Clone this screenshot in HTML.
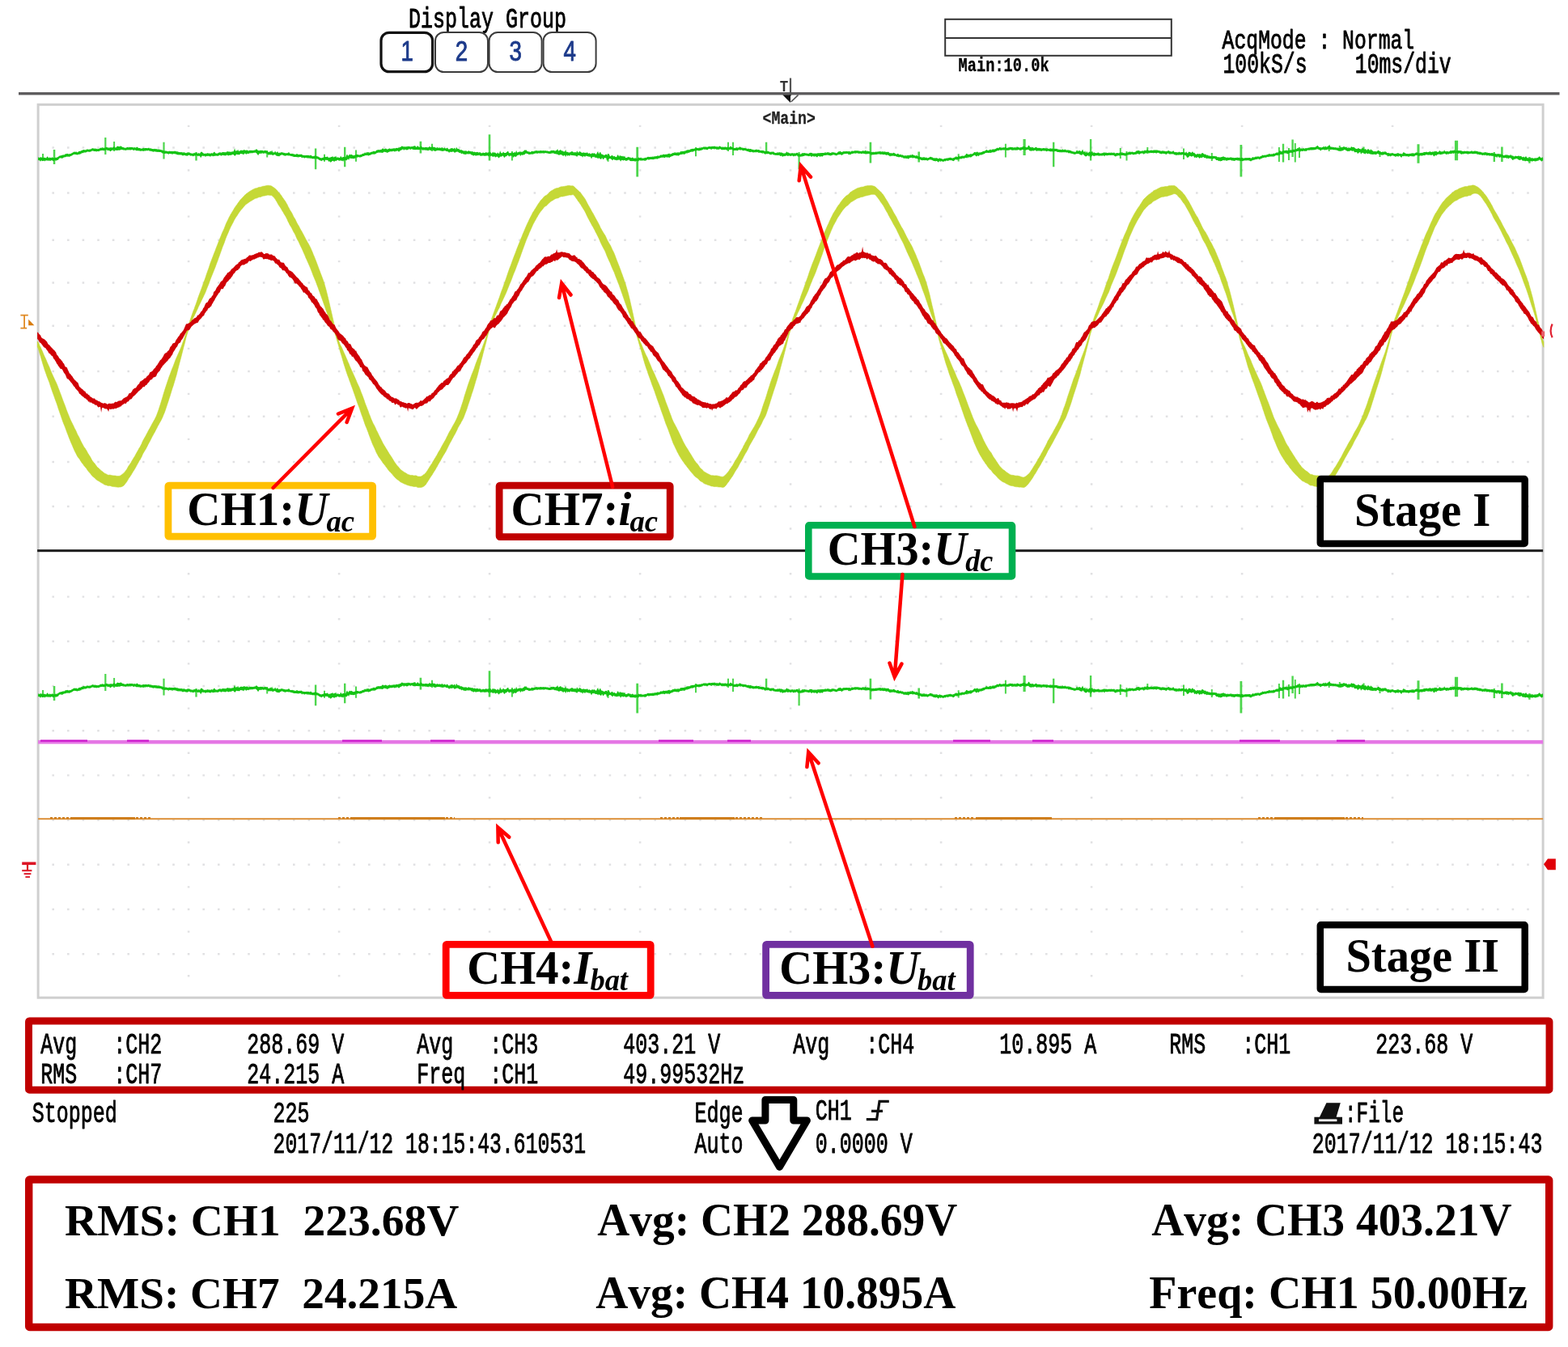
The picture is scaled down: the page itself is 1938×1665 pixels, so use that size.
<!DOCTYPE html>
<html lang="en"><head><meta charset="utf-8"><title>Oscilloscope capture</title>
<style>html,body{margin:0;padding:0;background:#fff;overflow:hidden}svg{display:block}text{white-space:pre;font-kerning:none}</style>
</head><body>
<svg width="1938" height="1665" viewBox="0 0 1938 1665">
<rect width="1938" height="1665" fill="#fff"/>
<defs><clipPath id="plotclip"><rect x="45.6" y="129.3" width="1863" height="1103.9"/></clipPath></defs>
<g style="filter:blur(0.55px)">
<text x="505" y="34.2" font-family="'Liberation Mono','DejaVu Sans Mono',monospace" font-size="35.5" font-weight="normal" fill="#000" textLength="195" lengthAdjust="spacingAndGlyphs" stroke="#000" stroke-width="0.9" stroke-linejoin="round">Display Group</text>
<rect x="471" y="40.3" width="63.6" height="48.4" rx="10" ry="10" fill="#fff" stroke="#111" stroke-width="3.2"/>
<text x="495.4" y="75.4" font-family="'Liberation Sans','DejaVu Sans',sans-serif" font-size="34.6" font-weight="normal" fill="#1c3a8a" textLength="15.4" lengthAdjust="spacingAndGlyphs" stroke="#1c3a8a" stroke-width="0.9" stroke-linejoin="round">1</text>
<rect x="538" y="39.9" width="65" height="49.2" rx="10.5" ry="10.5" fill="#fff" stroke="#3c3c3c" stroke-width="2"/>
<text x="562.8" y="75.4" font-family="'Liberation Sans','DejaVu Sans',sans-serif" font-size="34.6" font-weight="normal" fill="#1c3a8a" textLength="15.4" lengthAdjust="spacingAndGlyphs" stroke="#1c3a8a" stroke-width="0.9" stroke-linejoin="round">2</text>
<rect x="604.6" y="39.9" width="65" height="49.2" rx="10.5" ry="10.5" fill="#fff" stroke="#3c3c3c" stroke-width="2"/>
<text x="629.4" y="75.4" font-family="'Liberation Sans','DejaVu Sans',sans-serif" font-size="34.6" font-weight="normal" fill="#1c3a8a" textLength="15.4" lengthAdjust="spacingAndGlyphs" stroke="#1c3a8a" stroke-width="0.9" stroke-linejoin="round">3</text>
<rect x="671.6" y="39.9" width="65" height="49.2" rx="10.5" ry="10.5" fill="#fff" stroke="#3c3c3c" stroke-width="2"/>
<text x="696.4" y="75.4" font-family="'Liberation Sans','DejaVu Sans',sans-serif" font-size="34.6" font-weight="normal" fill="#1c3a8a" textLength="15.4" lengthAdjust="spacingAndGlyphs" stroke="#1c3a8a" stroke-width="0.9" stroke-linejoin="round">4</text>
<rect x="1168.2" y="23.8" width="279.6" height="45" fill="#fff" stroke="#333" stroke-width="2"/>
<line x1="1168" y1="47" x2="1448" y2="47" stroke="#333" stroke-width="2"/>
<text x="1184.6" y="88.4" font-family="'Liberation Mono','DejaVu Sans Mono',monospace" font-size="23.6" font-weight="bold" fill="#000" textLength="112" lengthAdjust="spacingAndGlyphs" stroke="#000" stroke-width="0.3" stroke-linejoin="round">Main:10.0k</text>
<text x="1510.6" y="60.3" font-family="'Liberation Mono','DejaVu Sans Mono',monospace" font-size="34" font-weight="normal" fill="#000" textLength="237.6" lengthAdjust="spacingAndGlyphs" stroke="#000" stroke-width="0.9" stroke-linejoin="round">AcqMode : Normal</text>
<text x="1511.5" y="89.8" font-family="'Liberation Mono','DejaVu Sans Mono',monospace" font-size="34.6" font-weight="normal" fill="#000" textLength="104" lengthAdjust="spacingAndGlyphs" stroke="#000" stroke-width="0.9" stroke-linejoin="round">100kS/s</text>
<text x="1674.8" y="89.8" font-family="'Liberation Mono','DejaVu Sans Mono',monospace" font-size="34.6" font-weight="normal" fill="#000" textLength="118.8" lengthAdjust="spacingAndGlyphs" stroke="#000" stroke-width="0.9" stroke-linejoin="round">10ms/div</text>
<rect x="23" y="114" width="1904.5" height="3.4" fill="#5e5c5e"/>
<text x="963.8" y="112.8" font-family="'Liberation Mono','DejaVu Sans Mono',monospace" font-size="21" font-weight="bold" fill="#333" textLength="10.5" lengthAdjust="spacingAndGlyphs">T</text>
<rect x="975.9" y="96.5" width="2.2" height="22" fill="#555"/>
<path d="M967.3 117.2 L977 117.2 L977 127 Z" fill="#111"/>
<path d="M977.6 126 L986.6 117.4" stroke="#555" stroke-width="1.6" fill="none"/>
<text x="942.5" y="153" font-family="'Liberation Mono','DejaVu Sans Mono',monospace" font-size="22.5" font-weight="bold" fill="#222" textLength="65.4" lengthAdjust="spacingAndGlyphs" stroke="#222" stroke-width="0.3" stroke-linejoin="round">&lt;Main&gt;</text>
</g>
<g style="filter:blur(0.6px)">
<line x1="64.4" y1="182.5" x2="1905.1" y2="182.5" stroke="#e1e1e3" stroke-width="2.4" stroke-dasharray="2.6 16"/>
<line x1="64.4" y1="238.5" x2="1905.1" y2="238.5" stroke="#e1e1e3" stroke-width="2.4" stroke-dasharray="2.6 16"/>
<line x1="64.4" y1="296.8" x2="1905.1" y2="296.8" stroke="#e1e1e3" stroke-width="2.4" stroke-dasharray="2.6 16"/>
<line x1="64.4" y1="349.5" x2="1905.1" y2="349.5" stroke="#e1e1e3" stroke-width="2.4" stroke-dasharray="2.6 16"/>
<line x1="64.4" y1="402.8" x2="1905.1" y2="402.8" stroke="#e1e1e3" stroke-width="2.4" stroke-dasharray="2.6 16"/>
<line x1="64.4" y1="459" x2="1905.1" y2="459" stroke="#e1e1e3" stroke-width="2.4" stroke-dasharray="2.6 16"/>
<line x1="64.4" y1="514.8" x2="1905.1" y2="514.8" stroke="#e1e1e3" stroke-width="2.4" stroke-dasharray="2.6 16"/>
<line x1="64.4" y1="571" x2="1905.1" y2="571" stroke="#e1e1e3" stroke-width="2.4" stroke-dasharray="2.6 16"/>
<line x1="64.4" y1="626" x2="1905.1" y2="626" stroke="#e1e1e3" stroke-width="2.4" stroke-dasharray="2.6 16"/>
<line x1="64.4" y1="737.6" x2="1905.1" y2="737.6" stroke="#e1e1e3" stroke-width="2.4" stroke-dasharray="2.6 16"/>
<line x1="64.4" y1="792.8" x2="1905.1" y2="792.8" stroke="#e1e1e3" stroke-width="2.4" stroke-dasharray="2.6 16"/>
<line x1="64.4" y1="848" x2="1905.1" y2="848" stroke="#e1e1e3" stroke-width="2.4" stroke-dasharray="2.6 16"/>
<line x1="64.4" y1="903.2" x2="1905.1" y2="903.2" stroke="#e1e1e3" stroke-width="2.4" stroke-dasharray="2.6 16"/>
<line x1="64.4" y1="958.4" x2="1905.1" y2="958.4" stroke="#e1e1e3" stroke-width="2.4" stroke-dasharray="2.6 16"/>
<line x1="64.4" y1="1013.6" x2="1905.1" y2="1013.6" stroke="#e1e1e3" stroke-width="2.4" stroke-dasharray="2.6 16"/>
<line x1="64.4" y1="1068.8" x2="1905.1" y2="1068.8" stroke="#e1e1e3" stroke-width="2.4" stroke-dasharray="2.6 16"/>
<line x1="64.4" y1="1124" x2="1905.1" y2="1124" stroke="#e1e1e3" stroke-width="2.4" stroke-dasharray="2.6 16"/>
<line x1="64.4" y1="1179.2" x2="1905.1" y2="1179.2" stroke="#e1e1e3" stroke-width="2.4" stroke-dasharray="2.6 16"/>
<path d="M233.1 154.7v2.4M233.1 209.3v2.4M233.1 266.4v2.4M233.1 321.9v2.4M233.1 374.9v2.4M233.1 429.7v2.4M233.1 485.7v2.4M233.1 541.7v2.4M233.1 597.3v2.4M233.1 652.3v2.4M233.1 708.1v2.4M233.1 764v2.4M233.1 819.2v2.4M233.1 874.4v2.4M233.1 929.6v2.4M233.1 984.8v2.4M233.1 1040v2.4M233.1 1095.2v2.4M233.1 1150.4v2.4M233.1 1205v2.4" stroke="#e1e1e3" stroke-width="2.6" fill="none"/>
<path d="M419.1 154.7v2.4M419.1 209.3v2.4M419.1 266.4v2.4M419.1 321.9v2.4M419.1 374.9v2.4M419.1 429.7v2.4M419.1 485.7v2.4M419.1 541.7v2.4M419.1 597.3v2.4M419.1 652.3v2.4M419.1 708.1v2.4M419.1 764v2.4M419.1 819.2v2.4M419.1 874.4v2.4M419.1 929.6v2.4M419.1 984.8v2.4M419.1 1040v2.4M419.1 1095.2v2.4M419.1 1150.4v2.4M419.1 1205v2.4" stroke="#e1e1e3" stroke-width="2.6" fill="none"/>
<path d="M605.1 154.7v2.4M605.1 209.3v2.4M605.1 266.4v2.4M605.1 321.9v2.4M605.1 374.9v2.4M605.1 429.7v2.4M605.1 485.7v2.4M605.1 541.7v2.4M605.1 597.3v2.4M605.1 652.3v2.4M605.1 708.1v2.4M605.1 764v2.4M605.1 819.2v2.4M605.1 874.4v2.4M605.1 929.6v2.4M605.1 984.8v2.4M605.1 1040v2.4M605.1 1095.2v2.4M605.1 1150.4v2.4M605.1 1205v2.4" stroke="#e1e1e3" stroke-width="2.6" fill="none"/>
<path d="M791.1 154.7v2.4M791.1 209.3v2.4M791.1 266.4v2.4M791.1 321.9v2.4M791.1 374.9v2.4M791.1 429.7v2.4M791.1 485.7v2.4M791.1 541.7v2.4M791.1 597.3v2.4M791.1 652.3v2.4M791.1 708.1v2.4M791.1 764v2.4M791.1 819.2v2.4M791.1 874.4v2.4M791.1 929.6v2.4M791.1 984.8v2.4M791.1 1040v2.4M791.1 1095.2v2.4M791.1 1150.4v2.4M791.1 1205v2.4" stroke="#e1e1e3" stroke-width="2.6" fill="none"/>
<path d="M977.1 154.7v2.4M977.1 209.3v2.4M977.1 266.4v2.4M977.1 321.9v2.4M977.1 374.9v2.4M977.1 429.7v2.4M977.1 485.7v2.4M977.1 541.7v2.4M977.1 597.3v2.4M977.1 652.3v2.4M977.1 708.1v2.4M977.1 764v2.4M977.1 819.2v2.4M977.1 874.4v2.4M977.1 929.6v2.4M977.1 984.8v2.4M977.1 1040v2.4M977.1 1095.2v2.4M977.1 1150.4v2.4M977.1 1205v2.4" stroke="#e1e1e3" stroke-width="2.6" fill="none"/>
<path d="M1163.1 154.7v2.4M1163.1 209.3v2.4M1163.1 266.4v2.4M1163.1 321.9v2.4M1163.1 374.9v2.4M1163.1 429.7v2.4M1163.1 485.7v2.4M1163.1 541.7v2.4M1163.1 597.3v2.4M1163.1 652.3v2.4M1163.1 708.1v2.4M1163.1 764v2.4M1163.1 819.2v2.4M1163.1 874.4v2.4M1163.1 929.6v2.4M1163.1 984.8v2.4M1163.1 1040v2.4M1163.1 1095.2v2.4M1163.1 1150.4v2.4M1163.1 1205v2.4" stroke="#e1e1e3" stroke-width="2.6" fill="none"/>
<path d="M1349.1 154.7v2.4M1349.1 209.3v2.4M1349.1 266.4v2.4M1349.1 321.9v2.4M1349.1 374.9v2.4M1349.1 429.7v2.4M1349.1 485.7v2.4M1349.1 541.7v2.4M1349.1 597.3v2.4M1349.1 652.3v2.4M1349.1 708.1v2.4M1349.1 764v2.4M1349.1 819.2v2.4M1349.1 874.4v2.4M1349.1 929.6v2.4M1349.1 984.8v2.4M1349.1 1040v2.4M1349.1 1095.2v2.4M1349.1 1150.4v2.4M1349.1 1205v2.4" stroke="#e1e1e3" stroke-width="2.6" fill="none"/>
<path d="M1535.1 154.7v2.4M1535.1 209.3v2.4M1535.1 266.4v2.4M1535.1 321.9v2.4M1535.1 374.9v2.4M1535.1 429.7v2.4M1535.1 485.7v2.4M1535.1 541.7v2.4M1535.1 597.3v2.4M1535.1 652.3v2.4M1535.1 708.1v2.4M1535.1 764v2.4M1535.1 819.2v2.4M1535.1 874.4v2.4M1535.1 929.6v2.4M1535.1 984.8v2.4M1535.1 1040v2.4M1535.1 1095.2v2.4M1535.1 1150.4v2.4M1535.1 1205v2.4" stroke="#e1e1e3" stroke-width="2.6" fill="none"/>
<path d="M1721.1 154.7v2.4M1721.1 209.3v2.4M1721.1 266.4v2.4M1721.1 321.9v2.4M1721.1 374.9v2.4M1721.1 429.7v2.4M1721.1 485.7v2.4M1721.1 541.7v2.4M1721.1 597.3v2.4M1721.1 652.3v2.4M1721.1 708.1v2.4M1721.1 764v2.4M1721.1 819.2v2.4M1721.1 874.4v2.4M1721.1 929.6v2.4M1721.1 984.8v2.4M1721.1 1040v2.4M1721.1 1095.2v2.4M1721.1 1150.4v2.4M1721.1 1205v2.4" stroke="#e1e1e3" stroke-width="2.6" fill="none"/>
<rect x="47.1" y="129.3" width="1860" height="1103.9" fill="none" stroke="#cfcfcf" stroke-width="3"/>
<g id="traces">
<path d="M52 190h2v9h-2zM65.8 185h2.5v18h-2.5zM129.2 170h2.2v21h-2.2zM140.1 175h2v12h-2zM201.4 175.7h2.2v20.7h-2.2zM241.3 188h2.4v10.4h-2.4zM329.2 186h2v8.6h-2zM388.9 183.5h2.4v25.8h-2.4zM400 190.7h2v9h-2zM425 181.7h2.4v24.5h-2.4zM439 185.5h2v14.2h-2zM518.6 174.7h2.6v14.7h-2.6zM533 177.8h2v9.2h-2zM603.7 166.2h2.6v32.2h-2.6zM631.9 187h2v11.4h-2zM750.6 190h2v9.7h-2zM786.3 181.7h2.8v36.9h-2.8zM859 182h2v11.3h-2zM899 175.7h2v11.3h-2zM905 175.7h2v16.3h-2zM945.9 175.7h2.4v14.3h-2.4zM986.5 188h2.2v21.3h-2.2zM1074.6 175.7h2.6v25.8h-2.6zM1134.4 187.6h2.6v12.9h-2.6zM1183.7 190.2h2v9.3h-2zM1241.9 177.8h2v16.8h-2zM1264.5 172.1h3.2v19.9h-3.2zM1301 175.7h2.4v30.5h-2.4zM1346.9 172.1h2.4v26.3h-2.4zM1383.8 183h2v12.9h-2zM1391.5 187h2v11.4h-2zM1417.3 182h2v8h-2zM1462 183.5h2v13.6h-2zM1496.8 189h2v10h-2zM1532.5 179.1h2.8v39.5h-2.8zM1579.9 182h2v18h-2zM1584.8 177.8h2.4v22.7h-2.4zM1592 183h2v15h-2zM1596.4 172.6h2.4v21.4h-2.4zM1599.8 177h2v23.5h-2zM1605 182h2v13h-2zM1641.7 179.9h2v7.1h-2zM1654.8 179.9h2v7.1h-2zM1684.4 181.6h2.2v7.9h-2.2zM1704.5 187h2v6.9h-2zM1751.5 178.2h3v23.5h-3zM1797.9 173.8h4.2v24.4h-4.2zM1845.6 188h2.4v12h-2.4zM1855.1 181.6h2.6v18.4h-2.6zM1889.2 194h2.4v7.7h-2.4z" fill="#3ed33e" opacity="0.92"/>
<path d="M47.1 194.6 48.1 194.6 49.1 195.2 50.1 193.7 51.1 194.8 52.1 194.4 53.1 194.7 54.1 194.7 55.1 194.8 56.1 195 57.1 195.4 58.1 193.4 59.1 193.8 60.1 195.4 61.1 194.6 62.1 194.8 63.1 195.3 64.1 194.5 65.1 194.4 66.1 195.3 67.1 195.3 68.1 194.7 69.1 194.8 70.1 194.8 71.1 194.2 72.1 193.8 73.1 192.7 74.1 192.6 75.1 192.3 76.1 192 77.1 191.8 78.1 191.2 79.1 191.7 80.1 190.7 81.1 190.3 82.1 190.2 83.1 189.7 84.1 190.2 85.1 190.5 86.1 190.1 87.1 190.2 88.1 189.4 89.1 189.1 90.1 188.5 91.1 187.7 92.1 187.4 93.1 188 94.1 187.3 95.1 188.2 96.1 188.2 97.1 187.2 98.1 186.8 99.1 186.9 100.1 186.3 101.1 186 102.1 185.4 103.1 185 104.1 185.3 105.1 185.3 106.1 185.5 107.1 184.5 108.1 184.4 109.1 184.7 110.1 184.7 111.1 184.4 112.1 184.4 113.1 183.7 114.1 183.2 115.1 183.2 116.1 183.7 117.1 183.5 118.1 183.7 119.1 183.8 120.1 184.2 121.1 183.9 122.1 183.9 123.1 183.4 124.1 182.6 125.1 182.9 126.1 182.3 127.1 182.4 128.1 182.7 129.1 182.8 130.1 182.6 131.1 182.1 132.1 181.8 133.1 182.4 134.1 182.5 135.1 182.6 136.1 182.5 137.1 181.9 138.1 182.5 139.1 182.4 140.1 181.8 141.1 181.1 142.1 182.3 143.1 182.6 144.1 181.6 145.1 180.4 146.1 180.9 147.1 180.9 148.1 181.2 149.1 180.2 150.1 181.1 151.1 181.8 152.1 182.1 153.1 182.3 154.1 182.7 155.1 182.8 156.1 182.5 157.1 182 158.1 182 159.1 182.5 160.1 181.8 161.1 181.9 162.1 182 163.1 181.7 164.1 182.2 165.1 182.6 166.1 182.1 167.1 182.5 168.1 182.4 169.1 181.5 170.1 182.1 171.1 182.9 172.1 183.1 173.1 183.1 174.1 183.7 175.1 183.4 176.1 183.5 177.1 182.8 178.1 183.3 179.1 183.1 180.1 183.1 181.1 183 182.1 183.2 183.1 183 184.1 182.4 185.1 183.7 186.1 183.1 187.1 183.8 188.1 183.9 189.1 184.1 190.1 184.3 191.1 183.7 192.1 184.2 193.1 184.1 194.1 184.6 195.1 184.5 196.1 184.6 197.1 184.7 198.1 184.7 199.1 185.5 200.1 185 201.1 186.2 202.1 186.1 203.1 186.6 204.1 186.5 205.1 186.6 206.1 186.8 207.1 186.9 208.1 187.2 209.1 186.6 210.1 187 211.1 186.8 212.1 186.9 213.1 187 214.1 187 215.1 187 216.1 186.4 217.1 186.9 218.1 187.2 219.1 187.3 220.1 187.6 221.1 188 222.1 188.1 223.1 188.3 224.1 187.7 225.1 188.5 226.1 188.3 227.1 188.4 228.1 188.3 229.1 188.9 230.1 189.2 231.1 188.6 232.1 188.5 233.1 188.2 234.1 188.6 235.1 189.1 236.1 189.5 237.1 189.5 238.1 189.8 239.1 189.4 240.1 188.8 241.1 189.4 242.1 188.8 243.1 189.2 244.1 189.9 245.1 188.9 246.1 189.4 247.1 189.7 248.1 188 249.1 187.4 250.1 188.2 251.1 189.2 252.1 189.7 253.1 190 254.1 189.6 255.1 190 256.1 188.9 257.1 189.4 258.1 189.4 259.1 189.6 260.1 190 261.1 189 262.1 189.4 263.1 189.4 264.1 188.2 265.1 187.4 266.1 189.3 267.1 189.4 268.1 189.7 269.1 189.4 270.1 188.8 271.1 188.4 272.1 188.2 273.1 188.7 274.1 188.6 275.1 188 276.1 188.1 277.1 188.3 278.1 188.1 279.1 188.6 280.1 187.4 281.1 187.3 282.1 187.3 283.1 187.8 284.1 187.3 285.1 187.9 286.1 187.4 287.1 187.2 288.1 187.6 289.1 186.2 290.1 183.2 291.1 187.1 292.1 185.8 293.1 186.8 294.1 184.7 295.1 186.9 296.1 186.4 297.1 186.1 298.1 185.5 299.1 186.1 300.1 185.8 301.1 185.5 302.1 185 303.1 186 304.1 185.4 305.1 185.8 306.1 185.5 307.1 186.7 308.1 185.8 309.1 185.7 310.1 186.1 311.1 185.8 312.1 186 313.1 185.9 314.1 185.4 315.1 185.7 316.1 184.7 317.1 184.3 318.1 185.2 319.1 186 320.1 186.2 321.1 185.9 322.1 185.8 323.1 185.9 324.1 185.8 325.1 186.3 326.1 186.5 327.1 185.7 328.1 186 329.1 186.3 330.1 186.7 331.1 187.6 332.1 187.9 333.1 187.7 334.1 186.4 335.1 187.7 336.1 185.4 337.1 188.2 338.1 188.2 339.1 188.4 340.1 186.6 341.1 188.5 342.1 188.3 343.1 187.1 344.1 189.2 345.1 188.6 346.1 188.9 347.1 188.3 348.1 188.3 349.1 188.3 350.1 188.8 351.1 188.8 352.1 189.2 353.1 189.2 354.1 189.3 355.1 189.2 356.1 188.8 357.1 188.1 358.1 189.4 359.1 189.9 360.1 189.9 361.1 189.8 362.1 190.3 363.1 190.2 364.1 190.7 365.1 190.9 366.1 190.6 367.1 190 368.1 190.8 369.1 190.9 370.1 190.7 371.1 191 372.1 190.5 373.1 191.1 374.1 191.8 375.1 191.7 376.1 192.1 377.1 192 378.1 192 379.1 191.7 380.1 192 381.1 191.7 382.1 192.3 383.1 192.2 384.1 191.6 385.1 192.6 386.1 193.1 387.1 193.2 388.1 192.4 389.1 193.1 390.1 192.1 391.1 193 392.1 193.3 393.1 193.6 394.1 194 395.1 194.7 396.1 194.9 397.1 195.5 398.1 195 399.1 194.8 400.1 194.5 401.1 193.7 402.1 193.9 403.1 194 404.1 193.8 405.1 193.4 406.1 195.2 407.1 194.5 408.1 194.8 409.1 193.9 410.1 193.9 411.1 193 412.1 194.8 413.1 193.4 414.1 194.2 415.1 192.6 416.1 194.9 417.1 194.3 418.1 194.5 419.1 195 420.1 195.1 421.1 192.4 422.1 194.5 423.1 194.5 424.1 194.1 425.1 194 426.1 193.9 427.1 194.4 428.1 192.2 429.1 190.6 430.1 192.7 431.1 191.9 432.1 190.4 433.1 191.6 434.1 190.8 435.1 191.3 436.1 192.1 437.1 192.3 438.1 191.8 439.1 191.6 440.1 191 441.1 191 442.1 190.9 443.1 191.2 444.1 191.7 445.1 190.9 446.1 191.2 447.1 190.5 448.1 190 449.1 189.7 450.1 189.4 451.1 188.2 452.1 189.6 453.1 187.9 454.1 188.6 455.1 188 456.1 188.5 457.1 188.7 458.1 188.1 459.1 187.8 460.1 187.4 461.1 187.3 462.1 186.6 463.1 187.2 464.1 187.1 465.1 185.8 466.1 185.6 467.1 185.2 468.1 185 469.1 185.5 470.1 184.8 471.1 185.2 472.1 183.9 473.1 183.2 474.1 184.3 475.1 184.2 476.1 183.8 477.1 183.5 478.1 184.5 479.1 184.5 480.1 184.1 481.1 183.4 482.1 183.5 483.1 184.2 484.1 183.5 485.1 183.7 486.1 183.6 487.1 183 488.1 183.7 489.1 182.9 490.1 182.7 491.1 183.2 492.1 182.6 493.1 182.7 494.1 182 495.1 182.1 496.1 180.7 497.1 180.5 498.1 181.2 499.1 181.3 500.1 181.3 501.1 181.4 502.1 181.1 503.1 181.6 504.1 180.6 505.1 181.3 506.1 180.8 507.1 181.6 508.1 181.2 509.1 181.1 510.1 181.3 511.1 180.5 512.1 180.6 513.1 179.9 514.1 181.8 515.1 181.5 516.1 179.9 517.1 181.3 518.1 181.7 519.1 182 520.1 180.2 521.1 181 522.1 182.2 523.1 182.1 524.1 182.3 525.1 182.2 526.1 181.7 527.1 182 528.1 182.2 529.1 182.3 530.1 182 531.1 180.7 532.1 182.1 533.1 181.9 534.1 180.8 535.1 182.1 536.1 181.6 537.1 181.9 538.1 182.3 539.1 182.9 540.1 181.9 541.1 182.6 542.1 182.7 543.1 182.5 544.1 182.6 545.1 183.2 546.1 181.8 547.1 182.8 548.1 183.4 549.1 182.4 550.1 183 551.1 183.7 552.1 183.1 553.1 182.4 554.1 184.4 555.1 184.3 556.1 184.6 557.1 182.9 558.1 183.5 559.1 182.8 560.1 184 561.1 183.5 562.1 182.6 563.1 184.9 564.1 181.7 565.1 183.6 566.1 184.2 567.1 183.8 568.1 185.1 569.1 185.4 570.1 185.1 571.1 185.7 572.1 186.1 573.1 186.8 574.1 186.3 575.1 186.8 576.1 185.9 577.1 187.2 578.1 186.9 579.1 186.1 580.1 186.9 581.1 186.6 582.1 187.6 583.1 187.1 584.1 187.2 585.1 188 586.1 187.4 587.1 187.9 588.1 188.2 589.1 188 590.1 187.7 591.1 188.6 592.1 188.4 593.1 188.1 594.1 188.8 595.1 189.4 596.1 189 597.1 188.4 598.1 189 599.1 189 600.1 188.6 601.1 188 602.1 189.3 603.1 188 604.1 189.1 605.1 187.8 606.1 187.7 607.1 189.5 608.1 189.4 609.1 187.6 610.1 189 611.1 188.2 612.1 188.8 613.1 189.6 614.1 189.9 615.1 188.2 616.1 189.7 617.1 189.8 618.1 186.2 619.1 188.8 620.1 189.4 621.1 188.9 622.1 187.5 623.1 189 624.1 189 625.1 189 626.1 188.3 627.1 187.2 628.1 186.7 629.1 189.2 630.1 189 631.1 189.3 632.1 188.7 633.1 188.2 634.1 188.9 635.1 188.7 636.1 187.8 637.1 189.1 638.1 185.7 639.1 188.4 640.1 188.3 641.1 187.7 642.1 187.5 643.1 187.5 644.1 187.5 645.1 188.1 646.1 187.2 647.1 187.1 648.1 185.3 649.1 186 650.1 185 651.1 186.4 652.1 187.1 653.1 187.6 654.1 187.3 655.1 187.9 656.1 187.7 657.1 186.7 658.1 187.1 659.1 187.3 660.1 186.8 661.1 186.6 662.1 186.2 663.1 186 664.1 186.4 665.1 186.2 666.1 186.6 667.1 186.3 668.1 186.1 669.1 186.2 670.1 186.3 671.1 186.3 672.1 186 673.1 186.4 674.1 186.1 675.1 186.4 676.1 186.5 677.1 186.4 678.1 186.9 679.1 186.9 680.1 186.7 681.1 185.8 682.1 186.3 683.1 185.8 684.1 185.9 685.1 186 686.1 186.8 687.1 186.1 688.1 185.8 689.1 184.1 690.1 186.8 691.1 186 692.1 185.5 693.1 185.1 694.1 186.8 695.1 185.9 696.1 187.4 697.1 187.1 698.1 187.8 699.1 184.8 700.1 188.1 701.1 187.6 702.1 188.2 703.1 188.5 704.1 188.6 705.1 188.1 706.1 187.2 707.1 187.3 708.1 187.5 709.1 188.6 710.1 188.2 711.1 187.8 712.1 188.9 713.1 186.2 714.1 188.1 715.1 188.8 716.1 187 717.1 187.5 718.1 188 719.1 189.1 720.1 188.8 721.1 188.2 722.1 188.9 723.1 188.5 724.1 189.2 725.1 188.6 726.1 188.5 727.1 190 728.1 189.3 729.1 189.5 730.1 190.5 731.1 189.8 732.1 189 733.1 190 734.1 189.1 735.1 189.7 736.1 190.6 737.1 190.7 738.1 188.6 739.1 187.1 740.1 190.5 741.1 188.6 742.1 187.7 743.1 190.4 744.1 190.5 745.1 191.3 746.1 191.5 747.1 192.1 748.1 191 749.1 190.7 750.1 191.2 751.1 192.2 752.1 189.9 753.1 191.3 754.1 193.2 755.1 193 756.1 191.8 757.1 192.2 758.1 193.5 759.1 192.7 760.1 193.5 761.1 194 762.1 194.3 763.1 191.4 764.1 191.6 765.1 193.8 766.1 191.8 767.1 193 768.1 192.5 769.1 193.6 770.1 192.6 771.1 194.1 772.1 192.5 773.1 194.9 774.1 195 775.1 195 776.1 193.7 777.1 194.3 778.1 194.5 779.1 194.6 780.1 195.4 781.1 194.7 782.1 194.6 783.1 195.7 784.1 195.4 785.1 195.6 786.1 195.6 787.1 195.8 788.1 195.9 789.1 194.5 790.1 195.1 791.1 195.2 792.1 194.6 793.1 195.4 794.1 195.5 795.1 195.5 796.1 195.4 797.1 194.7 798.1 195 799.1 194.8 800.1 194.1 801.1 193.8 802.1 194 803.1 193.9 804.1 193.8 805.1 194.1 806.1 193.6 807.1 193.8 808.1 193.5 809.1 193.2 810.1 193.3 811.1 193.1 812.1 193 813.1 192.1 814.1 193 815.1 192.4 816.1 191.6 817.1 191.6 818.1 191.6 819.1 191.2 820.1 190.6 821.1 191.1 822.1 190.9 823.1 190.6 824.1 191 825.1 190.2 826.1 190.3 827.1 189.6 828.1 190.5 829.1 190.2 830.1 190.1 831.1 188.9 832.1 189.2 833.1 188.6 834.1 188.5 835.1 188.4 836.1 188.8 837.1 188.6 838.1 188.3 839.1 188.5 840.1 188.5 841.1 186.9 842.1 187.3 843.1 187.1 844.1 187 845.1 186.9 846.1 186.5 847.1 186.4 848.1 185.9 849.1 185.3 850.1 185.5 851.1 185.1 852.1 185.4 853.1 184.4 854.1 184.2 855.1 184.1 856.1 183.7 857.1 184.1 858.1 183.5 859.1 183.6 860.1 183.3 861.1 182.7 862.1 183.1 863.1 183.2 864.1 182.4 865.1 182.9 866.1 182.6 867.1 182.3 868.1 182.3 869.1 181.8 870.1 181.3 871.1 181.7 872.1 181.2 873.1 181.7 874.1 181.8 875.1 181.5 876.1 181.1 877.1 181.1 878.1 181.3 879.1 181 880.1 180.9 881.1 180.7 882.1 180.9 883.1 180.6 884.1 181 885.1 181.4 886.1 181.1 887.1 181.5 888.1 181.5 889.1 180.6 890.1 180.7 891.1 181.5 892.1 181.7 893.1 181.6 894.1 181.7 895.1 181.8 896.1 181.5 897.1 181.6 898.1 182.3 899.1 181.3 900.1 181.9 901.1 182.2 902.1 181.5 903.1 180.4 904.1 181.4 905.1 182 906.1 182.6 907.1 183 908.1 182.8 909.1 183.1 910.1 182.1 911.1 182.6 912.1 182.6 913.1 182.4 914.1 181.3 915.1 181.7 916.1 182.3 917.1 182.7 918.1 182.4 919.1 183 920.1 183.1 921.1 183 922.1 183.3 923.1 183.8 924.1 184 925.1 183.6 926.1 184.2 927.1 184 928.1 184.1 929.1 184.7 930.1 184.8 931.1 185.1 932.1 185.5 933.1 185 934.1 184.9 935.1 184.4 936.1 185.2 937.1 185 938.1 185.1 939.1 185.7 940.1 185.9 941.1 185.9 942.1 185.7 943.1 186.2 944.1 185.9 945.1 187.1 946.1 186.7 947.1 186.7 948.1 187 949.1 186.6 950.1 187.3 951.1 187.4 952.1 187.9 953.1 187.6 954.1 187.8 955.1 187.4 956.1 187.5 957.1 188.5 958.1 188.9 959.1 189.1 960.1 188.7 961.1 188.2 962.1 188.7 963.1 188 964.1 188.4 965.1 188.6 966.1 188.6 967.1 188.9 968.1 189.5 969.1 189.4 970.1 189.5 971.1 189.2 972.1 187.2 973.1 188.4 974.1 188.3 975.1 189 976.1 189.5 977.1 189.6 978.1 189.5 979.1 189.1 980.1 189.6 981.1 189.6 982.1 189.2 983.1 189.7 984.1 189 985.1 188.8 986.1 189.2 987.1 190 988.1 190.3 989.1 190.4 990.1 190.6 991.1 189.3 992.1 189.3 993.1 189.2 994.1 189.1 995.1 189.3 996.1 189.4 997.1 189.4 998.1 189.8 999.1 189.9 1000.1 189.5 1001.1 188.8 1002.1 188.9 1003.1 188.8 1004.1 189.4 1005.1 189.8 1006.1 189.6 1007.1 189.7 1008.1 189.4 1009.1 189.7 1010.1 189.5 1011.1 189 1012.1 189.6 1013.1 189 1014.1 189.2 1015.1 189 1016.1 188.9 1017.1 189.1 1018.1 189 1019.1 188.7 1020.1 188.2 1021.1 188.7 1022.1 188.6 1023.1 187.9 1024.1 188.5 1025.1 188.5 1026.1 189.1 1027.1 189.1 1028.1 188.1 1029.1 188.4 1030.1 188 1031.1 188.7 1032.1 188.6 1033.1 189.2 1034.1 189.2 1035.1 188.5 1036.1 187.3 1037.1 187.5 1038.1 186.8 1039.1 187.3 1040.1 187.9 1041.1 187.7 1042.1 187.2 1043.1 187 1044.1 187.2 1045.1 187.1 1046.1 187 1047.1 186.9 1048.1 187.3 1049.1 187 1050.1 187.1 1051.1 187.7 1052.1 186.9 1053.1 186.2 1054.1 187.1 1055.1 186.4 1056.1 186.4 1057.1 186 1058.1 186.5 1059.1 185.9 1060.1 186.5 1061.1 186.3 1062.1 186.8 1063.1 186.7 1064.1 186.9 1065.1 186.9 1066.1 186.3 1067.1 186.4 1068.1 186.6 1069.1 186.5 1070.1 185.6 1071.1 187.3 1072.1 186.3 1073.1 186.9 1074.1 187.1 1075.1 187.3 1076.1 187.9 1077.1 187.7 1078.1 188.3 1079.1 187.6 1080.1 188.2 1081.1 187.7 1082.1 187.7 1083.1 187.5 1084.1 187.8 1085.1 187.3 1086.1 187.4 1087.1 187 1088.1 187.2 1089.1 187.2 1090.1 187.7 1091.1 186.7 1092.1 188.1 1093.1 187.1 1094.1 187.8 1095.1 187.8 1096.1 187.9 1097.1 187.8 1098.1 187.7 1099.1 188.7 1100.1 189.6 1101.1 189.1 1102.1 189.5 1103.1 189.4 1104.1 188.8 1105.1 189 1106.1 189.4 1107.1 190.3 1108.1 190.8 1109.1 189.9 1110.1 189.7 1111.1 190.9 1112.1 191.2 1113.1 190.4 1114.1 191.7 1115.1 191.3 1116.1 191.8 1117.1 192.4 1118.1 192.3 1119.1 192.2 1120.1 192.2 1121.1 192.6 1122.1 191.4 1123.1 192.3 1124.1 192.1 1125.1 190.9 1126.1 192.3 1127.1 190.8 1128.1 191.3 1129.1 191.7 1130.1 191.7 1131.1 192.7 1132.1 192.3 1133.1 192 1134.1 192.9 1135.1 193.3 1136.1 193.6 1137.1 193.8 1138.1 194.2 1139.1 194.4 1140.1 194.6 1141.1 194.6 1142.1 194.1 1143.1 194.7 1144.1 194.8 1145.1 194.4 1146.1 195.4 1147.1 195.1 1148.1 194.9 1149.1 193.9 1150.1 193.8 1151.1 194.3 1152.1 194.3 1153.1 194.9 1154.1 195.4 1155.1 195.3 1156.1 195.6 1157.1 195.2 1158.1 195.3 1159.1 196.1 1160.1 196.2 1161.1 195.3 1162.1 195.8 1163.1 196.1 1164.1 196.2 1165.1 196.7 1166.1 196.7 1167.1 195.9 1168.1 195.9 1169.1 195.7 1170.1 195.5 1171.1 195.6 1172.1 195.2 1173.1 194.9 1174.1 194.8 1175.1 194.8 1176.1 195.2 1177.1 195.6 1178.1 195.2 1179.1 194.7 1180.1 194.6 1181.1 193.5 1182.1 193.6 1183.1 193.9 1184.1 193.9 1185.1 192.6 1186.1 193.4 1187.1 193.2 1188.1 193.1 1189.1 192.6 1190.1 192.7 1191.1 192.8 1192.1 192.6 1193.1 191.8 1194.1 190.3 1195.1 189.7 1196.1 191.1 1197.1 190.7 1198.1 191.1 1199.1 190.3 1200.1 190.2 1201.1 190.4 1202.1 190 1203.1 189.2 1204.1 188.1 1205.1 187.9 1206.1 188.6 1207.1 187.8 1208.1 187.5 1209.1 188.8 1210.1 188.3 1211.1 188.5 1212.1 188.3 1213.1 188 1214.1 187.6 1215.1 186.9 1216.1 186.7 1217.1 186.8 1218.1 185.9 1219.1 185.1 1220.1 185.4 1221.1 185.9 1222.1 185.8 1223.1 185.3 1224.1 184.6 1225.1 185.8 1226.1 184.6 1227.1 184.8 1228.1 184.3 1229.1 184.7 1230.1 184 1231.1 183.7 1232.1 182.7 1233.1 182.8 1234.1 183.2 1235.1 182.1 1236.1 182 1237.1 182.7 1238.1 182.5 1239.1 182.8 1240.1 182.1 1241.1 182.5 1242.1 182.1 1243.1 181.7 1244.1 182.9 1245.1 182.7 1246.1 182.3 1247.1 182.5 1248.1 181.6 1249.1 181.9 1250.1 182.1 1251.1 181.8 1252.1 182.4 1253.1 182.3 1254.1 182.2 1255.1 182.2 1256.1 182.4 1257.1 181.3 1258.1 181.9 1259.1 181.9 1260.1 182.7 1261.1 182.1 1262.1 182.2 1263.1 181.7 1264.1 181.4 1265.1 180.7 1266.1 180.8 1267.1 181.7 1268.1 182 1269.1 182.2 1270.1 181.7 1271.1 179.7 1272.1 180.1 1273.1 182 1274.1 182 1275.1 182.5 1276.1 181.7 1277.1 182.6 1278.1 183 1279.1 182.6 1280.1 181.7 1281.1 181.9 1282.1 182.9 1283.1 182.8 1284.1 182.9 1285.1 182.8 1286.1 183.2 1287.1 183.3 1288.1 183.5 1289.1 183.1 1290.1 183 1291.1 183.2 1292.1 183.3 1293.1 183.2 1294.1 183.3 1295.1 183.5 1296.1 183.9 1297.1 183.7 1298.1 183.3 1299.1 183.8 1300.1 183.4 1301.1 183.7 1302.1 184.1 1303.1 184 1304.1 183.8 1305.1 183.9 1306.1 183.8 1307.1 184.6 1308.1 184.6 1309.1 185 1310.1 184.7 1311.1 184.9 1312.1 185.3 1313.1 184.2 1314.1 185 1315.1 185.3 1316.1 184.6 1317.1 185 1318.1 185.7 1319.1 185.2 1320.1 185.8 1321.1 185.3 1322.1 186 1323.1 186 1324.1 186.5 1325.1 187 1326.1 187.2 1327.1 187.5 1328.1 187.4 1329.1 188 1330.1 187 1331.1 185.3 1332.1 186.9 1333.1 186.3 1334.1 186.3 1335.1 186.2 1336.1 187.6 1337.1 186.6 1338.1 184.6 1339.1 187.3 1340.1 188 1341.1 186.2 1342.1 189.3 1343.1 186.8 1344.1 188.7 1345.1 188.7 1346.1 188.1 1347.1 187.2 1348.1 188.6 1349.1 187.5 1350.1 187 1351.1 189.2 1352.1 188 1353.1 188.9 1354.1 189 1355.1 189.2 1356.1 189 1357.1 188.4 1358.1 188.7 1359.1 189.5 1360.1 189.5 1361.1 189.4 1362.1 189.2 1363.1 189 1364.1 188.6 1365.1 188.6 1366.1 188.7 1367.1 188.6 1368.1 189 1369.1 189 1370.1 188.7 1371.1 188.8 1372.1 188.7 1373.1 188.8 1374.1 188.4 1375.1 189 1376.1 188.7 1377.1 188.4 1378.1 189.6 1379.1 189.5 1380.1 189 1381.1 189 1382.1 189.2 1383.1 189.2 1384.1 188.6 1385.1 188.4 1386.1 188.5 1387.1 188.2 1388.1 189 1389.1 189.1 1390.1 189.2 1391.1 189.4 1392.1 188.6 1393.1 188.7 1394.1 188.4 1395.1 187.6 1396.1 187.8 1397.1 187.6 1398.1 188 1399.1 187.5 1400.1 187.8 1401.1 188.3 1402.1 188 1403.1 187.7 1404.1 187 1405.1 186 1406.1 186.4 1407.1 185.8 1408.1 186.3 1409.1 186.9 1410.1 186.4 1411.1 186.9 1412.1 185.9 1413.1 186.7 1414.1 186.2 1415.1 185.2 1416.1 186.5 1417.1 185.3 1418.1 185.3 1419.1 185.8 1420.1 186.2 1421.1 185.9 1422.1 185.8 1423.1 185.5 1424.1 185.9 1425.1 185.8 1426.1 185.6 1427.1 185.6 1428.1 185.5 1429.1 185.4 1430.1 185.5 1431.1 185.7 1432.1 186.1 1433.1 186.2 1434.1 186.2 1435.1 187 1436.1 186.2 1437.1 186.4 1438.1 186.4 1439.1 186.5 1440.1 187.2 1441.1 186.7 1442.1 187.2 1443.1 186.5 1444.1 186 1445.1 186.6 1446.1 186.9 1447.1 187.2 1448.1 187.4 1449.1 187.3 1450.1 185.9 1451.1 187.4 1452.1 188.2 1453.1 187.8 1454.1 188.3 1455.1 188.2 1456.1 188.4 1457.1 187.5 1458.1 188.1 1459.1 188.4 1460.1 188.1 1461.1 188 1462.1 187.9 1463.1 188.2 1464.1 188.2 1465.1 189 1466.1 187.3 1467.1 189.1 1468.1 189.5 1469.1 187.5 1470.1 188.1 1471.1 187.7 1472.1 189.2 1473.1 187.9 1474.1 187.3 1475.1 189.2 1476.1 188.4 1477.1 189.9 1478.1 190.7 1479.1 190.8 1480.1 189.8 1481.1 190.4 1482.1 190.2 1483.1 189.9 1484.1 190.9 1485.1 189.4 1486.1 189 1487.1 189.4 1488.1 190.5 1489.1 190.8 1490.1 190.6 1491.1 191.9 1492.1 191.2 1493.1 192.3 1494.1 192.6 1495.1 192.4 1496.1 192.9 1497.1 192.9 1498.1 193.1 1499.1 192.9 1500.1 192.7 1501.1 193 1502.1 193.2 1503.1 193.1 1504.1 193.7 1505.1 194.5 1506.1 194.1 1507.1 194.5 1508.1 194.5 1509.1 194.3 1510.1 193.9 1511.1 193.8 1512.1 193.2 1513.1 194 1514.1 194.2 1515.1 194.5 1516.1 194.9 1517.1 194.4 1518.1 194.8 1519.1 194.9 1520.1 194.4 1521.1 194.6 1522.1 194.6 1523.1 195.1 1524.1 194.7 1525.1 195.3 1526.1 195 1527.1 195 1528.1 195.1 1529.1 194.4 1530.1 195.1 1531.1 194.8 1532.1 195.1 1533.1 195.4 1534.1 195 1535.1 194.8 1536.1 195.6 1537.1 195.6 1538.1 195.6 1539.1 195 1540.1 195.3 1541.1 195 1542.1 195.3 1543.1 195 1544.1 195.1 1545.1 195 1546.1 195.7 1547.1 195.2 1548.1 194 1549.1 194.4 1550.1 194.5 1551.1 193.9 1552.1 193.6 1553.1 193.7 1554.1 193.5 1555.1 193.3 1556.1 193.7 1557.1 193.7 1558.1 192.7 1559.1 193 1560.1 191.6 1561.1 191.9 1562.1 192.1 1563.1 191.4 1564.1 191.8 1565.1 191.4 1566.1 191 1567.1 191 1568.1 190.2 1569.1 189.9 1570.1 190.7 1571.1 190.2 1572.1 190.4 1573.1 190.2 1574.1 189.4 1575.1 190 1576.1 189.6 1577.1 188.7 1578.1 188.6 1579.1 188.5 1580.1 188.4 1581.1 187 1582.1 186.1 1583.1 187.1 1584.1 187.4 1585.1 186.4 1586.1 186.1 1587.1 186.4 1588.1 185.7 1589.1 186.3 1590.1 185.2 1591.1 186.4 1592.1 185.2 1593.1 186 1594.1 185.8 1595.1 185.1 1596.1 185.7 1597.1 185.2 1598.1 184.5 1599.1 184.9 1600.1 184.7 1601.1 184.2 1602.1 184.3 1603.1 183.8 1604.1 182.6 1605.1 183.6 1606.1 183.4 1607.1 183.5 1608.1 183.6 1609.1 183.4 1610.1 183.5 1611.1 183.1 1612.1 183.8 1613.1 183.4 1614.1 182.8 1615.1 183.6 1616.1 182.7 1617.1 182.7 1618.1 182.5 1619.1 182.2 1620.1 182.1 1621.1 182 1622.1 181.9 1623.1 182.1 1624.1 182 1625.1 181.9 1626.1 181.4 1627.1 181 1628.1 179.8 1629.1 180.5 1630.1 181.8 1631.1 182.1 1632.1 182.1 1633.1 182.5 1634.1 182 1635.1 181.7 1636.1 180.8 1637.1 182.1 1638.1 180.6 1639.1 181.6 1640.1 181.8 1641.1 180.6 1642.1 180.9 1643.1 178.6 1644.1 180.9 1645.1 181.8 1646.1 181.4 1647.1 182.3 1648.1 181.8 1649.1 182.2 1650.1 182.3 1651.1 182 1652.1 182.7 1653.1 182.6 1654.1 182.4 1655.1 183.2 1656.1 182.5 1657.1 181.7 1658.1 182.2 1659.1 182 1660.1 181.6 1661.1 181 1662.1 181.7 1663.1 181.7 1664.1 181.8 1665.1 182.8 1666.1 183.2 1667.1 182.1 1668.1 182.9 1669.1 182.8 1670.1 181 1671.1 182.1 1672.1 181.8 1673.1 182 1674.1 182.3 1675.1 183.4 1676.1 183.7 1677.1 184.2 1678.1 183.5 1679.1 182.9 1680.1 184 1681.1 184.1 1682.1 184.7 1683.1 183.4 1684.1 183.1 1685.1 183.5 1686.1 184.5 1687.1 184.6 1688.1 183.9 1689.1 186 1690.1 184.6 1691.1 184.3 1692.1 184.8 1693.1 186.2 1694.1 184.3 1695.1 185.4 1696.1 185.8 1697.1 187.1 1698.1 187.2 1699.1 187 1700.1 186.9 1701.1 187.5 1702.1 186.7 1703.1 185.9 1704.1 185.8 1705.1 187.1 1706.1 187.6 1707.1 187.9 1708.1 187.9 1709.1 187.3 1710.1 188.1 1711.1 187.3 1712.1 187.6 1713.1 187.6 1714.1 188.7 1715.1 189.2 1716.1 188.7 1717.1 189.5 1718.1 189.6 1719.1 189.6 1720.1 189.2 1721.1 188.9 1722.1 189.6 1723.1 189.9 1724.1 190.1 1725.1 189.9 1726.1 189.8 1727.1 189.2 1728.1 189.2 1729.1 189.5 1730.1 190.2 1731.1 189.8 1732.1 190.2 1733.1 190.5 1734.1 188.6 1735.1 188.3 1736.1 189.1 1737.1 189.5 1738.1 189.9 1739.1 189.9 1740.1 189.9 1741.1 190.2 1742.1 189.8 1743.1 190.1 1744.1 189.5 1745.1 189.5 1746.1 189.3 1747.1 189.5 1748.1 189.8 1749.1 189.2 1750.1 188.5 1751.1 188.5 1752.1 188.6 1753.1 189.2 1754.1 189.3 1755.1 189.2 1756.1 188.8 1757.1 188.9 1758.1 188.7 1759.1 188.5 1760.1 188.1 1761.1 187.9 1762.1 187.9 1763.1 187.6 1764.1 188.2 1765.1 188.1 1766.1 187.8 1767.1 187.3 1768.1 187.6 1769.1 187.9 1770.1 187.7 1771.1 187.2 1772.1 188.1 1773.1 186.6 1774.1 187.6 1775.1 186.4 1776.1 187.8 1777.1 187.8 1778.1 187.7 1779.1 186 1780.1 186.7 1781.1 187.5 1782.1 187.3 1783.1 187.3 1784.1 187.3 1785.1 185.3 1786.1 187.2 1787.1 187 1788.1 187.2 1789.1 186.7 1790.1 187.4 1791.1 187.2 1792.1 186.6 1793.1 185.8 1794.1 186.6 1795.1 185.8 1796.1 186.3 1797.1 185.6 1798.1 185.8 1799.1 186.4 1800.1 186.2 1801.1 186.3 1802.1 186 1803.1 186.3 1804.1 185.9 1805.1 186.2 1806.1 186.3 1807.1 186.7 1808.1 187.1 1809.1 187 1810.1 186.5 1811.1 186.9 1812.1 186.8 1813.1 186.7 1814.1 186.8 1815.1 187.1 1816.1 187.2 1817.1 186.9 1818.1 186.9 1819.1 186 1820.1 187.3 1821.1 187.1 1822.1 186.5 1823.1 186.7 1824.1 186.4 1825.1 187 1826.1 187.1 1827.1 187.4 1828.1 187.7 1829.1 187.6 1830.1 187.9 1831.1 188.3 1832.1 188.7 1833.1 188.5 1834.1 188.7 1835.1 188.1 1836.1 188.2 1837.1 188.5 1838.1 188.5 1839.1 189 1840.1 189 1841.1 189 1842.1 189.5 1843.1 188.9 1844.1 189.2 1845.1 189 1846.1 189.8 1847.1 190 1848.1 190 1849.1 190.3 1850.1 190.6 1851.1 190.1 1852.1 190.2 1853.1 190.2 1854.1 190.4 1855.1 190.5 1856.1 191.1 1857.1 191.2 1858.1 191.9 1859.1 192.2 1860.1 191.2 1861.1 191.7 1862.1 191.3 1863.1 191.4 1864.1 192.1 1865.1 191.8 1866.1 192.5 1867.1 190.8 1868.1 192.3 1869.1 192.4 1870.1 192.6 1871.1 193.5 1872.1 193.3 1873.1 192.4 1874.1 192.9 1875.1 193 1876.1 193 1877.1 192.3 1878.1 193.3 1879.1 193.1 1880.1 192.8 1881.1 194.3 1882.1 194.2 1883.1 193.5 1884.1 194.7 1885.1 194 1886.1 193.1 1887.1 194.8 1888.1 195.4 1889.1 195 1890.1 195.7 1891.1 195.3 1892.1 195.2 1893.1 195.6 1894.1 195 1895.1 195.9 1896.1 195.6 1897.1 195.6 1898.1 195.2 1899.1 195.4 1900.1 194.9 1901.1 194.7 1902.1 193.4 1903.1 193.6 1904.1 194.7 1905.1 195.4 1906.1 194 1907.1 195.2 1907.1 198.7 1906.1 198.7 1905.1 199.8 1904.1 198.3 1903.1 197.8 1902.1 197.5 1901.1 199 1900.1 198.6 1899.1 199.2 1898.1 199.2 1897.1 199.5 1896.1 199.1 1895.1 199.1 1894.1 199.6 1893.1 199.5 1892.1 199 1891.1 199.5 1890.1 198.7 1889.1 200 1888.1 199.1 1887.1 199.1 1886.1 198.8 1885.1 199.6 1884.1 198.8 1883.1 198.6 1882.1 199 1881.1 197.7 1880.1 197 1879.1 198 1878.1 197.8 1877.1 197.8 1876.1 196.7 1875.1 196.2 1874.1 196 1873.1 196.2 1872.1 196.9 1871.1 196.4 1870.1 198.3 1869.1 197.5 1868.1 196.3 1867.1 195.3 1866.1 195.2 1865.1 195.4 1864.1 196.4 1863.1 195.1 1862.1 196 1861.1 195.1 1860.1 195 1859.1 195.5 1858.1 195.1 1857.1 195 1856.1 194.3 1855.1 194.7 1854.1 194 1853.1 195.3 1852.1 193.8 1851.1 193.3 1850.1 195.2 1849.1 193.5 1848.1 193.9 1847.1 193.6 1846.1 193.2 1845.1 192.4 1844.1 192.9 1843.1 192.6 1842.1 192.5 1841.1 192.6 1840.1 192.4 1839.1 191.8 1838.1 192.6 1837.1 192.2 1836.1 191.3 1835.1 192.2 1834.1 191.6 1833.1 191.7 1832.1 192 1831.1 191.6 1830.1 190.9 1829.1 191.4 1828.1 190.9 1827.1 190.8 1826.1 190.8 1825.1 190.5 1824.1 189.7 1823.1 190.3 1822.1 190 1821.1 190.2 1820.1 190.2 1819.1 190.1 1818.1 189.8 1817.1 190.1 1816.1 190.2 1815.1 190.3 1814.1 190.7 1813.1 189.9 1812.1 190 1811.1 189.8 1810.1 190.1 1809.1 190.2 1808.1 190.4 1807.1 190.2 1806.1 190.9 1805.1 190 1804.1 189.5 1803.1 189.5 1802.1 189.9 1801.1 189.4 1800.1 189.1 1799.1 189.4 1798.1 189.2 1797.1 189.5 1796.1 190.1 1795.1 189.2 1794.1 189.9 1793.1 190.3 1792.1 189.8 1791.1 190.3 1790.1 190.7 1789.1 190.3 1788.1 190.9 1787.1 190.8 1786.1 190.1 1785.1 189.8 1784.1 190.2 1783.1 190.7 1782.1 190.6 1781.1 191.2 1780.1 191.1 1779.1 190.7 1778.1 190.6 1777.1 191.1 1776.1 191.2 1775.1 192.8 1774.1 191.4 1773.1 192.7 1772.1 193.6 1771.1 191.4 1770.1 191.2 1769.1 192 1768.1 191.7 1767.1 191.3 1766.1 191.8 1765.1 191.5 1764.1 191.4 1763.1 191.3 1762.1 191.3 1761.1 192.3 1760.1 192 1759.1 192.1 1758.1 192.4 1757.1 192.5 1756.1 192.4 1755.1 192.2 1754.1 193.1 1753.1 192.7 1752.1 191.9 1751.1 191.8 1750.1 192.1 1749.1 192.3 1748.1 193.3 1747.1 193.4 1746.1 192.9 1745.1 193.5 1744.1 192.7 1743.1 192.9 1742.1 193.3 1741.1 193.7 1740.1 193.6 1739.1 193.1 1738.1 193.2 1737.1 193.2 1736.1 192.4 1735.1 193.4 1734.1 192.8 1733.1 193.3 1732.1 195 1731.1 193.8 1730.1 193.1 1729.1 192.5 1728.1 194 1727.1 193.1 1726.1 192.9 1725.1 193.9 1724.1 193.3 1723.1 193.1 1722.1 192.6 1721.1 192.3 1720.1 192.4 1719.1 192.9 1718.1 193.5 1717.1 192.5 1716.1 193.1 1715.1 193.4 1714.1 191.6 1713.1 191.7 1712.1 191.1 1711.1 190.7 1710.1 191.5 1709.1 191.6 1708.1 191.8 1707.1 191.6 1706.1 190.9 1705.1 191.1 1704.1 190.7 1703.1 190.1 1702.1 190.1 1701.1 191.1 1700.1 191.2 1699.1 190.6 1698.1 191.1 1697.1 190.8 1696.1 191 1695.1 190.8 1694.1 190.6 1693.1 190.6 1692.1 189.8 1691.1 189.7 1690.1 190.5 1689.1 189.2 1688.1 189.5 1687.1 190.7 1686.1 189.5 1685.1 188.9 1684.1 188.5 1683.1 189.3 1682.1 190.8 1681.1 187.7 1680.1 188.4 1679.1 188.9 1678.1 190.3 1677.1 188.2 1676.1 188.1 1675.1 188.2 1674.1 188.3 1673.1 186.5 1672.1 186.4 1671.1 187.1 1670.1 186.1 1669.1 186.2 1668.1 186.5 1667.1 187.3 1666.1 186.5 1665.1 187.2 1664.1 185.9 1663.1 185.8 1662.1 184.9 1661.1 185.2 1660.1 185.9 1659.1 186.4 1658.1 186.3 1657.1 187.2 1656.1 185.5 1655.1 186.6 1654.1 186.4 1653.1 186 1652.1 185.6 1651.1 185.5 1650.1 185.2 1649.1 185.3 1648.1 185.3 1647.1 185.1 1646.1 184.8 1645.1 184.9 1644.1 184.9 1643.1 184.6 1642.1 184.7 1641.1 184.4 1640.1 185 1639.1 185.6 1638.1 185.1 1637.1 185.7 1636.1 184.8 1635.1 185 1634.1 185 1633.1 185.6 1632.1 186.4 1631.1 185.3 1630.1 184.9 1629.1 184.5 1628.1 184.3 1627.1 184.4 1626.1 184.9 1625.1 185.1 1624.1 185.4 1623.1 185.2 1622.1 185.4 1621.1 185.5 1620.1 185.6 1619.1 185.5 1618.1 185.7 1617.1 185.8 1616.1 185.6 1615.1 186.6 1614.1 187.1 1613.1 186.5 1612.1 186.9 1611.1 186.2 1610.1 186.9 1609.1 187.1 1608.1 186.4 1607.1 187.7 1606.1 186.4 1605.1 186.5 1604.1 187.1 1603.1 186.9 1602.1 187.4 1601.1 187.5 1600.1 188.1 1599.1 188 1598.1 188.2 1597.1 189.3 1596.1 188.7 1595.1 188.7 1594.1 189.1 1593.1 189.4 1592.1 189.9 1591.1 190.6 1590.1 189.4 1589.1 189.6 1588.1 189.5 1587.1 189.2 1586.1 190.6 1585.1 190.8 1584.1 191.1 1583.1 190.8 1582.1 191 1581.1 192.6 1580.1 191.3 1579.1 192.5 1578.1 191.8 1577.1 192.1 1576.1 192.6 1575.1 193.3 1574.1 193.4 1573.1 193.4 1572.1 193.5 1571.1 193.4 1570.1 193.6 1569.1 193.7 1568.1 193.7 1567.1 194.2 1566.1 193.8 1565.1 194.8 1564.1 194.8 1563.1 194.4 1562.1 195 1561.1 195 1560.1 195.5 1559.1 196.1 1558.1 196 1557.1 197.4 1556.1 196.6 1555.1 196.6 1554.1 196.6 1553.1 197.1 1552.1 197.1 1551.1 197.2 1550.1 197.7 1549.1 197.7 1548.1 198.2 1547.1 198.4 1546.1 199.4 1545.1 198.9 1544.1 198.5 1543.1 198.2 1542.1 198.2 1541.1 198.3 1540.1 198.4 1539.1 198.3 1538.1 198.5 1537.1 198.5 1536.1 199.2 1535.1 199.1 1534.1 198.7 1533.1 199.2 1532.1 198.6 1531.1 198.5 1530.1 198.5 1529.1 198.2 1528.1 198 1527.1 198.3 1526.1 198.7 1525.1 199 1524.1 198.4 1523.1 198.5 1522.1 198.4 1521.1 197.8 1520.1 197.8 1519.1 198 1518.1 198 1517.1 198.4 1516.1 198.6 1515.1 198.8 1514.1 197.5 1513.1 198.7 1512.1 197.7 1511.1 198.3 1510.1 199 1509.1 198.9 1508.1 199.4 1507.1 198.5 1506.1 199.3 1505.1 197.9 1504.1 197.9 1503.1 198 1502.1 196.4 1501.1 196.1 1500.1 196 1499.1 196.4 1498.1 196.7 1497.1 195.8 1496.1 196.5 1495.1 196 1494.1 195.9 1493.1 195.7 1492.1 195.7 1491.1 196.3 1490.1 194.8 1489.1 195.4 1488.1 194.8 1487.1 194.1 1486.1 194.5 1485.1 195.4 1484.1 194.4 1483.1 195.6 1482.1 195.7 1481.1 194.2 1480.1 194.1 1479.1 195.6 1478.1 194.5 1477.1 194.5 1476.1 195 1475.1 192.5 1474.1 193.1 1473.1 193.6 1472.1 193.5 1471.1 192.8 1470.1 192.8 1469.1 194.6 1468.1 194.5 1467.1 194.9 1466.1 192.6 1465.1 192.3 1464.1 191.8 1463.1 191.6 1462.1 191.2 1461.1 190.9 1460.1 191.7 1459.1 191.6 1458.1 191.3 1457.1 191.8 1456.1 191.6 1455.1 191.5 1454.1 192 1453.1 191.4 1452.1 191.4 1451.1 190.9 1450.1 190.2 1449.1 190.4 1448.1 190.2 1447.1 190.6 1446.1 190.5 1445.1 190.5 1444.1 189.8 1443.1 189.4 1442.1 190.4 1441.1 191.1 1440.1 190.3 1439.1 189.9 1438.1 190 1437.1 189.8 1436.1 190 1435.1 190.5 1434.1 189.7 1433.1 189.7 1432.1 189.1 1431.1 188.7 1430.1 188.9 1429.1 189.7 1428.1 188.9 1427.1 188.9 1426.1 189.3 1425.1 189.2 1424.1 188.9 1423.1 189 1422.1 189.2 1421.1 188.8 1420.1 189.7 1419.1 188.8 1418.1 188.8 1417.1 189.3 1416.1 189.6 1415.1 189.6 1414.1 190.6 1413.1 190.6 1412.1 189.3 1411.1 189.8 1410.1 189.6 1409.1 190.3 1408.1 191.1 1407.1 190.3 1406.1 190 1405.1 190.3 1404.1 191.1 1403.1 190.7 1402.1 191 1401.1 191.2 1400.1 191.2 1399.1 190.4 1398.1 190.8 1397.1 191.4 1396.1 190.9 1395.1 191.4 1394.1 191.4 1393.1 191.8 1392.1 192.2 1391.1 192.8 1390.1 192.6 1389.1 192.2 1388.1 192.1 1387.1 192.1 1386.1 192 1385.1 191.6 1384.1 192.2 1383.1 192.5 1382.1 192 1381.1 192.7 1380.1 192.6 1379.1 193.4 1378.1 193.2 1377.1 192.4 1376.1 191.8 1375.1 192 1374.1 191.8 1373.1 192.1 1372.1 191.9 1371.1 191.7 1370.1 192.1 1369.1 192 1368.1 192.6 1367.1 191.9 1366.1 192.1 1365.1 193.4 1364.1 192.1 1363.1 192.4 1362.1 192.5 1361.1 192.4 1360.1 192.5 1359.1 192.5 1358.1 192.8 1357.1 192.3 1356.1 192.3 1355.1 192.2 1354.1 192.6 1353.1 192.6 1352.1 193.3 1351.1 192.5 1350.1 192.1 1349.1 193.2 1348.1 195.1 1347.1 191.8 1346.1 193.7 1345.1 192.4 1344.1 192.1 1343.1 193.2 1342.1 193.2 1341.1 193.2 1340.1 191.9 1339.1 191.3 1338.1 190.3 1337.1 192.2 1336.1 191.2 1335.1 191.5 1334.1 190.5 1333.1 190 1332.1 190.2 1331.1 190.1 1330.1 190.3 1329.1 190.7 1328.1 190.7 1327.1 190.7 1326.1 190 1325.1 189.9 1324.1 189.8 1323.1 189.5 1322.1 189.2 1321.1 189.3 1320.1 189.2 1319.1 188.1 1318.1 188.8 1317.1 188.3 1316.1 188 1315.1 188.4 1314.1 188.1 1313.1 188.2 1312.1 188.5 1311.1 187.9 1310.1 188.4 1309.1 188.1 1308.1 187.9 1307.1 187.9 1306.1 187.4 1305.1 187.1 1304.1 186.9 1303.1 187.3 1302.1 187.2 1301.1 187.8 1300.1 187 1299.1 187.5 1298.1 187.3 1297.1 187 1296.1 186.7 1295.1 186.5 1294.1 186.9 1293.1 187.3 1292.1 186.3 1291.1 186.4 1290.1 186.4 1289.1 186.2 1288.1 186.6 1287.1 186.9 1286.1 186.7 1285.1 186.3 1284.1 186.8 1283.1 186.2 1282.1 186.4 1281.1 186.9 1280.1 185.7 1279.1 185.8 1278.1 186 1277.1 186.8 1276.1 185.9 1275.1 186.7 1274.1 186.5 1273.1 186.4 1272.1 186 1271.1 184.8 1270.1 185.1 1269.1 185 1268.1 185.7 1267.1 185.5 1266.1 185.5 1265.1 184.9 1264.1 184.9 1263.1 185 1262.1 185.9 1261.1 185.8 1260.1 185.7 1259.1 185.1 1258.1 185.3 1257.1 185.7 1256.1 185.5 1255.1 185.7 1254.1 185.5 1253.1 185.4 1252.1 185.8 1251.1 185.7 1250.1 185.6 1249.1 184.9 1248.1 185.1 1247.1 185.9 1246.1 185.5 1245.1 185.9 1244.1 185.7 1243.1 185.2 1242.1 185.5 1241.1 185.5 1240.1 185.5 1239.1 185.6 1238.1 185.4 1237.1 186 1236.1 185.5 1235.1 185.6 1234.1 186.5 1233.1 185.9 1232.1 186.5 1231.1 187.3 1230.1 187.5 1229.1 188.3 1228.1 188.3 1227.1 188.2 1226.1 188.2 1225.1 188.8 1224.1 188.9 1223.1 188.7 1222.1 189.1 1221.1 188.9 1220.1 188.7 1219.1 189 1218.1 189.1 1217.1 189.8 1216.1 190.4 1215.1 190.4 1214.1 191.3 1213.1 191.3 1212.1 191.8 1211.1 191.3 1210.1 192.5 1209.1 193.3 1208.1 192 1207.1 193.4 1206.1 193 1205.1 191.8 1204.1 191.8 1203.1 192.5 1202.1 192.9 1201.1 193.7 1200.1 194.6 1199.1 194.4 1198.1 193.9 1197.1 195 1196.1 194.2 1195.1 195.7 1194.1 194.7 1193.1 195.3 1192.1 195.6 1191.1 196 1190.1 195.6 1189.1 196 1188.1 196.4 1187.1 196.3 1186.1 196.6 1185.1 196.7 1184.1 197.3 1183.1 197.6 1182.1 197.5 1181.1 197.1 1180.1 197.8 1179.1 198.7 1178.1 199.2 1177.1 198.6 1176.1 198.2 1175.1 198 1174.1 198.3 1173.1 198 1172.1 198.7 1171.1 198.9 1170.1 198.2 1169.1 198.9 1168.1 199.5 1167.1 199.1 1166.1 199.9 1165.1 199.8 1164.1 199.2 1163.1 199.3 1162.1 200 1161.1 198.7 1160.1 200.4 1159.1 200.2 1158.1 199.1 1157.1 199 1156.1 199.4 1155.1 199 1154.1 199 1153.1 198.4 1152.1 198.1 1151.1 197.4 1150.1 197.6 1149.1 197.2 1148.1 197.8 1147.1 198.2 1146.1 198.7 1145.1 197.9 1144.1 197.9 1143.1 198.2 1142.1 198.1 1141.1 198 1140.1 198.3 1139.1 198 1138.1 197.8 1137.1 196.9 1136.1 196.8 1135.1 197.3 1134.1 196.2 1133.1 195.7 1132.1 196.1 1131.1 195.5 1130.1 195.2 1129.1 195.1 1128.1 195.7 1127.1 194.8 1126.1 195.1 1125.1 195.1 1124.1 195.3 1123.1 196.5 1122.1 196.2 1121.1 195.7 1120.1 196.1 1119.1 195.8 1118.1 195.5 1117.1 196.1 1116.1 195 1115.1 194.6 1114.1 194.7 1113.1 194.1 1112.1 194.1 1111.1 194.5 1110.1 193.9 1109.1 193.8 1108.1 193.8 1107.1 193.1 1106.1 192.7 1105.1 192.9 1104.1 192.5 1103.1 192.5 1102.1 192.9 1101.1 192.4 1100.1 193.5 1099.1 192.6 1098.1 192.1 1097.1 191.4 1096.1 191.5 1095.1 192 1094.1 191.1 1093.1 190.9 1092.1 191.2 1091.1 190.9 1090.1 190.7 1089.1 190.8 1088.1 190.9 1087.1 190.6 1086.1 190.5 1085.1 190.6 1084.1 190.7 1083.1 191 1082.1 191 1081.1 191 1080.1 191.2 1079.1 191.3 1078.1 191.2 1077.1 191.7 1076.1 191 1075.1 190.3 1074.1 190.2 1073.1 190.1 1072.1 190.2 1071.1 190.5 1070.1 190.2 1069.1 190.4 1068.1 189.8 1067.1 190 1066.1 189.5 1065.1 190.3 1064.1 190 1063.1 189.6 1062.1 189.9 1061.1 189.7 1060.1 189.5 1059.1 189.3 1058.1 189.4 1057.1 189.8 1056.1 189.6 1055.1 189.6 1054.1 190.1 1053.1 190.1 1052.1 190.3 1051.1 191.4 1050.1 190.4 1049.1 191.4 1048.1 190.2 1047.1 189.8 1046.1 190.2 1045.1 190.1 1044.1 190.3 1043.1 190.3 1042.1 190.7 1041.1 191.4 1040.1 191.9 1039.1 191 1038.1 191.1 1037.1 191.1 1036.1 191.2 1035.1 191.6 1034.1 192.3 1033.1 192.3 1032.1 191.8 1031.1 191.6 1030.1 191.3 1029.1 191.5 1028.1 191.9 1027.1 192.3 1026.1 192.4 1025.1 192 1024.1 192.1 1023.1 191.6 1022.1 191.7 1021.1 191.7 1020.1 192 1019.1 191.9 1018.1 192 1017.1 193.1 1016.1 193.8 1015.1 193 1014.1 193.5 1013.1 193.7 1012.1 192.8 1011.1 192.9 1010.1 194.6 1009.1 193.9 1008.1 193 1007.1 193.4 1006.1 193.6 1005.1 193.2 1004.1 192.8 1003.1 194.2 1002.1 193.1 1001.1 192.5 1000.1 193.2 999.1 193.1 998.1 192.7 997.1 192.4 996.1 192.6 995.1 192.3 994.1 192.8 993.1 193.1 992.1 193.3 991.1 193.5 990.1 193.6 989.1 193.8 988.1 193.5 987.1 193.4 986.1 193.5 985.1 192.3 984.1 192.2 983.1 193.3 982.1 192.6 981.1 193.6 980.1 193.1 979.1 192.3 978.1 192.7 977.1 193.1 976.1 192.8 975.1 192.2 974.1 192.9 973.1 192.7 972.1 191.9 971.1 193.1 970.1 192.7 969.1 193.3 968.1 192.9 967.1 193.9 966.1 192.4 965.1 192.8 964.1 192.9 963.1 191.6 962.1 191.9 961.1 192.1 960.1 191.8 959.1 191.9 958.1 191.8 957.1 191.4 956.1 191.5 955.1 190.8 954.1 190.6 953.1 191.4 952.1 190.9 951.1 190.7 950.1 190.3 949.1 189.9 948.1 190.5 947.1 190 946.1 190.7 945.1 190.5 944.1 189.5 943.1 189.3 942.1 189.7 941.1 189 940.1 188.9 939.1 188.6 938.1 188.9 937.1 188.4 936.1 188 935.1 188.2 934.1 188.2 933.1 188.3 932.1 188.2 931.1 188.5 930.1 188.3 929.1 187.8 928.1 187.7 927.1 188.3 926.1 187.7 925.1 187.6 924.1 187.1 923.1 186.9 922.1 186.2 921.1 186.3 920.1 185.8 919.1 186.2 918.1 186.2 917.1 185.6 916.1 185.3 915.1 185.7 914.1 185.2 913.1 185.3 912.1 185.7 911.1 186.4 910.1 185.8 909.1 186.1 908.1 186 907.1 185.9 906.1 185.9 905.1 185 904.1 184.8 903.1 184.9 902.1 184.9 901.1 185.3 900.1 185 899.1 185.7 898.1 185.4 897.1 185.2 896.1 184.7 895.1 185.5 894.1 184.9 893.1 185.3 892.1 185.3 891.1 184.7 890.1 184.1 889.1 184.5 888.1 184.9 887.1 184.6 886.1 184.9 885.1 184.5 884.1 184 883.1 184.5 882.1 184.2 881.1 184.1 880.1 184.2 879.1 184.9 878.1 184.3 877.1 184.1 876.1 184.1 875.1 184.5 874.1 185.4 873.1 185 872.1 184.5 871.1 185 870.1 184.5 869.1 184.6 868.1 185.5 867.1 185.6 866.1 186.1 865.1 186 864.1 186.5 863.1 186.3 862.1 186 861.1 186 860.1 186.6 859.1 186.8 858.1 186.6 857.1 187.2 856.1 187.7 855.1 187.4 854.1 187.7 853.1 188 852.1 188.6 851.1 189 850.1 188.8 849.1 189.9 848.1 189 847.1 190.3 846.1 190.7 845.1 190.8 844.1 190.6 843.1 190.7 842.1 191 841.1 191.1 840.1 191.4 839.1 192.3 838.1 192.7 837.1 192.1 836.1 192.6 835.1 192.1 834.1 192 833.1 192.1 832.1 192.6 831.1 192.9 830.1 193.2 829.1 193.7 828.1 194.2 827.1 195.3 826.1 194.3 825.1 194.4 824.1 194.7 823.1 194.1 822.1 194.7 821.1 195.2 820.1 194.5 819.1 194.8 818.1 194.8 817.1 194.8 816.1 195.3 815.1 195.5 814.1 195.8 813.1 196 812.1 197 811.1 196.1 810.1 196.8 809.1 196.4 808.1 197 807.1 197.2 806.1 197 805.1 196.9 804.1 197 803.1 197 802.1 197.8 801.1 197.3 800.1 197.1 799.1 197.9 798.1 198.4 797.1 198.7 796.1 198.5 795.1 198.3 794.1 198.6 793.1 198.6 792.1 198.4 791.1 198.4 790.1 198 789.1 199.5 788.1 198.9 787.1 198.9 786.1 199 785.1 199.8 784.1 199.2 783.1 199.1 782.1 199.2 781.1 199.1 780.1 199.2 779.1 198.9 778.1 198.4 777.1 197.3 776.1 198 775.1 198.5 774.1 198.8 773.1 198.7 772.1 197.7 771.1 198.2 770.1 198.4 769.1 197.8 768.1 198 767.1 199.8 766.1 197.8 765.1 197.4 764.1 197.8 763.1 197.8 762.1 198.5 761.1 197.6 760.1 197.9 759.1 197.2 758.1 196.7 757.1 198.6 756.1 197.3 755.1 196.5 754.1 196.1 753.1 196.1 752.1 197.1 751.1 197.3 750.1 199.1 749.1 195 748.1 195.5 747.1 195.1 746.1 196.8 745.1 197 744.1 194.8 743.1 197.1 742.1 196.5 741.1 196 740.1 195 739.1 196.4 738.1 195 737.1 195 736.1 194.7 735.1 194.7 734.1 193.4 733.1 194.6 732.1 193.8 731.1 196.4 730.1 194.6 729.1 193.3 728.1 193.9 727.1 193.2 726.1 193.3 725.1 192.9 724.1 192.6 723.1 194.1 722.1 193.2 721.1 192.8 720.1 194.8 719.1 192.8 718.1 193.3 717.1 192.5 716.1 192.2 715.1 192 714.1 192.3 713.1 194 712.1 192.8 711.1 192.4 710.1 192.3 709.1 192.3 708.1 191.9 707.1 192 706.1 191.9 705.1 191.2 704.1 192.8 703.1 192.3 702.1 192 701.1 192.9 700.1 191.2 699.1 194.2 698.1 192.1 697.1 191.7 696.1 193.3 695.1 191.8 694.1 191.5 693.1 191.1 692.1 191.3 691.1 191.8 690.1 191.6 689.1 190.8 688.1 190.6 687.1 190.5 686.1 190.1 685.1 190.2 684.1 189.3 683.1 189.5 682.1 189.5 681.1 189.8 680.1 189.9 679.1 189.9 678.1 189.9 677.1 189.6 676.1 189.4 675.1 189.3 674.1 189.1 673.1 189.5 672.1 189.5 671.1 189.4 670.1 189.2 669.1 189.5 668.1 189.6 667.1 189.5 666.1 189.5 665.1 189.3 664.1 189.9 663.1 189.6 662.1 189.6 661.1 189.8 660.1 190.1 659.1 190.6 658.1 190.7 657.1 190.5 656.1 190.8 655.1 190.8 654.1 190.9 653.1 190.7 652.1 190 651.1 189.9 650.1 189.6 649.1 190.2 648.1 191.5 647.1 190.9 646.1 191.9 645.1 191.4 644.1 191.6 643.1 193.2 642.1 190.8 641.1 191.7 640.1 191.7 639.1 192.3 638.1 193.4 637.1 193.9 636.1 193.2 635.1 193.8 634.1 195 633.1 192.2 632.1 192.5 631.1 192.8 630.1 192.4 629.1 193.8 628.1 192 627.1 191.8 626.1 193.4 625.1 193 624.1 194.2 623.1 195.1 622.1 192.9 621.1 192.4 620.1 193.4 619.1 193.7 618.1 193.5 617.1 195 616.1 195.4 615.1 193.4 614.1 193.8 613.1 193.7 612.1 194.7 611.1 192.9 610.1 193.8 609.1 193.8 608.1 193.2 607.1 192.6 606.1 193.6 605.1 192 604.1 193.7 603.1 192.6 602.1 192.2 601.1 192.7 600.1 192.5 599.1 192.9 598.1 192.6 597.1 192.4 596.1 192.5 595.1 192.7 594.1 192.8 593.1 192.6 592.1 191.5 591.1 192.2 590.1 192.2 589.1 192.1 588.1 192.9 587.1 191.8 586.1 191.9 585.1 192.7 584.1 191.7 583.1 191.4 582.1 191.3 581.1 190.1 580.1 190.4 579.1 190.4 578.1 190.2 577.1 190.6 576.1 190.6 575.1 191.2 574.1 190.6 573.1 190.7 572.1 190.1 571.1 189.6 570.1 190.4 569.1 188.5 568.1 189.3 567.1 188.5 566.1 187.8 565.1 187.6 564.1 187.8 563.1 188 562.1 189.1 561.1 188.1 560.1 187.3 559.1 187.7 558.1 187.7 557.1 187.9 556.1 187.4 555.1 189 554.1 187.6 553.1 187.3 552.1 187 551.1 186.9 550.1 186.1 549.1 186.6 548.1 186.8 547.1 186.8 546.1 186.9 545.1 186.2 544.1 186.5 543.1 186 542.1 186 541.1 185.9 540.1 186.1 539.1 186.5 538.1 187.1 537.1 186.5 536.1 186.6 535.1 185.4 534.1 185.3 533.1 185.7 532.1 185.9 531.1 185.5 530.1 185.5 529.1 186.4 528.1 185.8 527.1 185.8 526.1 185.8 525.1 185.4 524.1 185.5 523.1 185.5 522.1 185.7 521.1 184.8 520.1 184.7 519.1 185.2 518.1 185 517.1 185.2 516.1 184.9 515.1 185.1 514.1 184.9 513.1 185.2 512.1 184.9 511.1 185 510.1 184.7 509.1 184.2 508.1 184.3 507.1 185.3 506.1 184 505.1 184.4 504.1 185 503.1 185.4 502.1 185.2 501.1 184.8 500.1 184.7 499.1 186 498.1 184.3 497.1 185 496.1 185.4 495.1 185.9 494.1 186.4 493.1 187.7 492.1 187 491.1 186.1 490.1 187.3 489.1 186.5 488.1 187.7 487.1 186.9 486.1 186.7 485.1 186.9 484.1 187.6 483.1 187.1 482.1 187.5 481.1 187.4 480.1 188.2 479.1 188.4 478.1 189 477.1 187.7 476.1 188.2 475.1 187.5 474.1 188 473.1 189 472.1 188.7 471.1 188.8 470.1 188.5 469.1 188.8 468.1 188.4 467.1 188.7 466.1 189.1 465.1 189.5 464.1 190.3 463.1 190.8 462.1 190.6 461.1 190.8 460.1 190.6 459.1 191.1 458.1 191.4 457.1 191.9 456.1 192 455.1 192.8 454.1 191.7 453.1 192.1 452.1 192.3 451.1 192 450.1 192.9 449.1 193 448.1 193.3 447.1 194.1 446.1 194.2 445.1 194.6 444.1 194.5 443.1 194.1 442.1 194.4 441.1 194.8 440.1 194.3 439.1 195.4 438.1 195.9 437.1 196.1 436.1 196.3 435.1 195.8 434.1 195.9 433.1 195.7 432.1 195.4 431.1 198 430.1 196.3 429.1 197.5 428.1 198.4 427.1 197.7 426.1 198.5 425.1 197.8 424.1 199.7 423.1 198.4 422.1 198.8 421.1 198.5 420.1 198.2 419.1 198.9 418.1 197.9 417.1 197.8 416.1 198.4 415.1 199.2 414.1 198.4 413.1 200.3 412.1 198.9 411.1 198.8 410.1 199.6 409.1 200.6 408.1 200.4 407.1 199.1 406.1 200 405.1 197.7 404.1 197.9 403.1 197.7 402.1 197.7 401.1 197.9 400.1 198.2 399.1 197.9 398.1 198.4 397.1 199.3 396.1 198.2 395.1 198.3 394.1 197.6 393.1 196.7 392.1 196.3 391.1 196.4 390.1 196.1 389.1 196.6 388.1 196.3 387.1 196.2 386.1 196.2 385.1 196 384.1 195.5 383.1 196.1 382.1 195.3 381.1 195.7 380.1 195.2 379.1 195.4 378.1 194.8 377.1 195.2 376.1 195.5 375.1 195.1 374.1 194.6 373.1 195.5 372.1 193.9 371.1 194 370.1 194 369.1 194.4 368.1 194.3 367.1 194.3 366.1 193.9 365.1 193.9 364.1 194 363.1 194 362.1 193.5 361.1 193.3 360.1 192.9 359.1 192.8 358.1 192.4 357.1 192.2 356.1 192.4 355.1 192 354.1 192.3 353.1 192.5 352.1 192.7 351.1 192.3 350.1 192.1 349.1 191.5 348.1 191.2 347.1 192.1 346.1 192.3 345.1 193.4 344.1 192.7 343.1 193.3 342.1 192.6 341.1 192.6 340.1 191.1 339.1 191.3 338.1 191.6 337.1 192.2 336.1 191.2 335.1 191.3 334.1 191.6 333.1 191 332.1 191.7 331.1 191 330.1 190.1 329.1 189.8 328.1 189.5 327.1 189.5 326.1 189.5 325.1 189.9 324.1 189.1 323.1 190 322.1 189.7 321.1 189.8 320.1 190.2 319.1 192.3 318.1 190.7 317.1 189.4 316.1 188.8 315.1 188.6 314.1 189 313.1 188.8 312.1 189.6 311.1 189.1 310.1 189.5 309.1 189.2 308.1 189.4 307.1 190.3 306.1 189.7 305.1 189.9 304.1 191.1 303.1 189.5 302.1 189.8 301.1 191.5 300.1 190.2 299.1 190.5 298.1 190.1 297.1 190.1 296.1 191.3 295.1 191.2 294.1 191.1 293.1 191.2 292.1 190.4 291.1 192.3 290.1 192.7 289.1 191.8 288.1 190.8 287.1 191.2 286.1 191.5 285.1 192 284.1 191.7 283.1 192.1 282.1 192.4 281.1 191.8 280.1 191.5 279.1 192.5 278.1 192.3 277.1 192.3 276.1 192.1 275.1 191.8 274.1 192.2 273.1 192.8 272.1 191.8 271.1 191.8 270.1 192.5 269.1 193 268.1 192.6 267.1 192.7 266.1 192.6 265.1 192.9 264.1 192.7 263.1 193.4 262.1 192.6 261.1 192.8 260.1 193.7 259.1 192.9 258.1 193.3 257.1 192.5 256.1 193.3 255.1 192.8 254.1 193.7 253.1 193.2 252.1 192.6 251.1 193.2 250.1 192.2 249.1 193.4 248.1 195.2 247.1 192.9 246.1 192.7 245.1 192.8 244.1 193.1 243.1 192.1 242.1 192.4 241.1 192.5 240.1 192.5 239.1 193 238.1 193.3 237.1 192.3 236.1 192.7 235.1 192.4 234.1 191.8 233.1 191.8 232.1 192.3 231.1 193 230.1 192.3 229.1 192.4 228.1 191.7 227.1 192.1 226.1 192.4 225.1 191.9 224.1 191.4 223.1 191.2 222.1 191.8 221.1 191 220.1 191.7 219.1 190.9 218.1 191.1 217.1 190.2 216.1 190.6 215.1 190.1 214.1 190.3 213.1 190.8 212.1 190.2 211.1 190.2 210.1 190 209.1 189.9 208.1 191.1 207.1 189.8 206.1 190 205.1 189.6 204.1 189.9 203.1 189.9 202.1 189.3 201.1 189.8 200.1 188.9 199.1 188.2 198.1 188 197.1 187.9 196.1 187.9 195.1 187.7 194.1 188.1 193.1 187.6 192.1 187.7 191.1 187.1 190.1 187.7 189.1 187.5 188.1 187.2 187.1 186.9 186.1 186.4 185.1 187 184.1 186.1 183.1 186 182.1 186.6 181.1 186 180.1 186.6 179.1 186.6 178.1 186.6 177.1 187 176.1 186.5 175.1 186.5 174.1 186.8 173.1 186.7 172.1 186.2 171.1 186.5 170.1 185.9 169.1 186.6 168.1 186 167.1 185.5 166.1 185.6 165.1 186 164.1 185.6 163.1 184.8 162.1 185.5 161.1 185.4 160.1 185.2 159.1 185.4 158.1 185.2 157.1 185.6 156.1 185.4 155.1 186 154.1 185.6 153.1 185.6 152.1 185.5 151.1 185 150.1 185 149.1 185 148.1 186.1 147.1 185.6 146.1 185.8 145.1 186.1 144.1 185.8 143.1 186 142.1 185.5 141.1 185.5 140.1 185.7 139.1 185.6 138.1 185.9 137.1 186.7 136.1 187.3 135.1 186 134.1 185.7 133.1 186.4 132.1 185.1 131.1 185.5 130.1 185.9 129.1 185.8 128.1 186.5 127.1 185.8 126.1 186 125.1 186 124.1 186.3 123.1 186.6 122.1 187.2 121.1 186.9 120.1 187.1 119.1 187.5 118.1 187 117.1 187 116.1 187.1 115.1 186.5 114.1 186.5 113.1 186.7 112.1 187.7 111.1 187.6 110.1 187.9 109.1 187.6 108.1 187.6 107.1 188 106.1 188.4 105.1 188.5 104.1 188.4 103.1 188.7 102.1 189.4 101.1 189 100.1 190.5 99.1 190.3 98.1 190.9 97.1 190.8 96.1 191.2 95.1 191.5 94.1 191.1 93.1 191 92.1 190.8 91.1 190.9 90.1 191.4 89.1 192.3 88.1 192.8 87.1 193 86.1 193.8 85.1 193.7 84.1 193.6 83.1 193.7 82.1 193.6 81.1 194.2 80.1 194.2 79.1 194.5 78.1 195 77.1 195.8 76.1 195.8 75.1 195.3 74.1 195.4 73.1 195.7 72.1 197.5 71.1 197.9 70.1 197.9 69.1 199 68.1 198 67.1 198.4 66.1 199.4 65.1 198.4 64.1 198.2 63.1 198.2 62.1 198.9 61.1 198.5 60.1 198.4 59.1 198.8 58.1 198.3 57.1 198.6 56.1 198.6 55.1 199.5 54.1 198.2 53.1 198.8 52.1 199.2 51.1 197.9 50.1 199.7 49.1 198.4 48.1 198.1 47.1 198.2Z" fill="#14c314"/>
<path d="M46.1 422 47.1 423.3 48.1 425.1 49.1 427.3 50.1 429.1 51.1 431.5 52.1 433.6 53.1 436.1 54.1 438.4 55.1 440.8 56.1 442.8 57.1 445 58.1 447.5 59.1 449.7 60.1 451.9 61.1 454.1 62.1 456.8 63.1 459.2 64.1 461.5 65.1 463.7 66.1 466 67.1 468.1 68.1 470.2 69.1 472.2 70.1 474.5 71.1 476.9 72.1 479.7 73.1 482.2 74.1 484.9 75.1 487.4 76.1 490.2 77.1 493 78.1 495.7 79.1 498.3 80.1 500.8 81.1 503.6 82.1 506.4 83.1 509.1 84.1 511.5 85.1 514.2 86.1 516.5 87.1 518.9 88.1 521 89.1 522.9 90.1 525 91.1 527.1 92.1 529.3 93.1 531.1 94.1 533.1 95.1 535.4 96.1 537.7 97.1 539.3 98.1 541.2 99.1 543.4 100.1 545.6 101.1 547.6 102.1 549.3 103.1 551.2 104.1 552.9 105.1 554.1 106.1 555.8 107.1 557.3 108.1 559.3 109.1 561 110.1 562.6 111.1 564.1 112.1 565.8 113.1 567.8 114.1 569.5 115.1 570.7 116.1 572 117.1 573.1 118.1 574.6 119.1 575.8 120.1 577.4 121.1 578 122.1 579 123.1 579.8 124.1 581 125.1 581.7 126.1 582.6 127.1 583.2 128.1 584.3 129.1 584.9 130.1 585.6 131.1 585.8 132.1 586.5 133.1 587 134.1 587.3 135.1 587.1 136.1 587.2 137.1 587.3 138.1 587.8 139.1 587.8 140.1 588 141.1 587.9 142.1 588.1 143.1 588.1 144.1 588.5 145.1 588.5 146.1 588.6 147.1 588.4 148.1 588.3 149.1 587.7 150.1 587.1 151.1 586.3 152.1 585.4 153.1 584.7 154.1 583.4 155.1 582.3 156.1 580.9 157.1 579.4 158.1 577.6 159.1 575.8 160.1 574.4 161.1 572.9 162.1 571.4 163.1 569.6 164.1 567.9 165.1 566.2 166.1 564.7 167.1 563 168.1 561.1 169.1 559.3 170.1 557.5 171.1 555.8 172.1 553.8 173.1 552.4 174.1 550.4 175.1 548.5 176.1 546 177.1 543.9 178.1 542.2 179.1 540.4 180.1 538.8 181.1 536.8 182.1 534.9 183.1 532.9 184.1 531.1 185.1 529.4 186.1 527.5 187.1 525.8 188.1 523.8 189.1 522.1 190.1 520.2 191.1 518.6 192.1 516.5 193.1 514.4 194.1 512 195.1 509.2 196.1 506.4 197.1 503.2 198.1 500.3 199.1 497.1 200.1 493.8 201.1 490.4 202.1 486.9 203.1 483.8 204.1 480.6 205.1 477.5 206.1 474.5 207.1 471.4 208.1 468.6 209.1 465.6 210.1 463.1 211.1 460.2 212.1 457.6 213.1 454.9 214.1 452.7 215.1 450 216.1 447.3 217.1 444.6 218.1 442.3 219.1 440.1 220.1 437.8 221.1 435.5 222.1 433.2 223.1 430.9 224.1 428.4 225.1 425.8 226.1 423 227.1 420.3 228.1 417.6 229.1 414.5 230.1 411.2 231.1 407.8 232.1 404.6 233.1 401.7 234.1 398.4 235.1 395.3 236.1 392.6 237.1 389.5 238.1 386.8 239.1 384 240.1 381.7 241.1 378.8 242.1 376.2 243.1 373.2 244.1 370.3 245.1 367.2 246.1 364.6 247.1 361.9 248.1 359.2 249.1 356.5 250.1 353.7 251.1 350.9 252.1 348.1 253.1 345.6 254.1 342.7 255.1 339.5 256.1 336.7 257.1 333.9 258.1 331.2 259.1 328.1 260.1 325 261.1 322.4 262.1 319.8 263.1 317.2 264.1 314.6 265.1 312.1 266.1 309.6 267.1 306.7 268.1 304.2 269.1 301.7 270.1 299.1 271.1 296.7 272.1 294.1 273.1 291.7 274.1 289.1 275.1 286.8 276.1 284.7 277.1 282.5 278.1 279.9 279.1 277.3 280.1 275 281.1 273.1 282.1 271 283.1 268.8 284.1 267 285.1 265 286.1 263.5 287.1 261.7 288.1 260.2 289.1 258.4 290.1 256.7 291.1 255.3 292.1 253.9 293.1 252.6 294.1 251.1 295.1 249.7 296.1 248.3 297.1 247.1 298.1 246 299.1 245 300.1 243.8 301.1 242.9 302.1 241.6 303.1 240.8 304.1 239.8 305.1 239.1 306.1 238.5 307.1 237.7 308.1 236.9 309.1 236.2 310.1 235.7 311.1 235.1 312.1 234.5 313.1 234.1 314.1 233.4 315.1 233.1 316.1 232.7 317.1 232.7 318.1 232.3 319.1 231.8 320.1 231.5 321.1 231.3 322.1 231.3 323.1 230.9 324.1 230.4 325.1 230.3 326.1 230.1 327.1 230.1 328.1 229.7 329.1 229.6 330.1 229.3 331.1 229.2 332.1 229.3 333.1 229.4 334.1 229.6 335.1 229.8 336.1 230.3 337.1 231.1 338.1 231.6 339.1 232.4 340.1 233 341.1 234.1 342.1 234.9 343.1 236.2 344.1 237.5 345.1 238.6 346.1 239.6 347.1 240.9 348.1 242.3 349.1 244 350.1 245.2 351.1 246.8 352.1 248.1 353.1 249.6 354.1 251.4 355.1 253.1 356.1 255.4 357.1 257.1 358.1 259.2 359.1 260.7 360.1 262.3 361.1 264.1 362.1 266.2 363.1 268.3 364.1 269.7 365.1 271.5 366.1 273.7 367.1 275.8 368.1 277.6 369.1 279 370.1 281 371.1 282.9 372.1 284.7 373.1 286.3 374.1 288.3 375.1 290.1 376.1 292.1 377.1 293.9 378.1 296 379.1 297.6 380.1 299.5 381.1 301.1 382.1 303 383.1 304.9 384.1 306.9 385.1 309.3 386.1 311.6 387.1 314.2 388.1 316.5 389.1 318.9 390.1 321.4 391.1 324.1 392.1 326.8 393.1 329.4 394.1 332.2 395.1 334.7 396.1 337.5 397.1 340 398.1 342.7 399.1 345.3 400.1 348.3 401.1 351.4 402.1 354.9 403.1 358.5 404.1 362.4 405.1 366.5 406.1 370.7 407.1 375 408.1 379.4 409.1 383.7 410.1 388.1 411.1 392.4 412.1 396.9 413.1 401.6 414.1 405.7 415.1 409.8 416.1 413.4 417.1 416.8 418.1 419.7 419.1 422.5 420.1 425.2 421.1 427.2 422.1 429 423.1 431.2 424.1 433.6 425.1 435.9 426.1 438.1 427.1 440.3 428.1 442.8 429.1 444.9 430.1 447.4 431.1 449.6 432.1 452.2 433.1 454.4 434.1 456.8 435.1 458.9 436.1 461 437.1 463.2 438.1 465.5 439.1 467.7 440.1 470 441.1 472.4 442.1 474.7 443.1 476.8 444.1 478.9 445.1 481.5 446.1 484.3 447.1 486.8 448.1 489.3 449.1 492.1 450.1 494.8 451.1 497.9 452.1 500.6 453.1 503.1 454.1 505.7 455.1 508.2 456.1 511.2 457.1 513.8 458.1 516.3 459.1 518.8 460.1 521.1 461.1 523.3 462.1 525 463.1 526.9 464.1 529 465.1 531.4 466.1 533.3 467.1 535.3 468.1 537.5 469.1 539.5 470.1 541.4 471.1 543.4 472.1 545.4 473.1 547.6 474.1 549.2 475.1 551 476.1 552.5 477.1 554.3 478.1 555.8 479.1 557.6 480.1 559.1 481.1 560.9 482.1 562.2 483.1 563.8 484.1 565.2 485.1 566.9 486.1 568.6 487.1 570.3 488.1 571.7 489.1 573.2 490.1 574.6 491.1 575.7 492.1 576.8 493.1 578 494.1 579.3 495.1 580.4 496.1 581.2 497.1 581.9 498.1 582.6 499.1 583.4 500.1 584 501.1 584.5 502.1 585.1 503.1 585.8 504.1 586.4 505.1 586.8 506.1 587 507.1 587.5 508.1 587.4 509.1 587.6 510.1 587.6 511.1 587.9 512.1 588 513.1 587.8 514.1 588 515.1 588.1 516.1 588.9 517.1 589 518.1 589.1 519.1 589.1 520.1 589.1 521.1 588.5 522.1 588.1 523.1 587.1 524.1 586.5 525.1 585.5 526.1 584.7 527.1 583.3 528.1 581.9 529.1 580.2 530.1 578.7 531.1 576.9 532.1 575.4 533.1 573.9 534.1 572.5 535.1 570.6 536.1 569.1 537.1 567.3 538.1 565.8 539.1 564 540.1 562.4 541.1 560.4 542.1 558.6 543.1 557 544.1 555.4 545.1 553.4 546.1 551.5 547.1 549.8 548.1 547.9 549.1 546.3 550.1 544.5 551.1 542.8 552.1 540.6 553.1 538.7 554.1 536.5 555.1 534.6 556.1 532.8 557.1 531.2 558.1 529.4 559.1 527.5 560.1 525.7 561.1 524 562.1 522.3 563.1 520.3 564.1 518.3 565.1 516.1 566.1 513.4 567.1 511.1 568.1 508.3 569.1 505.7 570.1 502.5 571.1 499.6 572.1 496.5 573.1 493.2 574.1 489.6 575.1 486.4 576.1 483.3 577.1 480.3 578.1 477.1 579.1 474.1 580.1 471.2 581.1 468.4 582.1 465.7 583.1 462.9 584.1 460.6 585.1 458.1 586.1 455.4 587.1 452.4 588.1 449.6 589.1 447 590.1 444.3 591.1 441.9 592.1 439.4 593.1 436.8 594.1 434.7 595.1 432.1 596.1 429.8 597.1 426.8 598.1 424.3 599.1 421.2 600.1 418.5 601.1 415.4 602.1 412.2 603.1 408.1 604.1 404.7 605.1 401.8 606.1 398.8 607.1 395.7 608.1 392.7 609.1 390 610.1 387.1 611.1 384.4 612.1 381.5 613.1 379 614.1 376.1 615.1 373.4 616.1 370.6 617.1 368.1 618.1 365.1 619.1 362.1 620.1 359.3 621.1 356.8 622.1 353.9 623.1 351 624.1 348.2 625.1 345.4 626.1 342.6 627.1 339.5 628.1 336.6 629.1 333.7 630.1 331 631.1 328.5 632.1 325.8 633.1 323 634.1 320.2 635.1 317.5 636.1 315.1 637.1 312.4 638.1 309.7 639.1 307 640.1 304.5 641.1 302.1 642.1 299.5 643.1 297.2 644.1 294.6 645.1 292.2 646.1 289.6 647.1 287.3 648.1 284.9 649.1 282.5 650.1 280.2 651.1 277.9 652.1 275.8 653.1 273.8 654.1 271.5 655.1 269.6 656.1 267.5 657.1 265.7 658.1 263.6 659.1 261.8 660.1 260.4 661.1 258.6 662.1 257.3 663.1 255.4 664.1 254 665.1 252.3 666.1 250.9 667.1 249.4 668.1 248.1 669.1 247 670.1 245.9 671.1 244.8 672.1 243.5 673.1 242.5 674.1 241.9 675.1 241.6 676.1 240.8 677.1 239.7 678.1 238.7 679.1 237.7 680.1 236.8 681.1 236 682.1 235.6 683.1 235 684.1 234.3 685.1 233.7 686.1 233.2 687.1 232.9 688.1 232.6 689.1 232.6 690.1 232.3 691.1 231.8 692.1 231.3 693.1 230.9 694.1 230.7 695.1 230.8 696.1 230.6 697.1 230.5 698.1 230.2 699.1 230 700.1 230 701.1 229.6 702.1 229.6 703.1 229.3 704.1 229.5 705.1 229.7 706.1 229.8 707.1 229.8 708.1 229.8 709.1 230.3 710.1 231.3 711.1 232.2 712.1 233.3 713.1 234.1 714.1 235.1 715.1 235.9 716.1 236.8 717.1 237.9 718.1 239 719.1 240.5 720.1 241.7 721.1 243.2 722.1 244.4 723.1 246 724.1 247.8 725.1 249.8 726.1 251.7 727.1 253.6 728.1 255.2 729.1 257.1 730.1 258.8 731.1 260.7 732.1 262.4 733.1 264 734.1 265.9 735.1 267.8 736.1 269.8 737.1 271.4 738.1 273.3 739.1 275.1 740.1 277.1 741.1 279 742.1 281.4 743.1 283.1 744.1 285 745.1 286.6 746.1 288.2 747.1 289.7 748.1 291.3 749.1 293.5 750.1 295.7 751.1 297.7 752.1 299.4 753.1 301.2 754.1 302.8 755.1 304.8 756.1 307 757.1 309.2 758.1 311.1 759.1 313.2 760.1 315.8 761.1 318.5 762.1 321.2 763.1 323.7 764.1 326.3 765.1 328.8 766.1 331.5 767.1 334.1 768.1 337 769.1 339.6 770.1 342.5 771.1 345.2 772.1 348.2 773.1 351.1 774.1 354.4 775.1 358 776.1 361.3 777.1 365.2 778.1 369.3 779.1 373.8 780.1 378.2 781.1 382.5 782.1 387 783.1 391.7 784.1 396.2 785.1 400.7 786.1 405 787.1 409.2 788.1 413 789.1 416.2 790.1 419.5 791.1 422.2 792.1 424.3 793.1 426.5 794.1 428.9 795.1 431.4 796.1 433.7 797.1 436 798.1 438.2 799.1 440.2 800.1 442.1 801.1 444.6 802.1 446.9 803.1 449.3 804.1 451.7 805.1 454.2 806.1 456.7 807.1 458.6 808.1 460.7 809.1 462.7 810.1 465.2 811.1 467.4 812.1 469.8 813.1 471.9 814.1 474.1 815.1 476.5 816.1 478.9 817.1 481.5 818.1 484 819.1 486.5 820.1 488.9 821.1 491.7 822.1 494.7 823.1 497.6 824.1 500.1 825.1 502.7 826.1 505.3 827.1 508.2 828.1 510.8 829.1 513.5 830.1 516.3 831.1 518.8 832.1 521.1 833.1 523.1 834.1 524.8 835.1 526.7 836.1 528.4 837.1 530.7 838.1 532.4 839.1 534.6 840.1 536.7 841.1 538.8 842.1 541.1 843.1 543.1 844.1 545.3 845.1 547.2 846.1 549.1 847.1 550.9 848.1 552.4 849.1 554.1 850.1 555.6 851.1 557.3 852.1 558.9 853.1 560.5 854.1 562.1 855.1 563.7 856.1 565.4 857.1 566.9 858.1 568.7 859.1 570.1 860.1 571.5 861.1 572.6 862.1 573.6 863.1 575 864.1 576.4 865.1 578.1 866.1 579 867.1 579.9 868.1 580.6 869.1 581.9 870.1 582.9 871.1 583.6 872.1 584.1 873.1 584.7 874.1 585.2 875.1 585.8 876.1 586.2 877.1 586.8 878.1 587.2 879.1 587.7 880.1 587.8 881.1 587.7 882.1 587.9 883.1 588 884.1 587.9 885.1 587.9 886.1 587.9 887.1 588.2 888.1 588.4 889.1 588.7 890.1 588.9 891.1 589.2 892.1 589.3 893.1 589.4 894.1 589.1 895.1 588.4 896.1 587.6 897.1 586.5 898.1 585.4 899.1 584.3 900.1 583.2 901.1 581.8 902.1 580.1 903.1 578.8 904.1 577.2 905.1 575.9 906.1 574.3 907.1 572.5 908.1 570.6 909.1 568.8 910.1 567.4 911.1 565.8 912.1 564.2 913.1 562.2 914.1 560.4 915.1 558.6 916.1 557.1 917.1 555.1 918.1 553.4 919.1 551.1 920.1 549.4 921.1 547.3 922.1 545.7 923.1 543.9 924.1 542.1 925.1 539.9 926.1 537.6 927.1 535.9 928.1 534.3 929.1 532.6 930.1 530.9 931.1 529.2 932.1 527.7 933.1 525.8 934.1 523.9 935.1 521.9 936.1 519.8 937.1 517.8 938.1 515.5 939.1 513.4 940.1 510.8 941.1 507.9 942.1 504.6 943.1 501.5 944.1 498.5 945.1 495.8 946.1 492.9 947.1 489.7 948.1 486.4 949.1 483.1 950.1 479.9 951.1 476.9 952.1 473.6 953.1 470.7 954.1 467.8 955.1 465.3 956.1 462.6 957.1 460 958.1 457.5 959.1 455.1 960.1 452.3 961.1 449.4 962.1 446.6 963.1 443.9 964.1 441.5 965.1 439.1 966.1 436.7 967.1 434.2 968.1 431.7 969.1 428.8 970.1 425.8 971.1 422.7 972.1 419.7 973.1 416.3 974.1 412.8 975.1 408.7 976.1 405.2 977.1 402.1 978.1 398.8 979.1 396.1 980.1 393 981.1 390.6 982.1 387.6 983.1 385.2 984.1 382.4 985.1 379.6 986.1 376.7 987.1 374.1 988.1 371.2 989.1 368.5 990.1 365.3 991.1 362.7 992.1 360 993.1 357.3 994.1 354.5 995.1 351.5 996.1 348.7 997.1 345.9 998.1 343.2 999.1 340.2 1000.1 337.1 1001.1 334.2 1002.1 331.4 1003.1 328.8 1004.1 325.9 1005.1 323.5 1006.1 321.2 1007.1 318.6 1008.1 316.1 1009.1 313.2 1010.1 310.5 1011.1 307.7 1012.1 305.3 1013.1 302.7 1014.1 300 1015.1 297.5 1016.1 295.2 1017.1 292.4 1018.1 289.7 1019.1 287.1 1020.1 285 1021.1 282.7 1022.1 280.4 1023.1 278.2 1024.1 276.2 1025.1 273.8 1026.1 271.7 1027.1 269.4 1028.1 267.5 1029.1 265.4 1030.1 263.4 1031.1 262 1032.1 260.3 1033.1 258.9 1034.1 257 1035.1 255.4 1036.1 254 1037.1 252.8 1038.1 251.4 1039.1 249.8 1040.1 248.4 1041.1 247.2 1042.1 246 1043.1 244.8 1044.1 243.9 1045.1 242.7 1046.1 242.1 1047.1 241.3 1048.1 240.9 1049.1 239.8 1050.1 238.7 1051.1 237.8 1052.1 236.9 1053.1 236.5 1054.1 235.6 1055.1 235.3 1056.1 234.6 1057.1 234.1 1058.1 233.5 1059.1 232.9 1060.1 232.5 1061.1 232.2 1062.1 232 1063.1 231.7 1064.1 231.3 1065.1 231.2 1066.1 231.1 1067.1 231 1068.1 230.5 1069.1 230.1 1070.1 230 1071.1 229.8 1072.1 229.6 1073.1 229.6 1074.1 229.5 1075.1 229.6 1076.1 229.3 1077.1 229.4 1078.1 229.6 1079.1 229.9 1080.1 230.1 1081.1 230.5 1082.1 231.2 1083.1 232.1 1084.1 233.2 1085.1 234 1086.1 234.8 1087.1 235.8 1088.1 236.8 1089.1 238.1 1090.1 238.9 1091.1 240.1 1092.1 241.4 1093.1 243.1 1094.1 244.8 1095.1 246.3 1096.1 247.9 1097.1 249.4 1098.1 251.3 1099.1 253.1 1100.1 254.9 1101.1 256.3 1102.1 258.1 1103.1 259.9 1104.1 262 1105.1 263.7 1106.1 265.3 1107.1 267 1108.1 268.8 1109.1 270.9 1110.1 272.9 1111.1 274.8 1112.1 276.8 1113.1 278.6 1114.1 280.5 1115.1 282 1116.1 283.8 1117.1 285.5 1118.1 287.7 1119.1 289.7 1120.1 291.8 1121.1 293.8 1122.1 295.5 1123.1 297.4 1124.1 299 1125.1 300.9 1126.1 302.6 1127.1 304.5 1128.1 306.6 1129.1 308.9 1130.1 311.1 1131.1 313.2 1132.1 315.6 1133.1 318.2 1134.1 320.5 1135.1 323 1136.1 325.5 1137.1 328.3 1138.1 331 1139.1 333.8 1140.1 336.7 1141.1 339.2 1142.1 341.6 1143.1 344.2 1144.1 347.1 1145.1 350.4 1146.1 353.5 1147.1 357.2 1148.1 360.8 1149.1 364.6 1150.1 369.1 1151.1 373.4 1152.1 377.9 1153.1 381.8 1154.1 386.3 1155.1 390.5 1156.1 395.1 1157.1 399.4 1158.1 403.6 1159.1 407.5 1160.1 411.9 1161.1 415.8 1162.1 419 1163.1 421.6 1164.1 423.9 1165.1 426.4 1166.1 428.4 1167.1 430.8 1168.1 433 1169.1 435.3 1170.1 437.3 1171.1 439.4 1172.1 441.7 1173.1 444.1 1174.1 446.5 1175.1 449 1176.1 451.3 1177.1 453.7 1178.1 456 1179.1 458 1180.1 460.2 1181.1 462.7 1182.1 465.3 1183.1 467.5 1184.1 469.5 1185.1 471.6 1186.1 473.8 1187.1 476.3 1188.1 478.6 1189.1 481.2 1190.1 483.9 1191.1 486.4 1192.1 489 1193.1 491.5 1194.1 494.3 1195.1 496.9 1196.1 499.8 1197.1 502.4 1198.1 505 1199.1 507.5 1200.1 510.2 1201.1 512.7 1202.1 515.4 1203.1 517.8 1204.1 520.2 1205.1 522.3 1206.1 524.4 1207.1 526.3 1208.1 528.1 1209.1 530.1 1210.1 532.1 1211.1 534.2 1212.1 536.2 1213.1 538.3 1214.1 540.7 1215.1 542.9 1216.1 545.1 1217.1 546.9 1218.1 549 1219.1 550.7 1220.1 552.5 1221.1 554.3 1222.1 556 1223.1 557.5 1224.1 558.4 1225.1 559.8 1226.1 561.7 1227.1 563.5 1228.1 565.2 1229.1 566.4 1230.1 567.9 1231.1 569.5 1232.1 571 1233.1 572.6 1234.1 574.1 1235.1 575.5 1236.1 576.7 1237.1 577.7 1238.1 579 1239.1 579.8 1240.1 580.7 1241.1 581.3 1242.1 582.1 1243.1 583 1244.1 583.7 1245.1 584.4 1246.1 585.1 1247.1 585.7 1248.1 586.5 1249.1 586.9 1250.1 587.2 1251.1 587.3 1252.1 587.5 1253.1 587.6 1254.1 588 1255.1 588 1256.1 588.2 1257.1 588 1258.1 588.3 1259.1 588.3 1260.1 588.8 1261.1 588.9 1262.1 589.4 1263.1 589.7 1264.1 590 1265.1 590 1266.1 589.8 1267.1 589.3 1268.1 588.6 1269.1 587.8 1270.1 586.9 1271.1 586.1 1272.1 585.2 1273.1 583.8 1274.1 582.3 1275.1 580.8 1276.1 579.3 1277.1 577.6 1278.1 575.9 1279.1 574.3 1280.1 572.9 1281.1 571.1 1282.1 569.4 1283.1 567.3 1284.1 566.1 1285.1 564.2 1286.1 562.7 1287.1 560.6 1288.1 559 1289.1 557.1 1290.1 555.3 1291.1 553.3 1292.1 551.6 1293.1 549.5 1294.1 547.4 1295.1 545.1 1296.1 543.5 1297.1 541.8 1298.1 540.1 1299.1 538.3 1300.1 536.7 1301.1 534.9 1302.1 533.1 1303.1 531.2 1304.1 529.5 1305.1 527.5 1306.1 525.9 1307.1 524 1308.1 522.1 1309.1 520 1310.1 517.8 1311.1 515.6 1312.1 512.9 1313.1 509.8 1314.1 506.8 1315.1 504 1316.1 501.5 1317.1 498.5 1318.1 495.4 1319.1 491.9 1320.1 488.9 1321.1 486 1322.1 483 1323.1 480.1 1324.1 477.1 1325.1 474 1326.1 471.1 1327.1 468.1 1328.1 465.7 1329.1 463.1 1330.1 460.5 1331.1 457.8 1332.1 454.8 1333.1 452.1 1334.1 449.5 1335.1 446.7 1336.1 444 1337.1 441.2 1338.1 438.7 1339.1 436.1 1340.1 433.4 1341.1 430.6 1342.1 427.4 1343.1 424.2 1344.1 421 1345.1 417.8 1346.1 414.4 1347.1 409.4 1348.1 405.8 1349.1 402.6 1350.1 399.6 1351.1 396.4 1352.1 393.2 1353.1 390.3 1354.1 387.7 1355.1 385.2 1356.1 382.6 1357.1 379.8 1358.1 376.9 1359.1 373.8 1360.1 371 1361.1 368.2 1362.1 365.8 1363.1 363.2 1364.1 360.5 1365.1 357.7 1366.1 354.7 1367.1 351.8 1368.1 349.1 1369.1 346.3 1370.1 343.9 1371.1 340.6 1372.1 337.7 1373.1 334.3 1374.1 331.8 1375.1 329.1 1376.1 326.5 1377.1 324 1378.1 321.6 1379.1 318.9 1380.1 316.3 1381.1 313.4 1382.1 310.7 1383.1 307.8 1384.1 305.3 1385.1 302.7 1386.1 300.1 1387.1 297.6 1388.1 295 1389.1 292.4 1390.1 290.1 1391.1 287.9 1392.1 285.7 1393.1 283.5 1394.1 280.8 1395.1 278.3 1396.1 275.8 1397.1 273.9 1398.1 271.8 1399.1 269.8 1400.1 267.9 1401.1 266 1402.1 264.3 1403.1 262.5 1404.1 260.9 1405.1 259.2 1406.1 257.7 1407.1 256.2 1408.1 254.9 1409.1 253.3 1410.1 251.8 1411.1 250.2 1412.1 248.6 1413.1 247.1 1414.1 245.8 1415.1 245 1416.1 243.9 1417.1 243.1 1418.1 242 1419.1 241.2 1420.1 240.3 1421.1 239.8 1422.1 239 1423.1 238.5 1424.1 237.5 1425.1 236.4 1426.1 235.6 1427.1 235.2 1428.1 234.8 1429.1 234.4 1430.1 233.7 1431.1 233.3 1432.1 232.7 1433.1 232.3 1434.1 231.8 1435.1 231.3 1436.1 231.2 1437.1 231 1438.1 231.1 1439.1 230.8 1440.1 230.6 1441.1 230.6 1442.1 230.6 1443.1 230.3 1444.1 229.9 1445.1 229.6 1446.1 229.7 1447.1 229.5 1448.1 229.6 1449.1 229.5 1450.1 229.4 1451.1 229.5 1452.1 229.7 1453.1 230.5 1454.1 231.1 1455.1 231.9 1456.1 233.2 1457.1 234.1 1458.1 234.8 1459.1 235.4 1460.1 236.5 1461.1 237.6 1462.1 238.8 1463.1 239.8 1464.1 241.1 1465.1 242.4 1466.1 244.1 1467.1 245.7 1468.1 247.2 1469.1 248.8 1470.1 250.6 1471.1 252.5 1472.1 254.2 1473.1 256.3 1474.1 258.1 1475.1 260.2 1476.1 261.8 1477.1 263.9 1478.1 265.4 1479.1 267.2 1480.1 268.5 1481.1 270.6 1482.1 272.6 1483.1 274.8 1484.1 276.8 1485.1 279 1486.1 281.1 1487.1 282.9 1488.1 284.4 1489.1 285.9 1490.1 287.3 1491.1 289.2 1492.1 290.9 1493.1 292.9 1494.1 294.9 1495.1 297 1496.1 298.8 1497.1 300.3 1498.1 302.3 1499.1 304.3 1500.1 306.4 1501.1 308.1 1502.1 310.4 1503.1 312.7 1504.1 315.3 1505.1 317.6 1506.1 320.1 1507.1 322.2 1508.1 325.1 1509.1 328 1510.1 331 1511.1 333.6 1512.1 336.1 1513.1 339 1514.1 341.5 1515.1 344 1516.1 347 1517.1 350.4 1518.1 353.9 1519.1 357.1 1520.1 360.7 1521.1 364.5 1522.1 368.6 1523.1 372.5 1524.1 376.5 1525.1 380.7 1526.1 385.3 1527.1 389.6 1528.1 394 1529.1 398.4 1530.1 402.9 1531.1 407.4 1532.1 412.2 1533.1 415.8 1534.1 419 1535.1 421.6 1536.1 423.9 1537.1 426 1538.1 428 1539.1 430.1 1540.1 432.3 1541.1 434.7 1542.1 437.3 1543.1 439.6 1544.1 441.6 1545.1 443.7 1546.1 445.9 1547.1 448.7 1548.1 450.9 1549.1 453.4 1550.1 455.5 1551.1 457.9 1552.1 459.9 1553.1 462.2 1554.1 464.4 1555.1 466.7 1556.1 468.7 1557.1 470.9 1558.1 472.9 1559.1 475.4 1560.1 477.9 1561.1 480.9 1562.1 483.2 1563.1 486.2 1564.1 488.7 1565.1 491.5 1566.1 494.1 1567.1 496.5 1568.1 499.1 1569.1 501.8 1570.1 504.4 1571.1 507.2 1572.1 509.9 1573.1 512.8 1574.1 515.6 1575.1 517.8 1576.1 519.9 1577.1 522 1578.1 524.2 1579.1 526.2 1580.1 528.2 1581.1 530 1582.1 532.2 1583.1 534 1584.1 536.2 1585.1 538.2 1586.1 540.3 1587.1 542.5 1588.1 544.7 1589.1 546.9 1590.1 548.7 1591.1 550.4 1592.1 551.8 1593.1 553.6 1594.1 555.4 1595.1 557 1596.1 558.4 1597.1 560.1 1598.1 561.7 1599.1 563.3 1600.1 564.7 1601.1 566.4 1602.1 567.9 1603.1 569.2 1604.1 570.9 1605.1 572.2 1606.1 573.9 1607.1 574.8 1608.1 576.4 1609.1 577.6 1610.1 578.7 1611.1 579.4 1612.1 580.3 1613.1 581.3 1614.1 582 1615.1 582.6 1616.1 583.3 1617.1 584.2 1618.1 585 1619.1 585.9 1620.1 586.5 1621.1 586.6 1622.1 586.8 1623.1 587.3 1624.1 587.6 1625.1 587.8 1626.1 587.8 1627.1 587.9 1628.1 587.9 1629.1 587.8 1630.1 588.2 1631.1 588.4 1632.1 589 1633.1 589.3 1634.1 589.7 1635.1 590 1636.1 590 1637.1 589.9 1638.1 589.8 1639.1 590 1640.1 589.9 1641.1 589.6 1642.1 588.6 1643.1 587.5 1644.1 586.4 1645.1 585.4 1646.1 584 1647.1 582.3 1648.1 580.5 1649.1 579.1 1650.1 577.6 1651.1 576.2 1652.1 574.4 1653.1 572.8 1654.1 570.9 1655.1 569.4 1656.1 567.6 1657.1 566.1 1658.1 564.3 1659.1 562.3 1660.1 560.3 1661.1 558.3 1662.1 556.5 1663.1 554.5 1664.1 552.9 1665.1 551 1666.1 549.1 1667.1 547.3 1668.1 545.6 1669.1 544.1 1670.1 542.3 1671.1 540.5 1672.1 538.6 1673.1 536.4 1674.1 534.6 1675.1 532.8 1676.1 531.2 1677.1 529.4 1678.1 527.7 1679.1 525.8 1680.1 523.7 1681.1 521.5 1682.1 519 1683.1 516.9 1684.1 514.3 1685.1 512 1686.1 509.1 1687.1 506.2 1688.1 503.9 1689.1 501.1 1690.1 498.3 1691.1 495 1692.1 492.1 1693.1 489.4 1694.1 486.3 1695.1 483.2 1696.1 480 1697.1 476.9 1698.1 474 1699.1 471 1700.1 468.2 1701.1 465.4 1702.1 462.6 1703.1 459.9 1704.1 457.3 1705.1 454.4 1706.1 451.6 1707.1 448.7 1708.1 446.1 1709.1 443.3 1710.1 440.7 1711.1 437.9 1712.1 435.2 1713.1 431.9 1714.1 428.7 1715.1 425.4 1716.1 422 1717.1 418.7 1718.1 415.1 1719.1 410.2 1720.1 406.4 1721.1 403.1 1722.1 399.8 1723.1 396.9 1724.1 393.8 1725.1 391.2 1726.1 388.3 1727.1 385.8 1728.1 382.9 1729.1 380.3 1730.1 377.5 1731.1 374.7 1732.1 371.9 1733.1 369.1 1734.1 366.5 1735.1 363.8 1736.1 361.2 1737.1 358.2 1738.1 355.2 1739.1 352.4 1740.1 349.4 1741.1 346.8 1742.1 343.9 1743.1 341.1 1744.1 338 1745.1 335.3 1746.1 332.6 1747.1 330 1748.1 327.1 1749.1 324.3 1750.1 321.5 1751.1 318.9 1752.1 316.3 1753.1 313.8 1754.1 311 1755.1 308.4 1756.1 305.7 1757.1 303.1 1758.1 300.7 1759.1 297.9 1760.1 295.3 1761.1 292.8 1762.1 290.3 1763.1 288.1 1764.1 285.9 1765.1 284 1766.1 281.6 1767.1 279.2 1768.1 276.8 1769.1 274.5 1770.1 272.5 1771.1 270.2 1772.1 268 1773.1 265.9 1774.1 264.1 1775.1 262.7 1776.1 261 1777.1 259.4 1778.1 257.8 1779.1 256.1 1780.1 254.5 1781.1 252.9 1782.1 251.4 1783.1 250.1 1784.1 249 1785.1 247.9 1786.1 246.6 1787.1 245.3 1788.1 244.4 1789.1 243.6 1790.1 242.5 1791.1 241.7 1792.1 240.8 1793.1 240.1 1794.1 239 1795.1 238 1796.1 237.4 1797.1 236.5 1798.1 235.8 1799.1 235.2 1800.1 235 1801.1 234.5 1802.1 233.9 1803.1 233.3 1804.1 232.8 1805.1 232.6 1806.1 232.1 1807.1 231.7 1808.1 231.4 1809.1 231.1 1810.1 230.8 1811.1 230.5 1812.1 230.6 1813.1 230.5 1814.1 230.2 1815.1 229.7 1816.1 229.7 1817.1 229.6 1818.1 229.6 1819.1 229.1 1820.1 228.9 1821.1 228.9 1822.1 229.1 1823.1 229.6 1824.1 230 1825.1 230.6 1826.1 231.1 1827.1 231.7 1828.1 232.5 1829.1 233.4 1830.1 234.3 1831.1 235.3 1832.1 236.4 1833.1 237.6 1834.1 238.9 1835.1 240.1 1836.1 241.3 1837.1 242.6 1838.1 244.1 1839.1 245.7 1840.1 247.2 1841.1 249.1 1842.1 250.6 1843.1 252.5 1844.1 254.1 1845.1 256.3 1846.1 258.3 1847.1 260.1 1848.1 261.7 1849.1 263.3 1850.1 264.9 1851.1 266.8 1852.1 268.4 1853.1 270.5 1854.1 272.1 1855.1 274.1 1856.1 275.9 1857.1 278.1 1858.1 279.9 1859.1 281.7 1860.1 283.5 1861.1 285.6 1862.1 287.4 1863.1 289.1 1864.1 290.6 1865.1 292.4 1866.1 294.5 1867.1 296.5 1868.1 298.5 1869.1 300.5 1870.1 302.3 1871.1 304.2 1872.1 306 1873.1 308.3 1874.1 310.6 1875.1 312.9 1876.1 314.9 1877.1 317.2 1878.1 319.6 1879.1 322.2 1880.1 324.8 1881.1 327.6 1882.1 330.3 1883.1 333.1 1884.1 335.7 1885.1 338.3 1886.1 340.8 1887.1 343.5 1888.1 346.4 1889.1 349.6 1890.1 352.9 1891.1 356.4 1892.1 360 1893.1 363.8 1894.1 367.3 1895.1 371.5 1896.1 375.6 1897.1 380.1 1898.1 384.4 1899.1 388.9 1900.1 393.4 1901.1 397.7 1902.1 402.1 1903.1 406.2 1904.1 411.4 1905.1 415.1 1906.1 418.6 1907.1 421.1 1908.1 422.7 1908.1 429.3 1907.1 427.3 1906.1 424.6 1905.1 420.8 1904.1 417.2 1903.1 411.5 1902.1 408.2 1901.1 404.5 1900.1 401.1 1899.1 397.3 1898.1 393.6 1897.1 389.9 1896.1 386.6 1895.1 383.6 1894.1 380.6 1893.1 377.7 1892.1 374.5 1891.1 371.3 1890.1 368.2 1889.1 365.1 1888.1 362.1 1887.1 359.1 1886.1 356.3 1885.1 353.7 1884.1 351.1 1883.1 348.4 1882.1 345.5 1881.1 342.7 1880.1 340 1879.1 337.5 1878.1 334.8 1877.1 332.4 1876.1 330.2 1875.1 328.1 1874.1 325.7 1873.1 323.3 1872.1 320.8 1871.1 318.8 1870.1 316.6 1869.1 314.5 1868.1 312.2 1867.1 309.9 1866.1 307.7 1865.1 305.4 1864.1 303.3 1863.1 301.6 1862.1 299.7 1861.1 297.7 1860.1 295.4 1859.1 293.4 1858.1 291.5 1857.1 289.5 1856.1 287.3 1855.1 285.3 1854.1 283.3 1853.1 281.6 1852.1 279.4 1851.1 277.8 1850.1 275.9 1849.1 274.3 1848.1 272.7 1847.1 271.1 1846.1 269.2 1845.1 267.2 1844.1 264.8 1843.1 263.2 1842.1 261.1 1841.1 259.5 1840.1 257.5 1839.1 255.9 1838.1 254.2 1837.1 252.5 1836.1 251 1835.1 249.8 1834.1 248.3 1833.1 246.8 1832.1 245.3 1831.1 243.9 1830.1 242.5 1829.1 241.7 1828.1 240.8 1827.1 240 1826.1 239.5 1825.1 239.2 1824.1 239 1823.1 239.1 1822.1 239.1 1821.1 239.3 1820.1 239.7 1819.1 240.3 1818.1 241.2 1817.1 241.5 1816.1 241.7 1815.1 241.7 1814.1 242.3 1813.1 242.6 1812.1 242.7 1811.1 242.7 1810.1 242.9 1809.1 243.3 1808.1 243.7 1807.1 244.1 1806.1 244.5 1805.1 245 1804.1 245.3 1803.1 245.8 1802.1 246.5 1801.1 247.2 1800.1 247.8 1799.1 248 1798.1 248.6 1797.1 249.3 1796.1 250.1 1795.1 250.8 1794.1 251.8 1793.1 252.9 1792.1 253.6 1791.1 254.5 1790.1 255.4 1789.1 256.6 1788.1 257.5 1787.1 258.5 1786.1 259.9 1785.1 261.3 1784.1 262.5 1783.1 263.8 1782.1 265.1 1781.1 266.7 1780.1 268.4 1779.1 270.3 1778.1 272.1 1777.1 274 1776.1 275.9 1775.1 277.9 1774.1 279.5 1773.1 281.6 1772.1 283.9 1771.1 286.4 1770.1 289 1769.1 291.3 1768.1 293.8 1767.1 296.5 1766.1 299.2 1765.1 301.9 1764.1 304.1 1763.1 306.7 1762.1 309.2 1761.1 312.1 1760.1 314.9 1759.1 317.8 1758.1 320.8 1757.1 323.5 1756.1 326.2 1755.1 328.9 1754.1 331.6 1753.1 334.3 1752.1 336.7 1751.1 339.1 1750.1 341.6 1749.1 344.2 1748.1 346.9 1747.1 349.6 1746.1 351.9 1745.1 354.3 1744.1 356.8 1743.1 359.4 1742.1 361.7 1741.1 364 1740.1 366 1739.1 368.2 1738.1 370.4 1737.1 372.6 1736.1 375 1735.1 377 1734.1 379.2 1733.1 381.1 1732.1 383.1 1731.1 385.2 1730.1 387.2 1729.1 389.3 1728.1 391.3 1727.1 393.7 1726.1 395.7 1725.1 398.2 1724.1 400.4 1723.1 403.2 1722.1 405.8 1721.1 409 1720.1 412.1 1719.1 415.8 1718.1 420.1 1717.1 424.3 1716.1 428.2 1715.1 432.1 1714.1 436 1713.1 439.8 1712.1 443.7 1711.1 447.3 1710.1 451.1 1709.1 454.8 1708.1 458.7 1707.1 462.2 1706.1 465.7 1705.1 468.9 1704.1 472.3 1703.1 475.3 1702.1 478.4 1701.1 481.6 1700.1 484.7 1699.1 487.9 1698.1 491.2 1697.1 494.4 1696.1 497.5 1695.1 500.8 1694.1 503.9 1693.1 507 1692.1 509.4 1691.1 511.9 1690.1 514.6 1689.1 516.8 1688.1 518.7 1687.1 520.2 1686.1 522.2 1685.1 524.3 1684.1 525.9 1683.1 527.9 1682.1 529.5 1681.1 531.9 1680.1 534 1679.1 536.1 1678.1 538 1677.1 539.8 1676.1 541.6 1675.1 543.3 1674.1 545.1 1673.1 547 1672.1 549.2 1671.1 551.2 1670.1 553 1669.1 554.8 1668.1 556.3 1667.1 557.9 1666.1 559.7 1665.1 561.5 1664.1 563.3 1663.1 564.9 1662.1 566.8 1661.1 568.7 1660.1 570.6 1659.1 572.6 1658.1 574.6 1657.1 576.5 1656.1 577.9 1655.1 579.7 1654.1 581.2 1653.1 583.1 1652.1 584.7 1651.1 586.4 1650.1 587.9 1649.1 589.3 1648.1 590.7 1647.1 592.5 1646.1 594.1 1645.1 595.6 1644.1 596.5 1643.1 598 1642.1 599.6 1641.1 601 1640.1 601.4 1639.1 601.6 1638.1 601.6 1637.1 601.6 1636.1 601.9 1635.1 602.2 1634.1 602.3 1633.1 602.2 1632.1 602.3 1631.1 602 1630.1 601.8 1629.1 601.4 1628.1 601.5 1627.1 601.4 1626.1 601.2 1625.1 601.1 1624.1 600.9 1623.1 600.5 1622.1 600 1621.1 600 1620.1 600 1619.1 599.7 1618.1 599 1617.1 598.3 1616.1 597.6 1615.1 597.1 1614.1 596.7 1613.1 596.3 1612.1 595.6 1611.1 595 1610.1 594.7 1609.1 594 1608.1 593.1 1607.1 591.9 1606.1 591.4 1605.1 590.2 1604.1 589.3 1603.1 588.1 1602.1 587.3 1601.1 586.2 1600.1 585 1599.1 584.1 1598.1 582.9 1597.1 581.8 1596.1 580.4 1595.1 579.3 1594.1 578 1593.1 576.6 1592.1 575 1591.1 574 1590.1 572.8 1589.1 571.5 1588.1 569.8 1587.1 568.2 1586.1 566.7 1585.1 565.1 1584.1 563.6 1583.1 561.7 1582.1 560 1581.1 557.8 1580.1 555.9 1579.1 553.7 1578.1 551.4 1577.1 548.9 1576.1 546.6 1575.1 544.2 1574.1 541.9 1573.1 539 1572.1 536.1 1571.1 533.4 1570.1 530.6 1569.1 528.1 1568.1 525.5 1567.1 523 1566.1 520.6 1565.1 518 1564.1 515 1563.1 512.2 1562.1 508.9 1561.1 506.3 1560.1 502.9 1559.1 500 1558.1 496.9 1557.1 494.3 1556.1 491.5 1555.1 488.8 1554.1 485.9 1553.1 483.1 1552.1 480.2 1551.1 477.6 1550.1 474.6 1549.1 472.1 1548.1 469.2 1547.1 466.7 1546.1 463.6 1545.1 460.9 1544.1 458 1543.1 455.3 1542.1 452.1 1541.1 448.5 1540.1 445 1539.1 441.7 1538.1 438.2 1537.1 434.8 1536.1 431.4 1535.1 428.3 1534.1 425 1533.1 421.6 1532.1 418 1531.1 412.9 1530.1 409.3 1529.1 405.7 1528.1 402.3 1527.1 398.8 1526.1 395.5 1525.1 391.9 1524.1 389.1 1523.1 386.4 1522.1 383.9 1521.1 380.8 1520.1 377.7 1519.1 374.7 1518.1 371.9 1517.1 368.7 1516.1 365.5 1515.1 362.4 1514.1 359.8 1513.1 357.3 1512.1 354.3 1511.1 351.6 1510.1 349 1509.1 345.9 1508.1 343 1507.1 340.1 1506.1 338.1 1505.1 335.6 1504.1 333.3 1503.1 330.6 1502.1 328.3 1501.1 325.8 1500.1 323.9 1499.1 321.5 1498.1 319.2 1497.1 316.9 1496.1 315 1495.1 312.9 1494.1 310.4 1493.1 308.2 1492.1 305.9 1491.1 304 1490.1 301.8 1489.1 300.2 1488.1 298.5 1487.1 296.8 1486.1 294.8 1485.1 292.5 1484.1 290.2 1483.1 288 1482.1 285.8 1481.1 283.7 1480.1 281.5 1479.1 280.2 1478.1 278.3 1477.1 276.8 1476.1 274.8 1475.1 273.2 1474.1 271 1473.1 269.1 1472.1 266.9 1471.1 265.1 1470.1 263.1 1469.1 261.2 1468.1 259.4 1467.1 257.7 1466.1 256 1465.1 254.1 1464.1 252.6 1463.1 251.2 1462.1 250 1461.1 248.5 1460.1 247.1 1459.1 245.6 1458.1 244.6 1457.1 243.7 1456.1 242.7 1455.1 241.2 1454.1 240.4 1453.1 239.9 1452.1 239.4 1451.1 239.6 1450.1 239.8 1449.1 240.3 1448.1 240.7 1447.1 240.9 1446.1 241.3 1445.1 241.6 1444.1 241.9 1443.1 242.3 1442.1 242.6 1441.1 242.7 1440.1 242.7 1439.1 242.9 1438.1 243.3 1437.1 243.2 1436.1 243.4 1435.1 243.7 1434.1 244.2 1433.1 244.7 1432.1 245.2 1431.1 245.9 1430.1 246.3 1429.1 247.1 1428.1 247.5 1427.1 248 1426.1 248.4 1425.1 249.1 1424.1 250.3 1423.1 251.2 1422.1 251.8 1421.1 252.5 1420.1 253.1 1419.1 254 1418.1 254.9 1417.1 256.1 1416.1 257 1415.1 258.2 1414.1 259.2 1413.1 260.5 1412.1 262.1 1411.1 263.8 1410.1 265.5 1409.1 267.1 1408.1 268.8 1407.1 270.3 1406.1 272 1405.1 273.7 1404.1 275.7 1403.1 277.6 1402.1 279.6 1401.1 281.6 1400.1 283.8 1399.1 286 1398.1 288.3 1397.1 290.6 1396.1 292.8 1395.1 295.6 1394.1 298.3 1393.1 301.3 1392.1 303.9 1391.1 306.4 1390.1 308.9 1389.1 311.7 1388.1 314.6 1387.1 317.5 1386.1 320.3 1385.1 323.1 1384.1 325.8 1383.1 328.4 1382.1 331.2 1381.1 333.9 1380.1 336.7 1379.1 339.2 1378.1 341.7 1377.1 344 1376.1 346.3 1375.1 348.7 1374.1 351.1 1373.1 353.4 1372.1 356.4 1371.1 359 1370.1 361.7 1369.1 363.6 1368.1 365.8 1367.1 367.8 1366.1 370 1365.1 372.3 1364.1 374.4 1363.1 376.5 1362.1 378.5 1361.1 380.4 1360.1 382.3 1359.1 384.3 1358.1 386.7 1357.1 388.9 1356.1 391.1 1355.1 393.1 1354.1 395.2 1353.1 397.4 1352.1 399.9 1351.1 402.7 1350.1 405.7 1349.1 408.5 1348.1 411.6 1347.1 415 1346.1 419.6 1345.1 423.6 1344.1 427.5 1343.1 431.3 1342.1 435.2 1341.1 439.2 1340.1 442.8 1339.1 446.6 1338.1 450.3 1337.1 454 1336.1 458 1335.1 462 1334.1 465.5 1333.1 468.6 1332.1 471.9 1331.1 475.3 1330.1 478.4 1329.1 481.5 1328.1 484.5 1327.1 487.4 1326.1 490.7 1325.1 493.9 1324.1 497.2 1323.1 500.2 1322.1 503.1 1321.1 506 1320.1 508.7 1319.1 511.3 1318.1 514.1 1317.1 516.4 1316.1 518.5 1315.1 520.1 1314.1 521.9 1313.1 524 1312.1 526.1 1311.1 528.2 1310.1 530 1309.1 531.9 1308.1 533.8 1307.1 535.7 1306.1 537.6 1305.1 539.3 1304.1 541.3 1303.1 543.1 1302.1 545.1 1301.1 546.9 1300.1 548.8 1299.1 550.5 1298.1 552.3 1297.1 554 1296.1 555.7 1295.1 557.3 1294.1 559.4 1293.1 561.4 1292.1 563.4 1291.1 565.1 1290.1 567 1289.1 568.9 1288.1 570.7 1287.1 572.4 1286.1 574.4 1285.1 576 1284.1 577.8 1283.1 579.1 1282.1 581.1 1281.1 582.8 1280.1 584.6 1279.1 586 1278.1 587.6 1277.1 589.3 1276.1 590.9 1275.1 592.4 1274.1 593.8 1273.1 595.3 1272.1 596.6 1271.1 597.9 1270.1 599.1 1269.1 600.2 1268.1 601.1 1267.1 601.8 1266.1 602.3 1265.1 602.4 1264.1 602.4 1263.1 602.2 1262.1 602.2 1261.1 602 1260.1 602.2 1259.1 602 1258.1 601.9 1257.1 601.7 1256.1 601.8 1255.1 601.6 1254.1 601.4 1253.1 601 1252.1 600.8 1251.1 600.5 1250.1 600.4 1249.1 600.2 1248.1 599.9 1247.1 599.4 1246.1 599 1245.1 598.5 1244.1 598 1243.1 597.5 1242.1 596.8 1241.1 596.2 1240.1 595.9 1239.1 595.4 1238.1 594.8 1237.1 593.9 1236.1 593.3 1235.1 592.6 1234.1 591.6 1233.1 590.5 1232.1 589.3 1231.1 588.3 1230.1 587.1 1229.1 586.2 1228.1 585.4 1227.1 584.2 1226.1 582.8 1225.1 581.4 1224.1 580.4 1223.1 579.7 1222.1 578.6 1221.1 577.2 1220.1 575.7 1219.1 574.3 1218.1 573 1217.1 571.4 1216.1 570.1 1215.1 568.6 1214.1 566.9 1213.1 565.2 1212.1 563.6 1211.1 561.9 1210.1 560 1209.1 558 1208.1 555.9 1207.1 553.8 1206.1 551.6 1205.1 549.2 1204.1 546.9 1203.1 544.2 1202.1 541.7 1201.1 538.9 1200.1 536.4 1199.1 533.7 1198.1 531.2 1197.1 528.6 1196.1 526.2 1195.1 523.4 1194.1 520.9 1193.1 518 1192.1 515.4 1191.1 512.5 1190.1 509.6 1189.1 506.7 1188.1 503.7 1187.1 500.9 1186.1 497.9 1185.1 495.1 1184.1 492.3 1183.1 489.7 1182.1 486.9 1181.1 483.7 1180.1 480.6 1179.1 477.8 1178.1 475.2 1177.1 472.5 1176.1 469.6 1175.1 467 1174.1 464.3 1173.1 461.4 1172.1 458.2 1171.1 455.1 1170.1 452.3 1169.1 449.3 1168.1 445.9 1167.1 442.5 1166.1 438.8 1165.1 435.4 1164.1 431.6 1163.1 428.3 1162.1 425.1 1161.1 421.6 1160.1 417.7 1159.1 413.2 1158.1 410.2 1157.1 407.1 1156.1 403.9 1155.1 400.5 1154.1 397.5 1153.1 394.3 1152.1 391.9 1151.1 388.9 1150.1 386.2 1149.1 383.2 1148.1 380.2 1147.1 377.4 1146.1 374.3 1145.1 371.5 1144.1 368.4 1143.1 365.5 1142.1 362.8 1141.1 360.2 1140.1 357.6 1139.1 354.6 1138.1 351.7 1137.1 349 1136.1 346.1 1135.1 343.7 1134.1 341.2 1133.1 339 1132.1 336.3 1131.1 333.9 1130.1 331.6 1129.1 329.3 1128.1 326.8 1127.1 324.4 1126.1 322.1 1125.1 320 1124.1 317.7 1123.1 315.8 1122.1 313.5 1121.1 311.4 1120.1 309.1 1119.1 306.7 1118.1 304.4 1117.1 302 1116.1 300 1115.1 298 1114.1 296.3 1113.1 294.2 1112.1 292.2 1111.1 290.1 1110.1 288.1 1109.1 285.9 1108.1 283.8 1107.1 281.9 1106.1 280.2 1105.1 278.5 1104.1 276.8 1103.1 274.8 1102.1 272.9 1101.1 271.1 1100.1 269.5 1099.1 267.6 1098.1 265.7 1097.1 263.6 1096.1 262 1095.1 260.2 1094.1 258.5 1093.1 256.6 1092.1 254.7 1091.1 253.2 1090.1 251.8 1089.1 250.6 1088.1 249 1087.1 247.5 1086.1 246.1 1085.1 244.7 1084.1 243.6 1083.1 242.2 1082.1 241.1 1081.1 240.4 1080.1 240.2 1079.1 240.3 1078.1 240.3 1077.1 240.3 1076.1 240.5 1075.1 240.9 1074.1 241.1 1073.1 241.3 1072.1 241.6 1071.1 241.8 1070.1 242 1069.1 242.2 1068.1 242.6 1067.1 243.1 1066.1 243.3 1065.1 243.5 1064.1 243.6 1063.1 244 1062.1 244.4 1061.1 244.7 1060.1 245 1059.1 245.4 1058.1 246.1 1057.1 246.8 1056.1 247.3 1055.1 248 1054.1 248.4 1053.1 249.2 1052.1 249.6 1051.1 250.5 1050.1 251.4 1049.1 252.5 1048.1 253.7 1047.1 254.2 1046.1 255 1045.1 255.7 1044.1 257 1043.1 258 1042.1 259.3 1041.1 260.6 1040.1 261.9 1039.1 263.4 1038.1 265.1 1037.1 266.6 1036.1 267.9 1035.1 269.5 1034.1 271.3 1033.1 273.4 1032.1 275.1 1031.1 277.1 1030.1 278.7 1029.1 281 1028.1 283.3 1027.1 285.6 1026.1 288.1 1025.1 290.5 1024.1 293.1 1023.1 295.4 1022.1 297.9 1021.1 300.5 1020.1 303.2 1019.1 305.6 1018.1 308.6 1017.1 311.6 1016.1 314.7 1015.1 317.3 1014.1 320.1 1013.1 323.1 1012.1 325.8 1011.1 328.3 1010.1 331.1 1009.1 333.7 1008.1 336.5 1007.1 338.9 1006.1 341.3 1005.1 343.5 1004.1 345.8 1003.1 348.4 1002.1 350.8 1001.1 353.3 1000.1 355.9 999.1 358.7 998.1 361.1 997.1 363.3 996.1 365.4 995.1 367.6 994.1 369.8 993.1 371.9 992.1 374 991.1 376.1 990.1 378.1 989.1 380.8 988.1 382.6 987.1 384.7 986.1 386.6 985.1 388.8 984.1 390.9 983.1 393.2 982.1 395.2 981.1 397.7 980.1 399.8 979.1 402.5 978.1 404.9 977.1 408.1 976.1 411 975.1 414.3 974.1 418.2 973.1 422.4 972.1 426.4 971.1 430.3 970.1 434.2 969.1 438.1 968.1 442 967.1 445.6 966.1 449.4 965.1 453.1 964.1 456.9 963.1 460.7 962.1 464.4 961.1 467.9 960.1 471.3 959.1 474.6 958.1 477.6 957.1 480.6 956.1 483.6 955.1 486.8 954.1 489.8 953.1 493 952.1 496 951.1 499.4 950.1 502.5 949.1 505.6 948.1 508.6 947.1 511.5 946.1 514.1 945.1 516.1 944.1 517.8 943.1 519.6 942.1 521.7 941.1 523.9 940.1 525.8 939.1 527.7 938.1 529.2 937.1 531.1 936.1 532.9 935.1 535.1 934.1 537.1 933.1 539 932.1 540.9 931.1 542.5 930.1 544.3 929.1 546.1 928.1 547.8 927.1 549.5 926.1 551.3 925.1 553.6 924.1 555.8 923.1 557.5 922.1 559.3 921.1 560.8 920.1 562.7 919.1 564.4 918.1 566.6 917.1 568.3 916.1 570.2 915.1 571.8 914.1 573.6 913.1 575.4 912.1 577.4 911.1 579 910.1 580.6 909.1 582 908.1 583.7 907.1 585.6 906.1 587.3 905.1 588.9 904.1 590.2 903.1 591.7 902.1 593 901.1 594.7 900.1 596 899.1 597.3 898.1 598.7 897.1 600 896.1 601.2 895.1 601.9 894.1 602.3 893.1 602.4 892.1 602.3 891.1 602.1 890.1 602 889.1 602 888.1 601.9 887.1 601.8 886.1 601.6 885.1 601.5 884.1 601.5 883.1 601.6 882.1 601.4 881.1 601.1 880.1 601 879.1 600.9 878.1 600.4 877.1 600.1 876.1 599.7 875.1 599.5 874.1 599.1 873.1 598.7 872.1 598.3 871.1 598.1 870.1 597.6 869.1 596.8 868.1 595.8 867.1 595.4 866.1 594.8 865.1 594.3 864.1 593 863.1 592 862.1 591 861.1 590.4 860.1 589.8 859.1 588.9 858.1 587.9 857.1 586.7 856.1 585.6 855.1 584.4 854.1 583.3 853.1 582 852.1 580.8 851.1 579.5 850.1 578.2 849.1 576.9 848.1 575.6 847.1 574.4 846.1 573 845.1 571.6 844.1 570.2 843.1 568.7 842.1 567.3 841.1 565.6 840.1 564 839.1 562.2 838.1 560.2 837.1 558.6 836.1 556.2 835.1 554.2 834.1 552.1 833.1 550.1 832.1 547.9 831.1 545.3 830.1 542.6 829.1 539.7 828.1 537 827.1 534.3 826.1 531.5 825.1 528.9 824.1 526.4 823.1 524.1 822.1 521.2 821.1 518.2 820.1 515.3 819.1 512.6 818.1 509.8 817.1 507 816.1 504 815.1 501.1 814.1 498.3 813.1 495.5 812.1 492.8 811.1 489.8 810.1 486.9 809.1 483.8 808.1 481.2 807.1 478.5 806.1 476 805.1 473.1 804.1 470.1 803.1 467.4 802.1 464.7 801.1 462 800.1 458.8 799.1 456.1 798.1 453.2 797.1 450.1 796.1 446.7 795.1 443.2 794.1 439.5 793.1 435.7 792.1 432.2 791.1 429.1 790.1 425.7 789.1 422.1 788.1 418.7 787.1 415 786.1 411.9 785.1 408.8 784.1 405.5 783.1 402.4 782.1 399.1 781.1 396.1 780.1 393.5 779.1 390.8 778.1 388 777.1 385.7 776.1 383.2 775.1 380.7 774.1 377.8 773.1 375 772.1 372.3 771.1 369.3 770.1 366.6 769.1 363.5 768.1 360.7 767.1 357.7 766.1 355 765.1 352.1 764.1 349.7 763.1 347.1 762.1 344.6 761.1 342 760.1 339.3 759.1 336.6 758.1 334.4 757.1 332.3 756.1 329.9 755.1 327.4 754.1 324.9 753.1 322.9 752.1 320.7 751.1 318.5 750.1 316.2 749.1 313.6 748.1 311 747.1 309 746.1 307.2 745.1 305.3 744.1 303.4 743.1 301.3 742.1 299.3 741.1 296.7 740.1 294.6 739.1 292.4 738.1 290.5 737.1 288.5 736.1 286.7 735.1 284.6 734.1 282.8 733.1 280.8 732.1 279.3 731.1 277.5 730.1 275.5 729.1 273.8 728.1 271.8 727.1 270.1 726.1 267.9 725.1 265.9 724.1 263.7 723.1 261.8 722.1 259.9 721.1 258.5 720.1 256.8 719.1 255.3 718.1 253.5 717.1 252.1 716.1 250.6 715.1 249.3 714.1 247.9 713.1 246.3 712.1 245 711.1 243.5 710.1 242.2 709.1 241.1 708.1 240.6 707.1 240.8 706.1 241 705.1 241.1 704.1 241.1 703.1 241 702.1 241.4 701.1 241.5 700.1 242 699.1 242 698.1 242.2 697.1 242.5 696.1 242.7 695.1 243 694.1 242.9 693.1 243.1 692.1 243.6 691.1 244.1 690.1 244.7 689.1 245 688.1 245.1 687.1 245.4 686.1 245.7 685.1 246.4 684.1 247 683.1 247.7 682.1 248.3 681.1 248.8 680.1 249.6 679.1 250.4 678.1 251.4 677.1 252.4 676.1 253.6 675.1 254.4 674.1 254.8 673.1 255.5 672.1 256.6 671.1 258 670.1 259.2 669.1 260.4 668.1 261.6 667.1 263 666.1 264.6 665.1 266.1 664.1 268 663.1 269.5 662.1 271.5 661.1 273.1 660.1 275.1 659.1 276.8 658.1 278.9 657.1 281.2 656.1 283.4 655.1 285.7 654.1 287.8 653.1 290.4 652.1 292.7 651.1 295.1 650.1 297.6 649.1 300.2 648.1 303 647.1 305.8 646.1 308.4 645.1 311.3 644.1 314 643.1 317 642.1 319.6 641.1 322.4 640.1 324.9 639.1 327.6 638.1 330.2 637.1 332.9 636.1 335.5 635.1 337.8 634.1 340.3 633.1 343 632.1 345.7 631.1 348.2 630.1 350.5 629.1 352.9 628.1 355.5 627.1 358 626.1 360.6 625.1 362.9 624.1 365.1 623.1 367.2 622.1 369.3 621.1 371.6 620.1 373.4 619.1 375.6 618.1 378 617.1 380.5 616.1 382.2 615.1 384.2 614.1 386.1 613.1 388.2 612.1 390.1 611.1 392.4 610.1 394.7 609.1 397.2 608.1 399.5 607.1 402.1 606.1 404.9 605.1 407.7 604.1 410.5 603.1 413.8 602.1 417.6 601.1 421.7 600.1 425.5 599.1 429.1 598.1 433.1 597.1 436.7 596.1 440.9 595.1 444.4 594.1 448.4 593.1 451.9 592.1 456 591.1 460 590.1 463.9 589.1 467.4 588.1 470.6 587.1 474.1 586.1 477.5 585.1 480.8 584.1 483.9 583.1 486.7 582.1 490 581.1 493.1 580.1 496.1 579.1 499 578.1 502.1 577.1 505.3 576.1 508 575.1 510.6 574.1 513.2 573.1 515.9 572.1 518 571.1 519.9 570.1 521.6 569.1 523.7 568.1 525.1 567.1 526.9 566.1 528.6 565.1 530.9 564.1 532.9 563.1 534.9 562.1 536.9 561.1 538.6 560.1 540.4 559.1 542.2 558.1 544.2 557.1 546.1 556.1 547.8 555.1 549.7 554.1 551.7 553.1 553.8 552.1 555.8 551.1 557.9 550.1 559.5 549.1 561.2 548.1 562.7 547.1 564.5 546.1 566.2 545.1 568 544.1 570 543.1 571.6 542.1 573.2 541.1 575 540.1 577 539.1 578.6 538.1 580.4 537.1 581.9 536.1 583.6 535.1 585.1 534.1 586.9 533.1 588.3 532.1 589.8 531.1 591.3 530.1 593 529.1 594.5 528.1 596.1 527.1 597.6 526.1 599.2 525.1 600.1 524.1 601 523.1 601.4 522.1 602.1 521.1 602.2 520.1 602.5 519.1 602.4 518.1 602.5 517.1 602.5 516.1 602.5 515.1 601.8 514.1 601.6 513.1 601.4 512.1 601.6 511.1 601.5 510.1 601.1 509.1 601 508.1 600.7 507.1 600.7 506.1 600.2 505.1 600.1 504.1 599.8 503.1 599.4 502.1 598.9 501.1 598.6 500.1 598.2 499.1 597.8 498.1 597.2 497.1 596.8 496.1 596.3 495.1 595.8 494.1 595.1 493.1 594.1 492.1 593.4 491.1 592.7 490.1 591.9 489.1 591 488.1 589.9 487.1 588.9 486.1 587.8 485.1 586.6 484.1 585.3 483.1 584.4 482.1 583.3 481.1 582.4 480.1 581 479.1 579.8 478.1 578.3 477.1 577.1 476.1 575.6 475.1 574.4 474.1 573.1 473.1 571.9 472.1 570.3 471.1 568.8 470.1 567.4 469.1 566.1 468.1 564.7 467.1 562.9 466.1 561.1 465.1 559.2 464.1 556.8 463.1 554.4 462.1 552.3 461.1 550.3 460.1 547.9 459.1 545.3 458.1 542.7 457.1 540.1 456.1 537.4 455.1 534.4 454.1 531.9 453.1 529.3 452.1 527 451.1 524.4 450.1 521.4 449.1 518.6 448.1 515.6 447.1 513 446.1 510.1 445.1 507 444.1 504 443.1 501.6 442.1 498.9 441.1 496.1 440.1 493 439.1 490.2 438.1 487.3 437.1 484.4 436.1 481.6 435.1 478.8 434.1 476.2 433.1 473.3 432.1 470.7 431.1 467.8 430.1 465.2 429.1 462.5 428.1 459.6 427.1 456.4 426.1 453.3 425.1 450.2 424.1 446.8 423.1 443.3 422.1 439.8 421.1 436.7 420.1 433.2 419.1 429.5 418.1 426 417.1 422.7 416.1 419.2 415.1 415.7 414.1 412.8 413.1 409.9 412.1 406.7 411.1 403.7 410.1 401 409.1 398.4 408.1 396 407.1 393.5 406.1 391 405.1 388.8 404.1 386.6 403.1 383.8 402.1 381 401.1 378 400.1 375.2 399.1 372.3 398.1 369.5 397.1 366.7 396.1 364.1 395.1 361.1 394.1 358.4 393.1 355.5 392.1 352.9 391.1 350.2 390.1 347.6 389.1 345.2 388.1 342.8 387.1 340.4 386.1 337.7 385.1 335.1 384.1 332.5 383.1 330.1 382.1 327.8 381.1 325.4 380.1 323.3 379.1 320.9 378.1 318.9 377.1 316.3 376.1 314.1 375.1 311.8 374.1 309.5 373.1 307.2 372.1 305.2 371.1 303.2 370.1 301 369.1 298.8 368.1 297.1 367.1 295.2 366.1 292.9 365.1 290.6 364.1 288.6 363.1 287.1 362.1 285 361.1 282.9 360.1 281 359.1 279.4 358.1 277.9 357.1 275.7 356.1 273.9 355.1 271.5 354.1 269.5 353.1 267.6 352.1 265.9 351.1 264.4 350.1 262.5 349.1 261.1 348.1 259.2 347.1 257.5 346.1 255.9 345.1 254.6 344.1 253 343.1 251.2 342.1 249.3 341.1 247.8 340.1 246.1 339.1 244.8 338.1 243.5 337.1 242.7 336.1 241.8 335.1 241.3 334.1 241.4 333.1 241.2 332.1 241.2 331.1 241.1 330.1 241.2 329.1 241.5 328.1 241.7 327.1 242.1 326.1 242.1 325.1 242.3 324.1 242.5 323.1 243 322.1 243.5 321.1 243.5 320.1 243.7 319.1 244.1 318.1 244.6 317.1 245.1 316.1 245.1 315.1 245.6 314.1 246 313.1 246.7 312.1 247.2 311.1 247.9 310.1 248.5 309.1 249 308.1 249.7 307.1 250.4 306.1 251.3 305.1 251.8 304.1 252.6 303.1 253.6 302.1 254.5 301.1 255.8 300.1 256.9 299.1 258.2 298.1 259.2 297.1 260.5 296.1 261.8 295.1 263.3 294.1 264.8 293.1 266.4 292.1 267.8 291.1 269.3 290.1 270.9 289.1 272.8 288.1 274.9 287.1 276.7 286.1 278.7 285.1 280.5 284.1 282.8 283.1 284.9 282.1 287.4 281.1 289.7 280.1 291.9 279.1 294.4 278.1 297.3 277.1 300.2 276.1 302.7 275.1 305.1 274.1 307.9 273.1 310.8 272.1 313.6 271.1 316.4 270.1 319.1 269.1 322 268.1 324.6 267.1 327.3 266.1 330.1 265.1 332.6 264.1 335.1 263.1 337.6 262.1 340 261.1 342.4 260.1 344.9 259.1 347.8 258.1 350.7 257.1 353.1 256.1 355.6 255.1 358.1 254.1 360.8 253.1 363.1 252.1 365.1 251.1 367.2 250.1 369.2 249.1 371.3 248.1 373.4 247.1 375.4 246.1 377.6 245.1 379.6 244.1 382 243.1 384.1 242.1 386.3 241.1 388.2 240.1 390.4 239.1 392.1 238.1 394.5 237.1 396.7 236.1 399.4 235.1 401.7 234.1 404.6 233.1 407.7 232.1 410.4 231.1 413.5 230.1 416.7 229.1 420.9 228.1 424.9 227.1 428.5 226.1 432.4 225.1 436.3 224.1 440.2 223.1 444.1 222.1 447.8 221.1 451.6 220.1 455.5 219.1 459.5 218.1 463.4 217.1 466.8 216.1 470.2 215.1 473.6 214.1 476.9 213.1 479.7 212.1 482.9 211.1 486.2 210.1 489.6 209.1 492.5 208.1 495.7 207.1 498.7 206.1 501.8 205.1 504.7 204.1 507.7 203.1 510.4 202.1 512.7 201.1 515.3 200.1 517.4 199.1 519.5 198.1 521.3 197.1 522.9 196.1 524.9 195.1 526.6 194.1 528.7 193.1 530.5 192.1 532.4 191.1 534.4 190.1 536.1 189.1 538 188.1 539.7 187.1 541.8 186.1 543.7 185.1 545.7 184.1 547.4 183.1 549.3 182.1 551.4 181.1 553.3 180.1 555.2 179.1 556.8 178.1 558.4 177.1 560.1 176.1 562 175.1 564.5 174.1 566.3 173.1 568.2 172.1 569.6 171.1 571.6 170.1 573.3 169.1 575.1 168.1 576.9 167.1 578.8 166.1 580.4 165.1 582 164.1 583.6 163.1 585.2 162.1 587 161.1 588.5 160.1 589.9 159.1 591.3 158.1 593.1 157.1 594.8 156.1 596.3 155.1 597.6 154.1 598.8 153.1 600.1 152.1 600.7 151.1 601.3 150.1 601.7 149.1 601.9 148.1 602.1 147.1 602.1 146.1 602.3 145.1 602.1 144.1 602.1 143.1 601.8 142.1 601.8 141.1 601.5 140.1 601.6 139.1 601.3 138.1 601.3 137.1 600.7 136.1 600.4 135.1 600.3 134.1 600.5 133.1 600.3 132.1 599.9 131.1 599.4 130.1 599.4 129.1 598.9 128.1 598.5 127.1 597.6 126.1 597.2 125.1 596.6 124.1 596.1 123.1 595.2 122.1 594.7 121.1 594.1 120.1 593.8 119.1 592.7 118.1 591.9 117.1 590.8 116.1 590.1 115.1 589.3 114.1 588.5 113.1 587.3 112.1 585.8 111.1 584.7 110.1 583.6 109.1 582.4 108.1 581.1 107.1 579.4 106.1 578.2 105.1 576.9 104.1 575.9 103.1 574.6 102.1 573.1 101.1 571.9 100.1 570.4 99.1 568.8 98.1 567.2 97.1 565.9 96.1 564.8 95.1 562.9 94.1 560.9 93.1 559 92.1 557.1 91.1 554.7 90.1 552.4 89.1 550 88.1 547.8 87.1 545.4 86.1 542.9 85.1 540.5 84.1 537.7 83.1 535.3 82.1 532.6 81.1 529.8 80.1 527.1 79.1 524.7 78.1 522.2 77.1 519.5 76.1 516.6 75.1 513.6 74.1 510.8 73.1 507.8 72.1 505 71.1 501.7 70.1 498.8 69.1 496 68.1 493.4 67.1 490.6 66.1 487.8 65.1 485 64.1 482.2 63.1 479.3 62.1 476.3 61.1 473.1 60.1 470.5 59.1 467.9 58.1 465.4 57.1 462.6 56.1 459.7 55.1 456.9 54.1 453.7 53.1 450.5 52.1 447 51.1 443.7 50.1 440.1 49.1 436.9 48.1 433.3 47.1 430.5 46.1 428.4Z" fill="#c5d836" stroke="#c5d836" stroke-width="0.6" stroke-linejoin="round" clip-path="url(#plotclip)"/>
<path d="M46.1 410.5 47.1 411.1 48.1 412.7 49.1 413.4 50.1 414.6 51.1 416.9 52.1 418.1 53.1 418.4 54.1 419 55.1 419.6 56.1 420.4 57.1 421.5 58.1 422.6 59.1 424.7 60.1 425.9 61.1 426.5 62.1 427.8 63.1 428.9 64.1 429.9 65.1 431.1 66.1 432.2 67.1 432.8 68.1 434.2 69.1 435.2 70.1 438.2 71.1 439.2 72.1 440.5 73.1 442.4 74.1 443.5 75.1 444.2 76.1 445.7 77.1 446.7 78.1 448.7 79.1 449.6 80.1 452.2 81.1 453.8 82.1 453.6 83.1 455 84.1 457.7 85.1 459.8 86.1 461.7 87.1 462.3 88.1 463.9 89.1 464.8 90.1 466.5 91.1 468.1 92.1 469.2 93.1 470.3 94.1 471.1 95.1 472.4 96.1 472.6 97.1 475.1 98.1 478.2 99.1 478.6 100.1 479.9 101.1 480.5 102.1 481.2 103.1 482.3 104.1 483.5 105.1 483.6 106.1 485.3 107.1 486.7 108.1 486.2 109.1 488.2 110.1 488.1 111.1 490.1 112.1 490.4 113.1 491 114.1 492.1 115.1 492.6 116.1 492.4 117.1 492.4 118.1 494.3 119.1 494.6 120.1 494.7 121.1 495.8 122.1 496.1 123.1 496.2 124.1 497.1 125.1 497.7 126.1 498 127.1 498.5 128.1 498.7 129.1 498.1 130.1 498.4 131.1 498.6 132.1 499.4 133.1 499.7 134.1 498.7 135.1 498.8 136.1 498.7 137.1 499 138.1 498.7 139.1 498.5 140.1 498.7 141.1 498 142.1 496.8 143.1 496.8 144.1 497 145.1 496.6 146.1 495.5 147.1 495.7 148.1 495.1 149.1 495.4 150.1 494.9 151.1 494.1 152.1 492.9 153.1 492.1 154.1 491.7 155.1 491 156.1 490.8 157.1 490 158.1 489 159.1 486.7 160.1 486 161.1 486.1 162.1 485 163.1 483.7 164.1 481.5 165.1 480.9 166.1 479.7 167.1 479.7 168.1 479.3 169.1 477.6 170.1 476 171.1 475 172.1 474.2 173.1 471.6 174.1 471.5 175.1 470.5 176.1 470 177.1 469.2 178.1 468.1 179.1 467.4 180.1 467.6 181.1 465.8 182.1 464.8 183.1 464 184.1 463 185.1 460.4 186.1 459.7 187.1 459.6 188.1 458.8 189.1 457.7 190.1 456 191.1 455.2 192.1 454.3 193.1 452.2 194.1 451.6 195.1 449.8 196.1 448.2 197.1 446.4 198.1 445 199.1 444.4 200.1 443.1 201.1 441.6 202.1 439.8 203.1 437.4 204.1 437.1 205.1 435.8 206.1 436.1 207.1 434.1 208.1 433.4 209.1 432.3 210.1 429.5 211.1 428.1 212.1 427.2 213.1 425 214.1 424.2 215.1 424 216.1 423.8 217.1 421.2 218.1 419.5 219.1 418.2 220.1 416.4 221.1 415.4 222.1 414 223.1 412.1 224.1 411.5 225.1 409.9 226.1 409.1 227.1 407.2 228.1 405.1 229.1 402.6 230.1 400.3 231.1 400.5 232.1 400.1 233.1 399.4 234.1 399.3 235.1 398.3 236.1 397.4 237.1 395.8 238.1 395.3 239.1 394.6 240.1 393.3 241.1 393.3 242.1 392.6 243.1 391.8 244.1 389.6 245.1 389.8 246.1 388.5 247.1 387.4 248.1 385.5 249.1 384.8 250.1 383.6 251.1 380.9 252.1 380.1 253.1 377.5 254.1 375.2 255.1 374.1 256.1 374.1 257.1 372.4 258.1 370.4 259.1 368.9 260.1 368.3 261.1 367.8 262.1 365.6 263.1 365.2 264.1 361 265.1 360.1 266.1 359.2 267.1 357.1 268.1 355.1 269.1 354.1 270.1 352.6 271.1 351.3 272.1 349.4 273.1 347.7 274.1 347.6 275.1 346.5 276.1 344.6 277.1 342.7 278.1 341.7 279.1 340 280.1 339.3 281.1 337 282.1 337.3 283.1 335.7 284.1 335.7 285.1 333.9 286.1 332.8 287.1 331.8 288.1 331.6 289.1 330.1 290.1 329.2 291.1 327.7 292.1 327.3 293.1 326.4 294.1 326 295.1 323.9 296.1 323.7 297.1 322.4 298.1 321.5 299.1 321 300.1 320.7 301.1 320.6 302.1 319.9 303.1 319.7 304.1 319.5 305.1 318 306.1 317.8 307.1 316.4 308.1 315.4 309.1 315.5 310.1 315.8 311.1 315.4 312.1 315.3 313.1 315.1 314.1 314.4 315.1 313.8 316.1 313.8 317.1 313.1 318.1 313 319.1 312.2 320.1 311.6 321.1 312 322.1 311.6 323.1 311.3 324.1 311.7 325.1 312.8 326.1 314 327.1 314.1 328.1 313.3 329.1 313.1 330.1 313.3 331.1 313.1 332.1 313.9 333.1 314.7 334.1 314.6 335.1 314.5 336.1 314.5 337.1 315.8 338.1 315.9 339.1 316.3 340.1 317 341.1 318.8 342.1 319.6 343.1 320.8 344.1 320.8 345.1 320.8 346.1 322.5 347.1 324.2 348.1 324.2 349.1 324.8 350.1 324.5 351.1 325.3 352.1 327.2 353.1 328.7 354.1 329.7 355.1 330 356.1 332.1 357.1 333.9 358.1 334.6 359.1 334.7 360.1 335.4 361.1 336 362.1 337 363.1 338.2 364.1 339.2 365.1 340.4 366.1 341.8 367.1 342.7 368.1 343.4 369.1 344.4 370.1 346 371.1 347 372.1 348.2 373.1 349.5 374.1 350.1 375.1 352.2 376.1 352.6 377.1 353.8 378.1 354.2 379.1 354.8 380.1 355.5 381.1 358.7 382.1 359.1 383.1 360.7 384.1 362.2 385.1 362.2 386.1 364.8 387.1 365.7 388.1 366.3 389.1 367.4 390.1 369.4 391.1 369.3 392.1 370.8 393.1 372.9 394.1 374.2 395.1 376.4 396.1 378.4 397.1 379.1 398.1 380.4 399.1 381.2 400.1 383 401.1 385 402.1 385.9 403.1 388 404.1 388.6 405.1 389.7 406.1 391.6 407.1 393.9 408.1 396.2 409.1 396.6 410.1 398.2 411.1 399.7 412.1 401 413.1 401.1 414.1 402.5 415.1 405 416.1 406.6 417.1 407.8 418.1 409 419.1 410.3 420.1 412.3 421.1 412.4 422.1 413.5 423.1 414.3 424.1 414.9 425.1 416.6 426.1 417.6 427.1 418.3 428.1 420.8 429.1 421.3 430.1 422.6 431.1 424.7 432.1 424.8 433.1 425.3 434.1 426.9 435.1 429.5 436.1 430.3 437.1 431.2 438.1 431.6 439.1 433.7 440.1 433.3 441.1 435.9 442.1 437.5 443.1 438.9 444.1 440 445.1 442.1 446.1 443.4 447.1 444.5 448.1 447.1 449.1 449 450.1 451 451.1 451.9 452.1 452.8 453.1 453.6 454.1 453.6 455.1 455.6 456.1 457.4 457.1 459.4 458.1 459.9 459.1 461.8 460.1 463.9 461.1 465 462.1 466.4 463.1 468 464.1 469 465.1 470.2 466.1 471.4 467.1 473 468.1 475.3 469.1 476.2 470.1 478.1 471.1 477.9 472.1 479.7 473.1 480.8 474.1 481.6 475.1 482.2 476.1 483.1 477.1 484.7 478.1 485.7 479.1 486.3 480.1 486.5 481.1 487.1 482.1 489.1 483.1 489.4 484.1 491.1 485.1 490.5 486.1 491.6 487.1 491.9 488.1 492.8 489.1 492 490.1 492.8 491.1 493.3 492.1 493.9 493.1 494 494.1 495.9 495.1 495.9 496.1 496.2 497.1 497 498.1 497.2 499.1 497.3 500.1 498.1 501.1 497.9 502.1 498.6 503.1 498.9 504.1 498.1 505.1 498 506.1 498.1 507.1 498.8 508.1 499 509.1 499.6 510.1 500 511.1 499.5 512.1 499 513.1 498 514.1 497.9 515.1 497.5 516.1 497.9 517.1 497.5 518.1 497 519.1 495.7 520.1 494.8 521.1 495.7 522.1 495.3 523.1 494.5 524.1 493.6 525.1 492.4 526.1 491.7 527.1 490 528.1 490.3 529.1 489.6 530.1 489.1 531.1 487.8 532.1 488.8 533.1 486.7 534.1 485.7 535.1 485.6 536.1 484.3 537.1 482.6 538.1 482 539.1 480.4 540.1 479.1 541.1 477.9 542.1 476.4 543.1 475.6 544.1 474.8 545.1 473.5 546.1 472.9 547.1 473.3 548.1 471.2 549.1 470.3 550.1 470.1 551.1 468.5 552.1 468.2 553.1 467.3 554.1 467.2 555.1 464.7 556.1 463.2 557.1 462.2 558.1 462 559.1 459.1 560.1 459 561.1 456.9 562.1 456.7 563.1 455.6 564.1 454 565.1 452.6 566.1 451.5 567.1 451.4 568.1 449.4 569.1 449.1 570.1 447.3 571.1 446 572.1 443.9 573.1 442.2 574.1 441.2 575.1 440.8 576.1 439.1 577.1 437.4 578.1 437 579.1 435.3 580.1 434 581.1 432.3 582.1 431.3 583.1 429.8 584.1 428.4 585.1 426.1 586.1 425.4 587.1 423.9 588.1 421.3 589.1 420.3 590.1 419.6 591.1 418.9 592.1 416.7 593.1 415.9 594.1 414.3 595.1 412.9 596.1 410.6 597.1 409.6 598.1 409.1 599.1 407.5 600.1 405.8 601.1 404.8 602.1 402.2 603.1 400.6 604.1 399.5 605.1 398.2 606.1 396.3 607.1 396.2 608.1 395.7 609.1 395 610.1 393.4 611.1 393.1 612.1 393.6 613.1 392.3 614.1 390.1 615.1 389.8 616.1 389.8 617.1 387.7 618.1 384.8 619.1 384.2 620.1 383.5 621.1 382.3 622.1 380.5 623.1 379.8 624.1 377.8 625.1 378 626.1 376.1 627.1 376 628.1 374.2 629.1 372.8 630.1 370.8 631.1 369.4 632.1 368.5 633.1 366.6 634.1 365.5 635.1 363.4 636.1 361.1 637.1 359.7 638.1 360 639.1 358 640.1 357.2 641.1 355.5 642.1 353.7 643.1 351.5 644.1 350.7 645.1 349.5 646.1 348.1 647.1 346.3 648.1 345.2 649.1 343.3 650.1 342.6 651.1 340.9 652.1 339 653.1 336.9 654.1 337.5 655.1 336.5 656.1 334.9 657.1 333.8 658.1 333.3 659.1 331.9 660.1 331.6 661.1 330.5 662.1 328.7 663.1 327.8 664.1 327.2 665.1 325.9 666.1 325.2 667.1 324.7 668.1 323.3 669.1 322 670.1 320.6 671.1 319.7 672.1 318.6 673.1 317.5 674.1 317.2 675.1 317.4 676.1 317.5 677.1 316.7 678.1 316.8 679.1 317.1 680.1 316.3 681.1 314.4 682.1 314.8 683.1 314 684.1 313.2 685.1 312.9 686.1 312.5 687.1 311.7 688.1 307.9 689.1 312.3 690.1 312.1 691.1 312.2 692.1 311.8 693.1 311.5 694.1 311.2 695.1 311.3 696.1 311.9 697.1 311.5 698.1 312 699.1 311.9 700.1 312.8 701.1 312.5 702.1 312.9 703.1 312.9 704.1 313.4 705.1 314.8 706.1 315.7 707.1 315.9 708.1 316 709.1 315.3 710.1 315.6 711.1 316 712.1 318 713.1 317.6 714.1 320.1 715.1 319.8 716.1 320.1 717.1 321.1 718.1 321.2 719.1 322 720.1 323.6 721.1 324.3 722.1 325.4 723.1 327.1 724.1 328.2 725.1 329.6 726.1 329.8 727.1 331.6 728.1 332.8 729.1 333.4 730.1 333.2 731.1 334.9 732.1 336.1 733.1 336 734.1 337.6 735.1 338.7 736.1 339.2 737.1 340.7 738.1 342.4 739.1 343.1 740.1 344.1 741.1 344.5 742.1 345.7 743.1 347.5 744.1 349.2 745.1 350.5 746.1 351.6 747.1 351.8 748.1 352.3 749.1 353.2 750.1 354.1 751.1 355.6 752.1 357.1 753.1 358.1 754.1 359.5 755.1 360.4 756.1 360.6 757.1 363.5 758.1 364.2 759.1 364.9 760.1 366.2 761.1 368.1 762.1 369.2 763.1 370.2 764.1 370.8 765.1 373 766.1 375.3 767.1 375.7 768.1 377 769.1 379.1 770.1 381.1 771.1 382.1 772.1 384.3 773.1 384.7 774.1 386.5 775.1 388.5 776.1 389.8 777.1 392 778.1 393 779.1 393.4 780.1 395.6 781.1 396.9 782.1 397 783.1 398.8 784.1 401.1 785.1 402.3 786.1 404.1 787.1 404.7 788.1 406.5 789.1 408.2 790.1 409.9 791.1 409.5 792.1 411.1 793.1 412.6 794.1 414.6 795.1 415.6 796.1 416.8 797.1 417.9 798.1 418.3 799.1 419.7 800.1 420.8 801.1 422.3 802.1 423.3 803.1 424.7 804.1 425.9 805.1 426.4 806.1 427.5 807.1 427.8 808.1 429.8 809.1 431.3 810.1 432.9 811.1 434.1 812.1 435.1 813.1 435.7 814.1 436.8 815.1 439.2 816.1 440.9 817.1 442.7 818.1 444.2 819.1 445.9 820.1 447.1 821.1 448 822.1 449.6 823.1 451 824.1 452.3 825.1 453.6 826.1 455.1 827.1 456.6 828.1 457.4 829.1 458.7 830.1 459.5 831.1 461.8 832.1 463.5 833.1 464.5 834.1 465.7 835.1 466.8 836.1 469.4 837.1 470.8 838.1 471.5 839.1 473.1 840.1 474.5 841.1 475.7 842.1 478.2 843.1 479.3 844.1 479.8 845.1 481.1 846.1 482 847.1 483.1 848.1 483.5 849.1 483.9 850.1 484.3 851.1 485.9 852.1 486.9 853.1 487.2 854.1 487.5 855.1 489.6 856.1 489.6 857.1 490.3 858.1 490.1 859.1 490.9 860.1 492 861.1 492.3 862.1 493.8 863.1 493.5 864.1 494.5 865.1 494.8 866.1 495.5 867.1 496.3 868.1 496.4 869.1 497.1 870.1 497.1 871.1 497.6 872.1 496.9 873.1 498.6 874.1 497.6 875.1 498.2 876.1 498.8 877.1 499.1 878.1 499.1 879.1 499.4 880.1 499.8 881.1 499.2 882.1 499.6 883.1 499.4 884.1 498.7 885.1 498.8 886.1 498.3 887.1 497.3 888.1 496.1 889.1 496.6 890.1 495.8 891.1 495.9 892.1 495.1 893.1 495.3 894.1 494.3 895.1 493.6 896.1 493.3 897.1 491.6 898.1 491 899.1 491.7 900.1 491.2 901.1 490.3 902.1 488.6 903.1 487.8 904.1 486.5 905.1 484.8 906.1 484.2 907.1 484 908.1 483.6 909.1 482.2 910.1 482.6 911.1 482.2 912.1 480.5 913.1 478.9 914.1 478.5 915.1 476.3 916.1 475.5 917.1 474.5 918.1 472.5 919.1 471.9 920.1 470.7 921.1 471.5 922.1 470 923.1 469.4 924.1 468.3 925.1 467.3 926.1 466.3 927.1 465.6 928.1 463.9 929.1 463.8 930.1 463.1 931.1 461.5 932.1 461.1 933.1 458.4 934.1 457 935.1 456 936.1 454.6 937.1 453.1 938.1 452.2 939.1 449.4 940.1 448.8 941.1 448.3 942.1 446.7 943.1 446 944.1 445.4 945.1 444.5 946.1 442.3 947.1 440.9 948.1 440.1 949.1 437.9 950.1 437 951.1 435.3 952.1 433.8 953.1 430.7 954.1 430.5 955.1 428.8 956.1 426.8 957.1 425.7 958.1 425.3 959.1 422.6 960.1 421.8 961.1 419.1 962.1 417.9 963.1 416.7 964.1 416.5 965.1 414.1 966.1 413.8 967.1 411.6 968.1 411.2 969.1 409.1 970.1 407.1 971.1 407 972.1 404.8 973.1 403.3 974.1 402 975.1 400.9 976.1 399.6 977.1 398.3 978.1 398.2 979.1 397.4 980.1 397 981.1 395.1 982.1 394.9 983.1 393.4 984.1 392.2 985.1 391.9 986.1 392.2 987.1 392.1 988.1 391.3 989.1 390.5 990.1 388.9 991.1 386.9 992.1 386 993.1 384.8 994.1 383.8 995.1 382.1 996.1 380 997.1 378.7 998.1 378.2 999.1 377.4 1000.1 376.2 1001.1 374.5 1002.1 372.1 1003.1 370.5 1004.1 368.9 1005.1 366.7 1006.1 365.8 1007.1 364 1008.1 363 1009.1 362 1010.1 360.3 1011.1 358.5 1012.1 357.1 1013.1 355.6 1014.1 353.3 1015.1 352.3 1016.1 350.9 1017.1 348.5 1018.1 346.6 1019.1 344.9 1020.1 343.7 1021.1 343.8 1022.1 342.9 1023.1 341.5 1024.1 340.2 1025.1 338.1 1026.1 336.1 1027.1 335.7 1028.1 334.2 1029.1 334 1030.1 332 1031.1 331 1032.1 330.8 1033.1 329.4 1034.1 327.9 1035.1 327.2 1036.1 327.2 1037.1 326.4 1038.1 325.8 1039.1 324.8 1040.1 324.1 1041.1 323.4 1042.1 321.7 1043.1 322 1044.1 321.6 1045.1 320.2 1046.1 318.9 1047.1 317.7 1048.1 316.9 1049.1 316.9 1050.1 317.4 1051.1 316.7 1052.1 316.2 1053.1 315 1054.1 315.5 1055.1 313.6 1056.1 313.8 1057.1 313.3 1058.1 312.3 1059.1 311.9 1060.1 312.1 1061.1 313.4 1062.1 312.1 1063.1 312.3 1064.1 312.1 1065.1 310.4 1066.1 304.7 1067.1 311.1 1068.1 311.4 1069.1 311.9 1070.1 312.6 1071.1 312.5 1072.1 312.3 1073.1 312.9 1074.1 313.9 1075.1 312.9 1076.1 314 1077.1 315.5 1078.1 315.4 1079.1 316.1 1080.1 316.3 1081.1 316.4 1082.1 315.8 1083.1 316.5 1084.1 317.8 1085.1 319 1086.1 319.8 1087.1 319.9 1088.1 320.1 1089.1 321.1 1090.1 321.2 1091.1 322.5 1092.1 324.2 1093.1 325 1094.1 324.4 1095.1 325.3 1096.1 325.8 1097.1 327.9 1098.1 329.3 1099.1 330.6 1100.1 330.9 1101.1 331 1102.1 332 1103.1 333.8 1104.1 334.5 1105.1 335.7 1106.1 336.9 1107.1 337.9 1108.1 340.1 1109.1 340.4 1110.1 341.5 1111.1 342.5 1112.1 343.8 1113.1 343.2 1114.1 344.9 1115.1 345.6 1116.1 347.2 1117.1 348 1118.1 350.7 1119.1 351.3 1120.1 351.4 1121.1 353.9 1122.1 355.7 1123.1 356.3 1124.1 357.4 1125.1 359.3 1126.1 360 1127.1 361.8 1128.1 362.6 1129.1 363.8 1130.1 365 1131.1 366.2 1132.1 367.1 1133.1 368.5 1134.1 370.1 1135.1 370.4 1136.1 372.1 1137.1 374.2 1138.1 375.6 1139.1 376.9 1140.1 379.1 1141.1 380.8 1142.1 381.8 1143.1 382.7 1144.1 385 1145.1 385.8 1146.1 386.7 1147.1 387.5 1148.1 388.7 1149.1 390.1 1150.1 392.3 1151.1 394.1 1152.1 395.8 1153.1 395.6 1154.1 397.5 1155.1 399.2 1156.1 399.4 1157.1 402 1158.1 403 1159.1 405 1160.1 406.2 1161.1 408.1 1162.1 408.9 1163.1 410.7 1164.1 412.5 1165.1 413.3 1166.1 415 1167.1 415.7 1168.1 417.1 1169.1 417.9 1170.1 418.3 1171.1 419.5 1172.1 421.1 1173.1 422.2 1174.1 423.6 1175.1 424.3 1176.1 425.5 1177.1 426.5 1178.1 427.3 1179.1 428.4 1180.1 430.4 1181.1 431.1 1182.1 432 1183.1 434.9 1184.1 435.2 1185.1 436.5 1186.1 437.9 1187.1 439.6 1188.1 440.8 1189.1 442.5 1190.1 442.6 1191.1 443.2 1192.1 445.7 1193.1 448.2 1194.1 450.2 1195.1 451.4 1196.1 453.4 1197.1 453.9 1198.1 455 1199.1 455.7 1200.1 457.2 1201.1 457.5 1202.1 459.5 1203.1 461.6 1204.1 462.7 1205.1 464.8 1206.1 466.3 1207.1 467.5 1208.1 469.5 1209.1 470.9 1210.1 472.2 1211.1 473 1212.1 474 1213.1 475 1214.1 475.1 1215.1 475.6 1216.1 478.1 1217.1 479.9 1218.1 481.3 1219.1 483.1 1220.1 483.8 1221.1 484.8 1222.1 485.2 1223.1 486.4 1224.1 487.1 1225.1 487.6 1226.1 488.7 1227.1 488.7 1228.1 489.6 1229.1 490.3 1230.1 491.1 1231.1 492.4 1232.1 493 1233.1 491.9 1234.1 492.1 1235.1 494.2 1236.1 495 1237.1 494.8 1238.1 496.9 1239.1 497.8 1240.1 497.7 1241.1 497.6 1242.1 498 1243.1 497.6 1244.1 497.2 1245.1 497.7 1246.1 497.5 1247.1 498.2 1248.1 498.5 1249.1 498.6 1250.1 498.3 1251.1 498.2 1252.1 498.3 1253.1 498.4 1254.1 498.5 1255.1 498.9 1256.1 497.7 1257.1 497.9 1258.1 498.6 1259.1 497.1 1260.1 497.6 1261.1 496.9 1262.1 496.7 1263.1 496.8 1264.1 495.3 1265.1 495.1 1266.1 494.5 1267.1 493.5 1268.1 493.2 1269.1 492.3 1270.1 491.9 1271.1 490.8 1272.1 490.1 1273.1 489.2 1274.1 489.4 1275.1 488.6 1276.1 487.3 1277.1 487.4 1278.1 486.7 1279.1 485.5 1280.1 484.3 1281.1 482.5 1282.1 482.2 1283.1 480.1 1284.1 479.8 1285.1 478.3 1286.1 478.7 1287.1 476.3 1288.1 475.8 1289.1 474 1290.1 473 1291.1 472.1 1292.1 471.1 1293.1 469.9 1294.1 468.1 1295.1 466.6 1296.1 466.9 1297.1 466.3 1298.1 465.8 1299.1 464.9 1300.1 464.3 1301.1 461.8 1302.1 460.9 1303.1 460.3 1304.1 459.1 1305.1 457.8 1306.1 457.4 1307.1 456.6 1308.1 456 1309.1 454.4 1310.1 453.8 1311.1 451.8 1312.1 450 1313.1 449.1 1314.1 448 1315.1 446 1316.1 445.1 1317.1 444 1318.1 441.8 1319.1 441.7 1320.1 440.1 1321.1 437.6 1322.1 437.2 1323.1 435.5 1324.1 434.8 1325.1 432.1 1326.1 430.6 1327.1 430.5 1328.1 428.4 1329.1 425.5 1330.1 423.1 1331.1 423 1332.1 423 1333.1 421.1 1334.1 420.6 1335.1 419.7 1336.1 417.5 1337.1 416.2 1338.1 414.4 1339.1 412.1 1340.1 410.6 1341.1 410.1 1342.1 408.9 1343.1 407.7 1344.1 407 1345.1 404.2 1346.1 401.7 1347.1 401.4 1348.1 399.4 1349.1 398.1 1350.1 397.5 1351.1 397.4 1352.1 396.5 1353.1 396.9 1354.1 396.7 1355.1 396 1356.1 395.1 1357.1 393.9 1358.1 393 1359.1 391.9 1360.1 391.1 1361.1 390 1362.1 388.1 1363.1 387 1364.1 385.2 1365.1 384.3 1366.1 382.5 1367.1 381 1368.1 380.9 1369.1 378.9 1370.1 378.8 1371.1 377.5 1372.1 376 1373.1 374.6 1374.1 372.4 1375.1 370.7 1376.1 369.3 1377.1 366.9 1378.1 365.7 1379.1 364.2 1380.1 362.5 1381.1 360.5 1382.1 359.6 1383.1 356.7 1384.1 355.6 1385.1 355.3 1386.1 353.6 1387.1 350.8 1388.1 349.8 1389.1 349.9 1390.1 347.4 1391.1 345.7 1392.1 344.9 1393.1 344 1394.1 342.5 1395.1 341.8 1396.1 340.3 1397.1 339.6 1398.1 338.9 1399.1 337 1400.1 335.4 1401.1 334.7 1402.1 333.4 1403.1 332.1 1404.1 329.6 1405.1 329.7 1406.1 329.1 1407.1 327.7 1408.1 326.2 1409.1 325.9 1410.1 324.9 1411.1 324.5 1412.1 323.4 1413.1 322.7 1414.1 322.6 1415.1 322 1416.1 319.6 1417.1 318 1418.1 319.1 1419.1 318.6 1420.1 318.8 1421.1 318.8 1422.1 318.1 1423.1 318 1424.1 316.7 1425.1 316.2 1426.1 315.8 1427.1 314.8 1428.1 315.1 1429.1 314.6 1430.1 314.7 1431.1 310.2 1432.1 314.3 1433.1 314 1434.1 313.7 1435.1 313.6 1436.1 313.1 1437.1 311.1 1438.1 311.6 1439.1 312.4 1440.1 310.4 1441.1 310.7 1442.1 312.1 1443.1 312.2 1444.1 312.2 1445.1 309.1 1446.1 313.4 1447.1 313.5 1448.1 314.4 1449.1 314.4 1450.1 315.8 1451.1 315.9 1452.1 315.9 1453.1 317.2 1454.1 317.3 1455.1 317.5 1456.1 318.1 1457.1 318.6 1458.1 318.7 1459.1 320 1460.1 320 1461.1 320.5 1462.1 321.7 1463.1 322.8 1464.1 324.1 1465.1 324.1 1466.1 324.5 1467.1 326.8 1468.1 326.1 1469.1 327.7 1470.1 329 1471.1 330 1472.1 330.3 1473.1 332 1474.1 332.2 1475.1 333.4 1476.1 334.4 1477.1 335.9 1478.1 337.2 1479.1 338.4 1480.1 339 1481.1 341.5 1482.1 341.3 1483.1 341.4 1484.1 342.5 1485.1 342.8 1486.1 344.5 1487.1 346.4 1488.1 347 1489.1 348.5 1490.1 349.8 1491.1 350 1492.1 352.6 1493.1 351.2 1494.1 353.3 1495.1 355.5 1496.1 356.3 1497.1 356.9 1498.1 358.4 1499.1 359.8 1500.1 360.9 1501.1 362.4 1502.1 362.1 1503.1 363.8 1504.1 365.4 1505.1 367.7 1506.1 368.7 1507.1 369.5 1508.1 370.4 1509.1 371.4 1510.1 372.5 1511.1 374.6 1512.1 377.2 1513.1 379.1 1514.1 381.4 1515.1 383.3 1516.1 384.9 1517.1 384.3 1518.1 387 1519.1 388.4 1520.1 389.3 1521.1 390.7 1522.1 392.3 1523.1 394.5 1524.1 395 1525.1 396.2 1526.1 397.8 1527.1 399.9 1528.1 401.1 1529.1 402.3 1530.1 403.5 1531.1 403.9 1532.1 405 1533.1 405.8 1534.1 406.8 1535.1 409.5 1536.1 411 1537.1 412.1 1538.1 413.6 1539.1 414.2 1540.1 415.4 1541.1 417.2 1542.1 417.9 1543.1 418.8 1544.1 421.1 1545.1 422.6 1546.1 423 1547.1 424.5 1548.1 425.6 1549.1 426.4 1550.1 426.6 1551.1 427.2 1552.1 429.9 1553.1 430.9 1554.1 432.4 1555.1 433.9 1556.1 435.6 1557.1 435.8 1558.1 437.9 1559.1 439.1 1560.1 439.1 1561.1 441.1 1562.1 441.6 1563.1 442.7 1564.1 444.7 1565.1 446.2 1566.1 447.8 1567.1 448.6 1568.1 450.7 1569.1 452.8 1570.1 454.5 1571.1 455.9 1572.1 457.7 1573.1 458.4 1574.1 459.8 1575.1 461.2 1576.1 461.2 1577.1 463.5 1578.1 464.5 1579.1 466.7 1580.1 468.6 1581.1 469.3 1582.1 471.5 1583.1 472 1584.1 474.3 1585.1 475.4 1586.1 476.7 1587.1 476.8 1588.1 478.7 1589.1 479.8 1590.1 480.9 1591.1 481.2 1592.1 482.2 1593.1 482.7 1594.1 483.1 1595.1 484.9 1596.1 486.2 1597.1 486.7 1598.1 487.5 1599.1 489.2 1600.1 489.5 1601.1 490.3 1602.1 490.7 1603.1 490.3 1604.1 491 1605.1 491.7 1606.1 492 1607.1 492.7 1608.1 493.1 1609.1 494.2 1610.1 492.9 1611.1 493.7 1612.1 494.7 1613.1 493.6 1614.1 495 1615.1 495.3 1616.1 496.1 1617.1 496.9 1618.1 497.4 1619.1 497.1 1620.1 496.5 1621.1 495.8 1622.1 496 1623.1 496.4 1624.1 496.9 1625.1 498 1626.1 498 1627.1 497.1 1628.1 496.6 1629.1 497.8 1630.1 498 1631.1 497.8 1632.1 497.8 1633.1 497.2 1634.1 497.1 1635.1 496.3 1636.1 496 1637.1 495.6 1638.1 494.2 1639.1 493.8 1640.1 491.8 1641.1 492.2 1642.1 491.2 1643.1 491.9 1644.1 491.1 1645.1 488.9 1646.1 489.3 1647.1 488.5 1648.1 487.5 1649.1 486.6 1650.1 486.1 1651.1 485.6 1652.1 484.3 1653.1 483.5 1654.1 481.3 1655.1 480 1656.1 480.7 1657.1 479.5 1658.1 477.8 1659.1 478 1660.1 475.5 1661.1 475.8 1662.1 473.9 1663.1 473.3 1664.1 472.1 1665.1 470.5 1666.1 469.1 1667.1 467.5 1668.1 465.9 1669.1 464.9 1670.1 463 1671.1 463.3 1672.1 462.9 1673.1 461.7 1674.1 459.8 1675.1 458.9 1676.1 458.7 1677.1 456 1678.1 455.7 1679.1 454.3 1680.1 453.8 1681.1 452.5 1682.1 450.8 1683.1 450.9 1684.1 449.6 1685.1 447.4 1686.1 446 1687.1 446 1688.1 443.8 1689.1 442.2 1690.1 441.6 1691.1 440.7 1692.1 439.2 1693.1 436.8 1694.1 437 1695.1 434.9 1696.1 434.8 1697.1 433.8 1698.1 432.5 1699.1 430.3 1700.1 427.9 1701.1 427.5 1702.1 426.8 1703.1 424.2 1704.1 422.7 1705.1 420.5 1706.1 419.9 1707.1 418.5 1708.1 416.6 1709.1 414.6 1710.1 413.2 1711.1 410.8 1712.1 409.7 1713.1 409.3 1714.1 406.8 1715.1 405.5 1716.1 403.7 1717.1 401.3 1718.1 400.1 1719.1 397.3 1720.1 397.4 1721.1 397.2 1722.1 397.3 1723.1 397.2 1724.1 396.1 1725.1 396.3 1726.1 395.4 1727.1 395.1 1728.1 393.7 1729.1 392.6 1730.1 391.8 1731.1 390.9 1732.1 390.5 1733.1 388.9 1734.1 387.9 1735.1 385.7 1736.1 386 1737.1 384.9 1738.1 383.9 1739.1 382.5 1740.1 380.5 1741.1 379.1 1742.1 377.9 1743.1 376.5 1744.1 374.4 1745.1 373.1 1746.1 371.2 1747.1 369.3 1748.1 368.4 1749.1 367.2 1750.1 366 1751.1 364.1 1752.1 363 1753.1 362.4 1754.1 360.9 1755.1 359.4 1756.1 357.4 1757.1 356.6 1758.1 355.6 1759.1 353.5 1760.1 350.8 1761.1 350.9 1762.1 348.8 1763.1 346.6 1764.1 345.5 1765.1 344.3 1766.1 342.8 1767.1 342 1768.1 340.8 1769.1 339.7 1770.1 338.8 1771.1 337.5 1772.1 336.7 1773.1 335 1774.1 333.5 1775.1 331.3 1776.1 330.3 1777.1 329.6 1778.1 328.5 1779.1 327.9 1780.1 326.5 1781.1 324.2 1782.1 324.3 1783.1 324.8 1784.1 323.3 1785.1 322.2 1786.1 321.9 1787.1 321.4 1788.1 320.5 1789.1 320 1790.1 318.6 1791.1 318.7 1792.1 319.1 1793.1 319.2 1794.1 318.7 1795.1 317.9 1796.1 316.5 1797.1 315.3 1798.1 314.6 1799.1 314.1 1800.1 313.8 1801.1 314.1 1802.1 314 1803.1 314.1 1804.1 314.3 1805.1 313.9 1806.1 313.4 1807.1 313.5 1808.1 311.7 1809.1 308.4 1810.1 312 1811.1 312.7 1812.1 313.1 1813.1 312.6 1814.1 312.4 1815.1 312.6 1816.1 312.5 1817.1 312.7 1818.1 313.4 1819.1 313.8 1820.1 313.9 1821.1 312.7 1822.1 315 1823.1 315.6 1824.1 315.5 1825.1 316.5 1826.1 316.2 1827.1 317.3 1828.1 318.1 1829.1 318.4 1830.1 317.8 1831.1 318 1832.1 319.2 1833.1 320.7 1834.1 321.2 1835.1 322.1 1836.1 322.9 1837.1 324 1838.1 324.5 1839.1 326.3 1840.1 327.5 1841.1 327.9 1842.1 329.5 1843.1 330.9 1844.1 331.9 1845.1 332.6 1846.1 333.8 1847.1 334.2 1848.1 336.4 1849.1 336.4 1850.1 337.2 1851.1 338.4 1852.1 339.4 1853.1 340.7 1854.1 341.1 1855.1 342.5 1856.1 344 1857.1 344.2 1858.1 344.7 1859.1 345.5 1860.1 346.6 1861.1 347.8 1862.1 348.8 1863.1 350.7 1864.1 352.3 1865.1 353.4 1866.1 354.5 1867.1 355 1868.1 356.7 1869.1 357.8 1870.1 358 1871.1 360.4 1872.1 361.4 1873.1 363.8 1874.1 364.9 1875.1 365.9 1876.1 366.4 1877.1 368.5 1878.1 369.2 1879.1 371.4 1880.1 372.5 1881.1 374 1882.1 374.7 1883.1 377.1 1884.1 377.7 1885.1 379 1886.1 380.3 1887.1 382 1888.1 382.9 1889.1 384.6 1890.1 385.5 1891.1 387.7 1892.1 389.7 1893.1 391.5 1894.1 391.6 1895.1 392.7 1896.1 395 1897.1 396.5 1898.1 397.1 1899.1 398 1900.1 401 1901.1 401.2 1902.1 401.6 1903.1 403.7 1904.1 405.2 1905.1 406.1 1906.1 407.8 1907.1 409.7 1908.1 410.5 1908.1 419.2 1907.1 418.5 1906.1 417.5 1905.1 415.4 1904.1 413.7 1903.1 413.2 1902.1 411.8 1901.1 411 1900.1 409.4 1899.1 408.2 1898.1 406.9 1897.1 404.9 1896.1 403.6 1895.1 403.1 1894.1 401.4 1893.1 400.4 1892.1 399.9 1891.1 397.7 1890.1 396.5 1889.1 394.4 1888.1 392.3 1887.1 391 1886.1 389.6 1885.1 388.3 1884.1 388.1 1883.1 387.3 1882.1 384.4 1881.1 384.2 1880.1 382.3 1879.1 381.3 1878.1 379.3 1877.1 377.9 1876.1 375.5 1875.1 374.7 1874.1 373.6 1873.1 372.9 1872.1 370.3 1871.1 368.6 1870.1 367.4 1869.1 366.3 1868.1 364.9 1867.1 364.3 1866.1 363.5 1865.1 361.5 1864.1 360 1863.1 358.8 1862.1 358.9 1861.1 356.4 1860.1 354.8 1859.1 353.6 1858.1 352.8 1857.1 353.1 1856.1 352 1855.1 350.7 1854.1 350.2 1853.1 348.4 1852.1 347.8 1851.1 347.1 1850.1 345.9 1849.1 344.9 1848.1 344.4 1847.1 342.8 1846.1 341.8 1845.1 340.9 1844.1 339.3 1843.1 338.7 1842.1 338.4 1841.1 336.6 1840.1 335.1 1839.1 335.1 1838.1 333 1837.1 331.1 1836.1 329.8 1835.1 330 1834.1 328.9 1833.1 327.6 1832.1 326.7 1831.1 327.4 1830.1 327 1829.1 325.4 1828.1 324.4 1827.1 323.6 1826.1 322.9 1825.1 322.2 1824.1 322.3 1823.1 321.9 1822.1 321.5 1821.1 320.9 1820.1 320.1 1819.1 320.1 1818.1 319 1817.1 319.4 1816.1 319.5 1815.1 318.7 1814.1 317.9 1813.1 319 1812.1 319.1 1811.1 318.7 1810.1 319 1809.1 318.7 1808.1 320.3 1807.1 320.8 1806.1 320.4 1805.1 319.8 1804.1 320.8 1803.1 321.4 1802.1 320.8 1801.1 321.1 1800.1 320.6 1799.1 321.6 1798.1 321.4 1797.1 323.1 1796.1 323.2 1795.1 325.3 1794.1 324.7 1793.1 325.3 1792.1 325.5 1791.1 325.9 1790.1 326.1 1789.1 327.8 1788.1 328.9 1787.1 328.1 1786.1 330 1785.1 330.4 1784.1 331.5 1783.1 331.6 1782.1 332.1 1781.1 333.2 1780.1 335.2 1779.1 335.9 1778.1 335.9 1777.1 337.3 1776.1 339.1 1775.1 341.1 1774.1 343.1 1773.1 344 1772.1 344.8 1771.1 345.7 1770.1 347.5 1769.1 348.5 1768.1 349.7 1767.1 350.8 1766.1 352.1 1765.1 354.1 1764.1 355.1 1763.1 356.5 1762.1 358 1761.1 361.2 1760.1 362.7 1759.1 364 1758.1 365.9 1757.1 367.8 1756.1 367.6 1755.1 369.8 1754.1 370.2 1753.1 372 1752.1 372.9 1751.1 374.8 1750.1 375 1749.1 376.8 1748.1 378.6 1747.1 380 1746.1 381.2 1745.1 383.3 1744.1 385.9 1743.1 385.1 1742.1 387.7 1741.1 388.2 1740.1 390 1739.1 392.6 1738.1 392.1 1737.1 393 1736.1 395 1735.1 395.6 1734.1 396.9 1733.1 397.8 1732.1 399.3 1731.1 400.2 1730.1 400.7 1729.1 401.2 1728.1 402.1 1727.1 403.8 1726.1 404.5 1725.1 405.2 1724.1 406.5 1723.1 407.2 1722.1 407.4 1721.1 408.1 1720.1 408.7 1719.1 411.1 1718.1 412.6 1717.1 415.4 1716.1 417.4 1715.1 419.1 1714.1 420.3 1713.1 421.8 1712.1 423.3 1711.1 423.1 1710.1 426.5 1709.1 426.8 1708.1 428.2 1707.1 429 1706.1 431.9 1705.1 433.4 1704.1 434 1703.1 436 1702.1 437.3 1701.1 438.5 1700.1 439.1 1699.1 440.9 1698.1 441.6 1697.1 442.9 1696.1 444.6 1695.1 446.6 1694.1 447.7 1693.1 448 1692.1 449.4 1691.1 450.8 1690.1 452.3 1689.1 451.5 1688.1 453.5 1687.1 455.3 1686.1 456.4 1685.1 458.9 1684.1 460.8 1683.1 462.1 1682.1 462.4 1681.1 463.4 1680.1 464.6 1679.1 465.5 1678.1 466.2 1677.1 467.4 1676.1 468.8 1675.1 470 1674.1 470.6 1673.1 471.5 1672.1 472.6 1671.1 473.3 1670.1 474.6 1669.1 474.5 1668.1 476.1 1667.1 477.1 1666.1 477.9 1665.1 479.3 1664.1 479.7 1663.1 481 1662.1 482.5 1661.1 483 1660.1 484.4 1659.1 485.1 1658.1 486 1657.1 487.8 1656.1 487.8 1655.1 489.3 1654.1 490.4 1653.1 491.2 1652.1 492.4 1651.1 492.6 1650.1 493.3 1649.1 494.4 1648.1 494 1647.1 496.2 1646.1 496.3 1645.1 497.5 1644.1 498.5 1643.1 499.1 1642.1 500.3 1641.1 500.6 1640.1 500.8 1639.1 501.8 1638.1 503.2 1637.1 502.8 1636.1 503.8 1635.1 506 1634.1 505.1 1633.1 504.7 1632.1 506.7 1631.1 505.6 1630.1 505.4 1629.1 506.1 1628.1 506.4 1627.1 506.2 1626.1 506.8 1625.1 506.4 1624.1 506 1623.1 505.4 1622.1 504.6 1621.1 504.5 1620.1 505 1619.1 510.2 1618.1 507.1 1617.1 506.9 1616.1 510 1615.1 503.5 1614.1 503.8 1613.1 503.3 1612.1 504 1611.1 503.7 1610.1 504.4 1609.1 502.6 1608.1 502.3 1607.1 500.6 1606.1 499.4 1605.1 498.9 1604.1 498.5 1603.1 497.1 1602.1 497.3 1601.1 496.4 1600.1 496.8 1599.1 496.2 1598.1 495.4 1597.1 493.9 1596.1 493.2 1595.1 491.9 1594.1 491.6 1593.1 491.1 1592.1 489.7 1591.1 490.8 1590.1 489.7 1589.1 487.9 1588.1 486.6 1587.1 487.5 1586.1 485 1585.1 484.4 1584.1 483.5 1583.1 482.6 1582.1 481.6 1581.1 480.5 1580.1 478.4 1579.1 477.4 1578.1 476.4 1577.1 474.1 1576.1 473.2 1575.1 471.9 1574.1 469.1 1573.1 467.9 1572.1 467.8 1571.1 466.4 1570.1 465.1 1569.1 462.8 1568.1 462.3 1567.1 461.3 1566.1 459.2 1565.1 458.1 1564.1 456.6 1563.1 455.3 1562.1 453.8 1561.1 451.6 1560.1 449.8 1559.1 448.9 1558.1 447 1557.1 446.1 1556.1 445.5 1555.1 442.9 1554.1 441.5 1553.1 440.2 1552.1 438.2 1551.1 437.7 1550.1 436.5 1549.1 435 1548.1 434.8 1547.1 432.6 1546.1 431.8 1545.1 430.9 1544.1 429.7 1543.1 428.7 1542.1 427.2 1541.1 425.9 1540.1 424.8 1539.1 423.1 1538.1 422 1537.1 420.9 1536.1 420.1 1535.1 419 1534.1 417 1533.1 415.5 1532.1 414.3 1531.1 412.7 1530.1 412.1 1529.1 411.5 1528.1 410 1527.1 409 1526.1 408.7 1525.1 407.7 1524.1 404.8 1523.1 404 1522.1 402.2 1521.1 400.9 1520.1 398.9 1519.1 397.2 1518.1 396.9 1517.1 395.4 1516.1 394.8 1515.1 393.6 1514.1 392.5 1513.1 390.4 1512.1 389.8 1511.1 386.9 1510.1 386.1 1509.1 384.9 1508.1 382.7 1507.1 381.5 1506.1 380.1 1505.1 378.8 1504.1 377.3 1503.1 375.7 1502.1 375.1 1501.1 374.1 1500.1 372.4 1499.1 371.1 1498.1 369.9 1497.1 367.6 1496.1 366.8 1495.1 367 1494.1 365 1493.1 365 1492.1 362.8 1491.1 361 1490.1 359.8 1489.1 358.3 1488.1 357.3 1487.1 354.7 1486.1 353.8 1485.1 353.3 1484.1 352.1 1483.1 351.6 1482.1 350.8 1481.1 349 1480.1 348.6 1479.1 347.3 1478.1 344.7 1477.1 344.6 1476.1 343.1 1475.1 341.9 1474.1 341.2 1473.1 340.2 1472.1 338 1471.1 337.6 1470.1 336.4 1469.1 335.4 1468.1 335.2 1467.1 334 1466.1 332.9 1465.1 332.4 1464.1 330.8 1463.1 330.3 1462.1 328.8 1461.1 327.9 1460.1 326.5 1459.1 326.3 1458.1 325.6 1457.1 325.3 1456.1 325.3 1455.1 324.7 1454.1 323.7 1453.1 322.9 1452.1 322.3 1451.1 321.8 1450.1 322.2 1449.1 320.6 1448.1 320.9 1447.1 321.2 1446.1 319.2 1445.1 318.3 1444.1 318.5 1443.1 318.7 1442.1 317.9 1441.1 317.9 1440.1 317.6 1439.1 318.5 1438.1 318.8 1437.1 318.9 1436.1 319.3 1435.1 319.4 1434.1 319.5 1433.1 320.9 1432.1 320.4 1431.1 321.6 1430.1 320.8 1429.1 322 1428.1 320.7 1427.1 321.4 1426.1 321.6 1425.1 322.4 1424.1 324.3 1423.1 324.4 1422.1 324.1 1421.1 324.7 1420.1 325.4 1419.1 326.1 1418.1 326.2 1417.1 326.8 1416.1 327.7 1415.1 328.3 1414.1 329.5 1413.1 330.4 1412.1 330.5 1411.1 332.1 1410.1 332.3 1409.1 333 1408.1 334.5 1407.1 336.1 1406.1 338.2 1405.1 339.5 1404.1 339.8 1403.1 340.2 1402.1 341.3 1401.1 342.8 1400.1 344.1 1399.1 345.6 1398.1 346.9 1397.1 348.2 1396.1 349.9 1395.1 351.4 1394.1 351.7 1393.1 353.1 1392.1 354.6 1391.1 356.7 1390.1 357.9 1389.1 359.1 1388.1 360.7 1387.1 361.6 1386.1 362.8 1385.1 365.1 1384.1 366 1383.1 367.2 1382.1 370.4 1381.1 371.5 1380.1 372 1379.1 374.3 1378.1 375 1377.1 376.8 1376.1 379.7 1375.1 379.8 1374.1 382.2 1373.1 383.6 1372.1 384.9 1371.1 386.6 1370.1 388.3 1369.1 388.6 1368.1 389.9 1367.1 391.5 1366.1 391.6 1365.1 392.5 1364.1 394 1363.1 395.5 1362.1 397.1 1361.1 398.4 1360.1 398.8 1359.1 399.1 1358.1 400.2 1357.1 401.7 1356.1 402.8 1355.1 403.6 1354.1 404 1353.1 405.5 1352.1 404.9 1351.1 405.5 1350.1 405.8 1349.1 406.5 1348.1 408 1347.1 409.7 1346.1 412.3 1345.1 413.6 1344.1 415.8 1343.1 417.4 1342.1 419.3 1341.1 420.9 1340.1 421.2 1339.1 422.9 1338.1 423.4 1337.1 426.3 1336.1 427.6 1335.1 428.3 1334.1 429.6 1333.1 431.6 1332.1 432.6 1331.1 433.6 1330.1 435.4 1329.1 435.9 1328.1 438.5 1327.1 439.5 1326.1 440.5 1325.1 442.9 1324.1 443.7 1323.1 446 1322.1 446.8 1321.1 447.8 1320.1 449.4 1319.1 450.7 1318.1 451.9 1317.1 453.5 1316.1 455.1 1315.1 456 1314.1 457.6 1313.1 458.2 1312.1 459.4 1311.1 460.9 1310.1 461.5 1309.1 463.4 1308.1 464.4 1307.1 464.8 1306.1 466.4 1305.1 467.6 1304.1 467.8 1303.1 469.2 1302.1 470.7 1301.1 473.1 1300.1 474.4 1299.1 476.5 1298.1 478 1297.1 477.9 1296.1 476.9 1295.1 477.5 1294.1 480 1293.1 480.8 1292.1 480.8 1291.1 482.8 1290.1 484.7 1289.1 484.8 1288.1 484.6 1287.1 486.2 1286.1 485.8 1285.1 487.9 1284.1 488.7 1283.1 488.7 1282.1 489.9 1281.1 491 1280.1 492.2 1279.1 493.6 1278.1 493.6 1277.1 494 1276.1 494.7 1275.1 495.2 1274.1 496.2 1273.1 496.7 1272.1 497.7 1271.1 499.1 1270.1 500.3 1269.1 499.2 1268.1 499.6 1267.1 501 1266.1 502.1 1265.1 501.1 1264.1 502.7 1263.1 503.3 1262.1 503 1261.1 503.2 1260.1 503.5 1259.1 504.1 1258.1 504.2 1257.1 509.1 1256.1 505.9 1255.1 504.3 1254.1 505 1253.1 504.7 1252.1 509.3 1251.1 504.5 1250.1 504.2 1249.1 505.2 1248.1 505.5 1247.1 505.6 1246.1 505.4 1245.1 505.8 1244.1 504.1 1243.1 504 1242.1 506.1 1241.1 503.9 1240.1 504 1239.1 503.6 1238.1 502.6 1237.1 501.7 1236.1 501.3 1235.1 500 1234.1 499.8 1233.1 500 1232.1 500 1231.1 498.4 1230.1 498.9 1229.1 497 1228.1 496.7 1227.1 496.2 1226.1 495.6 1225.1 495.4 1224.1 493.8 1223.1 493.9 1222.1 492.9 1221.1 492.2 1220.1 491.3 1219.1 490.1 1218.1 489.1 1217.1 487.4 1216.1 487 1215.1 486.1 1214.1 484.2 1213.1 484.2 1212.1 482.9 1211.1 481.5 1210.1 481.6 1209.1 479.6 1208.1 478.6 1207.1 476.8 1206.1 475.4 1205.1 474.1 1204.1 472.8 1203.1 471.2 1202.1 468.7 1201.1 467.7 1200.1 466.7 1199.1 465.8 1198.1 464.6 1197.1 463.2 1196.1 463 1195.1 460.9 1194.1 458.9 1193.1 457.8 1192.1 456.1 1191.1 453.8 1190.1 452.8 1189.1 452.1 1188.1 451 1187.1 449.2 1186.1 447 1185.1 445.8 1184.1 444.5 1183.1 443.4 1182.1 442.2 1181.1 440.4 1180.1 439.7 1179.1 437.4 1178.1 435.9 1177.1 434.7 1176.1 433.8 1175.1 432.9 1174.1 431.5 1173.1 430.9 1172.1 429.6 1171.1 428.4 1170.1 427.1 1169.1 426.5 1168.1 424.7 1167.1 424.8 1166.1 424 1165.1 422.6 1164.1 420.3 1163.1 419.1 1162.1 417.8 1161.1 416.1 1160.1 414.7 1159.1 413.9 1158.1 412.7 1157.1 412.4 1156.1 410.7 1155.1 407.9 1154.1 407.6 1153.1 407 1152.1 404.9 1151.1 404.2 1150.1 402.1 1149.1 401.2 1148.1 400.2 1147.1 400.3 1146.1 398.9 1145.1 396.5 1144.1 394.9 1143.1 394.7 1142.1 392.7 1141.1 390.9 1140.1 389.9 1139.1 387.8 1138.1 386.1 1137.1 384.1 1136.1 382.1 1135.1 381.2 1134.1 379.3 1133.1 377.9 1132.1 376.6 1131.1 375.9 1130.1 375.3 1129.1 372.9 1128.1 372.1 1127.1 371.4 1126.1 369.7 1125.1 368.9 1124.1 366.3 1123.1 364.3 1122.1 364.2 1121.1 363 1120.1 360.9 1119.1 361.2 1118.1 359.3 1117.1 356.4 1116.1 355.6 1115.1 354.8 1114.1 353 1113.1 352.8 1112.1 352.6 1111.1 351.4 1110.1 350.5 1109.1 350.9 1108.1 347.8 1107.1 346.1 1106.1 345.8 1105.1 343.9 1104.1 342.5 1103.1 342.1 1102.1 341.1 1101.1 340 1100.1 338.7 1099.1 338.7 1098.1 336.6 1097.1 335.3 1096.1 333.8 1095.1 334.3 1094.1 332.6 1093.1 332.8 1092.1 331.4 1091.1 329.9 1090.1 328.7 1089.1 328.1 1088.1 326.7 1087.1 326.7 1086.1 326 1085.1 326.7 1084.1 325.6 1083.1 325 1082.1 324.2 1081.1 323 1080.1 323.4 1079.1 323.4 1078.1 322.8 1077.1 322.4 1076.1 321.2 1075.1 321.1 1074.1 320.6 1073.1 319 1072.1 320.4 1071.1 320.6 1070.1 318.7 1069.1 319.1 1068.1 319.3 1067.1 318.6 1066.1 319.6 1065.1 318.5 1064.1 319.5 1063.1 320.2 1062.1 321.6 1061.1 320.5 1060.1 321 1059.1 321.2 1058.1 322 1057.1 322.4 1056.1 321.7 1055.1 321.7 1054.1 322.5 1053.1 323.1 1052.1 323.8 1051.1 324.6 1050.1 325.4 1049.1 325.2 1048.1 325.6 1047.1 326.3 1046.1 326.4 1045.1 327.2 1044.1 327.8 1043.1 328.8 1042.1 329.2 1041.1 329.9 1040.1 331 1039.1 332.2 1038.1 333 1037.1 333.9 1036.1 334.4 1035.1 335.2 1034.1 335.9 1033.1 338.2 1032.1 339.8 1031.1 341.2 1030.1 340.5 1029.1 342.7 1028.1 343.1 1027.1 344 1026.1 345.8 1025.1 348 1024.1 349.2 1023.1 350 1022.1 351.4 1021.1 353.7 1020.1 354.9 1019.1 356.4 1018.1 357.3 1017.1 358.9 1016.1 360.1 1015.1 361.7 1014.1 364 1013.1 365.3 1012.1 366.8 1011.1 369.5 1010.1 370.8 1009.1 372.5 1008.1 372.6 1007.1 374.2 1006.1 375.7 1005.1 376.6 1004.1 378.2 1003.1 381 1002.1 381.5 1001.1 384 1000.1 385.8 999.1 386.2 998.1 388 997.1 388.3 996.1 389.7 995.1 390.7 994.1 392.2 993.1 393.5 992.1 394 991.1 395.4 990.1 396.4 989.1 399.3 988.1 399.1 987.1 399.5 986.1 400 985.1 400 984.1 400.6 983.1 401.3 982.1 402.9 981.1 403.2 980.1 405.3 979.1 406.6 978.1 406.8 977.1 407.7 976.1 408.9 975.1 409.5 974.1 412.5 973.1 414.6 972.1 416.8 971.1 418.2 970.1 420.9 969.1 421.6 968.1 424.7 967.1 425.5 966.1 425.6 965.1 426.9 964.1 427.1 963.1 428 962.1 429.3 961.1 431.4 960.1 432.5 959.1 433.7 958.1 435.5 957.1 436.5 956.1 437.6 955.1 439.5 954.1 440.3 953.1 442.6 952.1 445.1 951.1 445.8 950.1 445.8 949.1 447.1 948.1 449.7 947.1 450.5 946.1 451.1 945.1 452.9 944.1 454.1 943.1 455.7 942.1 456.4 941.1 458 940.1 458 939.1 460.3 938.1 460 937.1 461.2 936.1 462.7 935.1 464.3 934.1 465.6 933.1 466.6 932.1 469.7 931.1 469.9 930.1 470.9 929.1 472.2 928.1 472.4 927.1 473.4 926.1 474.5 925.1 475.2 924.1 476.2 923.1 478.2 922.1 479.5 921.1 479.5 920.1 479.4 919.1 481.3 918.1 482.2 917.1 482.2 916.1 483.1 915.1 485.2 914.1 486.5 913.1 487.1 912.1 488.5 911.1 489.6 910.1 490.5 909.1 490.5 908.1 491.3 907.1 492.6 906.1 493.4 905.1 493.7 904.1 495.5 903.1 496.1 902.1 496.9 901.1 497.4 900.1 498 899.1 499.3 898.1 498.8 897.1 499.6 896.1 500.3 895.1 501.3 894.1 501.7 893.1 502.7 892.1 503.3 891.1 503.6 890.1 504.7 889.1 503.7 888.1 503.3 887.1 503.4 886.1 504.6 885.1 506.1 884.1 504.8 883.1 505.1 882.1 505.3 881.1 505.3 880.1 507.8 879.1 505 878.1 506.2 877.1 505.6 876.1 504.8 875.1 503.7 874.1 504.4 873.1 504.7 872.1 504.1 871.1 504.1 870.1 504.2 869.1 504.1 868.1 504 867.1 502.8 866.1 501.9 865.1 501.4 864.1 501.1 863.1 500.5 862.1 501.1 861.1 500.5 860.1 500 859.1 499.6 858.1 499.2 857.1 498.4 856.1 498.4 855.1 496.5 854.1 496 853.1 495.4 852.1 495 851.1 493.4 850.1 493.5 849.1 493.1 848.1 492.4 847.1 491.1 846.1 491.4 845.1 489.7 844.1 489.2 843.1 488.3 842.1 486.3 841.1 485.3 840.1 483.7 839.1 482.4 838.1 481.3 837.1 479.5 836.1 478.4 835.1 477.7 834.1 475.2 833.1 473.8 832.1 472.2 831.1 471.7 830.1 469.6 829.1 467.5 828.1 467.1 827.1 465.3 826.1 465.1 825.1 463.3 824.1 461.2 823.1 459.9 822.1 459.6 821.1 457.9 820.1 457.4 819.1 456.6 818.1 454.3 817.1 452.1 816.1 450.1 815.1 448 814.1 446.7 813.1 446.4 812.1 444.8 811.1 443.3 810.1 441.6 809.1 440.8 808.1 440.1 807.1 438.8 806.1 436.2 805.1 434.9 804.1 434.7 803.1 432.9 802.1 431.7 801.1 430.4 800.1 428.6 799.1 427.4 798.1 427.4 797.1 425.9 796.1 425 795.1 423.9 794.1 422.4 793.1 421.9 792.1 420.3 791.1 418.4 790.1 418.3 789.1 417.4 788.1 416.3 787.1 414.4 786.1 412.7 785.1 411.4 784.1 410.2 783.1 408.6 782.1 407.3 781.1 405.9 780.1 406 779.1 404.1 778.1 402.7 777.1 400.7 776.1 400.3 775.1 398 774.1 396.5 773.1 395.3 772.1 393.7 771.1 392.7 770.1 391.7 769.1 388.8 768.1 387.3 767.1 385.9 766.1 384.4 765.1 384.1 764.1 383.1 763.1 381.5 762.1 379.7 761.1 377.6 760.1 376.6 759.1 375.7 758.1 374.6 757.1 372.9 756.1 371.5 755.1 371.2 754.1 369.8 753.1 368.2 752.1 367.4 751.1 366.7 750.1 365 749.1 363 748.1 362.3 747.1 361.4 746.1 360.8 745.1 358.5 744.1 358.6 743.1 356.6 742.1 355.7 741.1 354.5 740.1 352.2 739.1 350.6 738.1 349.7 737.1 348.4 736.1 347.5 735.1 347 734.1 345.6 733.1 345.1 732.1 344.4 731.1 343.5 730.1 343 729.1 341.4 728.1 340.7 727.1 338.7 726.1 337.7 725.1 337.7 724.1 336.3 723.1 335.1 722.1 334.4 721.1 332.9 720.1 332 719.1 331.8 718.1 331.1 717.1 330.1 716.1 328.5 715.1 327.2 714.1 326.6 713.1 325.8 712.1 324.6 711.1 323.9 710.1 323.2 709.1 323.2 708.1 323.1 707.1 323.1 706.1 322.4 705.1 321.6 704.1 321.6 703.1 320.3 702.1 318.9 701.1 318.4 700.1 318.6 699.1 318.3 698.1 318.1 697.1 318.2 696.1 318.1 695.1 317.1 694.1 317.6 693.1 318.6 692.1 319.2 691.1 320 690.1 321 689.1 321.6 688.1 321.9 687.1 321 686.1 323.2 685.1 322.6 684.1 321.9 683.1 323.2 682.1 324 681.1 323.9 680.1 325 679.1 324.9 678.1 325 677.1 325.4 676.1 326.6 675.1 326.7 674.1 326.7 673.1 327.2 672.1 328.4 671.1 329.4 670.1 329.3 669.1 331.1 668.1 331.2 667.1 332.6 666.1 332.4 665.1 334.5 664.1 335.1 663.1 335.5 662.1 337.1 661.1 338.6 660.1 339.7 659.1 340.9 658.1 341.4 657.1 342 656.1 343.1 655.1 344.9 654.1 346.7 653.1 348.4 652.1 349.1 651.1 349.7 650.1 351.4 649.1 352.1 648.1 354 647.1 355.6 646.1 357 645.1 359 644.1 360.1 643.1 361.5 642.1 363.8 641.1 366.1 640.1 366.8 639.1 369 638.1 371.2 637.1 371.6 636.1 372.2 635.1 373.2 634.1 375.1 633.1 375.8 632.1 378.6 631.1 380.2 630.1 381.6 629.1 383.6 628.1 385 627.1 387.5 626.1 388.4 625.1 390.1 624.1 390.6 623.1 391.9 622.1 392.4 621.1 394.4 620.1 395.8 619.1 397.2 618.1 398.1 617.1 399.6 616.1 400.5 615.1 401.1 614.1 401.9 613.1 402.9 612.1 404.9 611.1 405.4 610.1 404.8 609.1 404.3 608.1 405.5 607.1 405.9 606.1 407.1 605.1 408.2 604.1 409.1 603.1 411.4 602.1 413.1 601.1 415.2 600.1 415.6 599.1 417.5 598.1 418.7 597.1 419.4 596.1 420.1 595.1 421.8 594.1 423.4 593.1 425.8 592.1 426.9 591.1 427.5 590.1 429.8 589.1 430.3 588.1 432 587.1 433.6 586.1 434.9 585.1 435.9 584.1 437.5 583.1 439.2 582.1 440.1 581.1 442.5 580.1 443.3 579.1 444 578.1 445.6 577.1 447.1 576.1 448.4 575.1 449.3 574.1 450.3 573.1 451.3 572.1 453.5 571.1 454.4 570.1 456.5 569.1 458.6 568.1 459 567.1 459.6 566.1 460.4 565.1 462.2 564.1 462.9 563.1 464.5 562.1 465.8 561.1 466.8 560.1 467.1 559.1 468.7 558.1 469.9 557.1 471.7 556.1 473.6 555.1 474.4 554.1 476.1 553.1 476 552.1 475.9 551.1 476.3 550.1 477.8 549.1 478.4 548.1 479.5 547.1 481 546.1 481.6 545.1 481.9 544.1 482.4 543.1 483.5 542.1 484.8 541.1 485.2 540.1 487.7 539.1 488 538.1 489 537.1 490.2 536.1 492.1 535.1 492.6 534.1 493.6 533.1 494 532.1 495.7 531.1 496.6 530.1 496 529.1 496.7 528.1 498.4 527.1 498.4 526.1 498.8 525.1 499.1 524.1 499.8 523.1 501.1 522.1 501.3 521.1 502.1 520.1 501.7 519.1 502.1 518.1 502.9 517.1 503.4 516.1 504.7 515.1 505.7 514.1 505.6 513.1 504 512.1 504.2 511.1 505.6 510.1 506.2 509.1 505.8 508.1 505.5 507.1 505.1 506.1 505 505.1 504.1 504.1 509.1 503.1 504 502.1 504.7 501.1 504.4 500.1 504.2 499.1 503.5 498.1 503.5 497.1 502.6 496.1 503 495.1 503.7 494.1 502.4 493.1 500.1 492.1 501 491.1 499.6 490.1 499 489.1 499.7 488.1 500.5 487.1 498.1 486.1 497.7 485.1 498.1 484.1 497.7 483.1 496.1 482.1 496.1 481.1 495.2 480.1 494.2 479.1 493.3 478.1 493.6 477.1 491.6 476.1 491.4 475.1 490.5 474.1 490 473.1 488.2 472.1 488.2 471.1 487 470.1 486.2 469.1 485.1 468.1 483.9 467.1 482.4 466.1 481.3 465.1 479.9 464.1 478.1 463.1 476.6 462.1 475.2 461.1 474.7 460.1 473.1 459.1 471.5 458.1 470.1 457.1 469.7 456.1 468.6 455.1 466.1 454.1 465.5 453.1 464.3 452.1 463.7 451.1 462.5 450.1 460.5 449.1 459.2 448.1 458.4 447.1 454.6 446.1 454.3 445.1 453.7 444.1 451.2 443.1 449.9 442.1 448.5 441.1 446.9 440.1 446.2 439.1 445.2 438.1 443.4 437.1 442 436.1 440.6 435.1 441.2 434.1 439 433.1 438 432.1 437.6 431.1 435.1 430.1 433.4 429.1 432.9 428.1 430.1 427.1 429.4 426.1 427.6 425.1 426.2 424.1 425 423.1 424.5 422.1 422.9 421.1 421.6 420.1 420.9 419.1 420.8 418.1 420.1 417.1 418.7 416.1 415.7 415.1 414 414.1 412.6 413.1 410.7 412.1 410.6 411.1 408.9 410.1 407.5 409.1 407.2 408.1 406.3 407.1 404 406.1 403.6 405.1 402.7 404.1 401.3 403.1 399.7 402.1 398.9 401.1 397.4 400.1 395.6 399.1 395.5 398.1 393 397.1 392.3 396.1 390.6 395.1 389.7 394.1 386.7 393.1 386.5 392.1 383.8 391.1 380.9 390.1 380.6 389.1 378.4 388.1 376.6 387.1 375.4 386.1 374 385.1 373.8 384.1 371.6 383.1 370 382.1 368.8 381.1 368.1 380.1 364.8 379.1 364.4 378.1 363.2 377.1 362.5 376.1 361.2 375.1 361.9 374.1 360.1 373.1 358.3 372.1 357.1 371.1 355 370.1 354.6 369.1 353.1 368.1 352 367.1 350.9 366.1 350.3 365.1 350.7 364.1 350 363.1 347.5 362.1 345.9 361.1 344.6 360.1 343.7 359.1 342.9 358.1 343.1 357.1 341.7 356.1 340.6 355.1 338.2 354.1 338 353.1 336.3 352.1 334.9 351.1 334.3 350.1 334.2 349.1 334.3 348.1 332.4 347.1 331.2 346.1 331 345.1 330 344.1 328 343.1 327.3 342.1 326.4 341.1 325.6 340.1 325.8 339.1 323.8 338.1 322.3 337.1 322.2 336.1 321.6 335.1 322.5 334.1 321.2 333.1 321.3 332.1 320.8 331.1 320.5 330.1 319.9 329.1 320.3 328.1 320.1 327.1 320.1 326.1 320.8 325.1 320.1 324.1 318 323.1 318 322.1 317.8 321.1 317.5 320.1 318 319.1 318.5 318.1 318.6 317.1 319.5 316.1 319.5 315.1 320.3 314.1 320.8 313.1 320.6 312.1 321.4 311.1 321.6 310.1 322.8 309.1 322.9 308.1 322.3 307.1 323.4 306.1 325.1 305.1 325.7 304.1 325.7 303.1 326.4 302.1 327.2 301.1 327.4 300.1 327.6 299.1 327.5 298.1 328.6 297.1 329.4 296.1 331.9 295.1 332.3 294.1 334.1 293.1 333.9 292.1 334.7 291.1 335.6 290.1 337.5 289.1 337.9 288.1 339.6 287.1 341.4 286.1 342.6 285.1 344.3 284.1 345.1 283.1 346 282.1 347.4 281.1 348.2 280.1 349.1 279.1 351.2 278.1 353.8 277.1 354.3 276.1 356.6 275.1 357.5 274.1 356.9 273.1 357.6 272.1 360.2 271.1 362.1 270.1 362.4 269.1 364.4 268.1 365.7 267.1 367.6 266.1 369.1 265.1 371.3 264.1 372.4 263.1 374.5 262.1 376 261.1 378.5 260.1 378.9 259.1 380.5 258.1 380.7 257.1 381.5 256.1 384 255.1 384.6 254.1 386.2 253.1 387.3 252.1 390.3 251.1 390.5 250.1 391.6 249.1 393 248.1 394 247.1 394.9 246.1 396 245.1 398 244.1 399.2 243.1 399.1 242.1 399.7 241.1 400.1 240.1 400.8 239.1 401.5 238.1 402.4 237.1 403.3 236.1 404.5 235.1 406.3 234.1 407.8 233.1 408.2 232.1 408.6 231.1 408.6 230.1 410.7 229.1 412.3 228.1 414.3 227.1 415.9 226.1 418.1 225.1 419.6 224.1 420.4 223.1 423.1 222.1 424.1 221.1 424.2 220.1 425.7 219.1 428.2 218.1 429.2 217.1 430.8 216.1 432.5 215.1 433.9 214.1 435.6 213.1 438.2 212.1 439.5 211.1 441.1 210.1 442.8 209.1 443.3 208.1 444.5 207.1 446.2 206.1 446.8 205.1 447.9 204.1 449 203.1 450.1 202.1 451.3 201.1 452.1 200.1 454.1 199.1 455.1 198.1 457.3 197.1 458.7 196.1 459.5 195.1 460.7 194.1 462.2 193.1 464.9 192.1 465.7 191.1 465.9 190.1 466.5 189.1 466.8 188.1 468.7 187.1 469.3 186.1 469.6 185.1 470.6 184.1 472.4 183.1 473.1 182.1 474.6 181.1 476.1 180.1 476.1 179.1 477.4 178.1 478.4 177.1 478 176.1 479.1 175.1 480.5 174.1 481.2 173.1 482.3 172.1 483.1 171.1 483.7 170.1 485 169.1 486 168.1 486.9 167.1 488.3 166.1 489 165.1 489.7 164.1 490.7 163.1 492.5 162.1 493.5 161.1 493.6 160.1 494.3 159.1 495.9 158.1 496.5 157.1 496.8 156.1 498.3 155.1 499.5 154.1 498.2 153.1 499.5 152.1 499.8 151.1 500.7 150.1 501.5 149.1 502.7 148.1 502.6 147.1 503.8 146.1 503.6 145.1 504.2 144.1 504.5 143.1 505.3 142.1 504.7 141.1 505.3 140.1 505.7 139.1 505.6 138.1 505.4 137.1 506 136.1 506 135.1 505.2 134.1 509.1 133.1 506.8 132.1 505.5 131.1 505.2 130.1 505.6 129.1 505 128.1 504.3 127.1 503.9 126.1 504 125.1 510 124.1 503.3 123.1 502.8 122.1 503.6 121.1 503.2 120.1 501.7 119.1 500.6 118.1 500.7 117.1 500.4 116.1 499.1 115.1 499.3 114.1 498.6 113.1 498 112.1 496.9 111.1 498.1 110.1 496 109.1 496.7 108.1 494.2 107.1 494.2 106.1 492.4 105.1 492.5 104.1 491.8 103.1 490.6 102.1 490.3 101.1 488.9 100.1 488.5 99.1 487.1 98.1 486.7 97.1 484.5 96.1 483 95.1 482.2 94.1 481 93.1 480 92.1 477.9 91.1 477.6 90.1 475.8 89.1 474.2 88.1 473.1 87.1 472 86.1 470.4 85.1 469.6 84.1 468.3 83.1 468.4 82.1 466.6 81.1 463.7 80.1 462.1 79.1 461.1 78.1 459.1 77.1 457 76.1 455.9 75.1 455.9 74.1 455.3 73.1 453.4 72.1 452.4 71.1 450.6 70.1 449.5 69.1 447.3 68.1 445.7 67.1 444.1 66.1 443.2 65.1 440.5 64.1 439.8 63.1 439.3 62.1 437.5 61.1 437.1 60.1 436.2 59.1 434.1 58.1 433.1 57.1 431.4 56.1 429.9 55.1 429.7 54.1 429.1 53.1 427.7 52.1 426.3 51.1 425.1 50.1 423.8 49.1 423.4 48.1 421.4 47.1 419.7 46.1 419Z" fill="#d00006" clip-path="url(#plotclip)"/>
<rect x="46.1" y="679.2" width="1861" height="3" fill="#1c1c1c"/>
<path d="M52 853h2v9h-2zM65.8 848h2.5v18h-2.5zM129.2 833h2.2v21h-2.2zM140.1 838h2v12h-2zM201.4 838.7h2.2v20.7h-2.2zM241.3 851h2.4v10.4h-2.4zM329.2 849h2v8.6h-2zM388.9 846.5h2.4v25.8h-2.4zM400 853.7h2v9h-2zM425 844.7h2.4v24.5h-2.4zM439 848.5h2v14.2h-2zM518.6 837.7h2.6v14.7h-2.6zM533 840.8h2v9.2h-2zM603.7 829.2h2.6v32.2h-2.6zM631.9 850h2v11.4h-2zM750.6 853h2v9.7h-2zM786.3 844.7h2.8v36.9h-2.8zM859 845h2v11.3h-2zM899 838.7h2v11.3h-2zM905 838.7h2v16.3h-2zM945.9 838.7h2.4v14.3h-2.4zM986.5 851h2.2v21.3h-2.2zM1074.6 838.7h2.6v25.8h-2.6zM1134.4 850.6h2.6v12.9h-2.6zM1183.7 853.2h2v9.3h-2zM1241.9 840.8h2v16.8h-2zM1264.5 835.1h3.2v19.9h-3.2zM1301 838.7h2.4v30.5h-2.4zM1346.9 835.1h2.4v26.3h-2.4zM1383.8 846h2v12.9h-2zM1391.5 850h2v11.4h-2zM1417.3 845h2v8h-2zM1462 846.5h2v13.6h-2zM1496.8 852h2v10h-2zM1532.5 842.1h2.8v39.5h-2.8zM1579.9 845h2v18h-2zM1584.8 840.8h2.4v22.7h-2.4zM1592 846h2v15h-2zM1596.4 835.6h2.4v21.4h-2.4zM1599.8 840h2v23.5h-2zM1605 845h2v13h-2zM1641.7 842.9h2v7.1h-2zM1654.8 842.9h2v7.1h-2zM1684.4 844.6h2.2v7.9h-2.2zM1704.5 850h2v6.9h-2zM1751.5 841.2h3v23.5h-3zM1797.9 836.8h4.2v24.4h-4.2zM1845.6 851h2.4v12h-2.4zM1855.1 844.6h2.6v18.4h-2.6zM1889.2 857h2.4v7.7h-2.4z" fill="#3ed33e" opacity="0.92"/>
<path d="M47.1 857.6 48.1 857.6 49.1 858.2 50.1 856.7 51.1 857.8 52.1 857.4 53.1 857.7 54.1 857.7 55.1 857.8 56.1 858 57.1 858.4 58.1 856.4 59.1 856.8 60.1 858.4 61.1 857.6 62.1 857.8 63.1 858.3 64.1 857.5 65.1 857.4 66.1 858.3 67.1 858.3 68.1 857.7 69.1 857.8 70.1 857.8 71.1 857.2 72.1 856.8 73.1 855.7 74.1 855.6 75.1 855.3 76.1 855 77.1 854.8 78.1 854.2 79.1 854.7 80.1 853.7 81.1 853.3 82.1 853.2 83.1 852.7 84.1 853.2 85.1 853.5 86.1 853.1 87.1 853.2 88.1 852.4 89.1 852.1 90.1 851.5 91.1 850.7 92.1 850.4 93.1 851 94.1 850.3 95.1 851.2 96.1 851.2 97.1 850.2 98.1 849.8 99.1 849.9 100.1 849.3 101.1 849 102.1 848.4 103.1 848 104.1 848.3 105.1 848.3 106.1 848.5 107.1 847.5 108.1 847.4 109.1 847.7 110.1 847.7 111.1 847.4 112.1 847.4 113.1 846.7 114.1 846.2 115.1 846.2 116.1 846.7 117.1 846.5 118.1 846.7 119.1 846.8 120.1 847.2 121.1 846.9 122.1 846.9 123.1 846.4 124.1 845.6 125.1 845.9 126.1 845.3 127.1 845.4 128.1 845.7 129.1 845.8 130.1 845.6 131.1 845.1 132.1 844.8 133.1 845.4 134.1 845.5 135.1 845.6 136.1 845.5 137.1 844.9 138.1 845.5 139.1 845.4 140.1 844.8 141.1 844.1 142.1 845.3 143.1 845.6 144.1 844.6 145.1 843.4 146.1 843.9 147.1 843.9 148.1 844.2 149.1 843.2 150.1 844.1 151.1 844.8 152.1 845.1 153.1 845.3 154.1 845.7 155.1 845.8 156.1 845.5 157.1 845 158.1 845 159.1 845.5 160.1 844.8 161.1 844.9 162.1 845 163.1 844.7 164.1 845.2 165.1 845.6 166.1 845.1 167.1 845.5 168.1 845.4 169.1 844.5 170.1 845.1 171.1 845.9 172.1 846.1 173.1 846.1 174.1 846.7 175.1 846.4 176.1 846.5 177.1 845.8 178.1 846.3 179.1 846.1 180.1 846.1 181.1 846 182.1 846.2 183.1 846 184.1 845.4 185.1 846.7 186.1 846.1 187.1 846.8 188.1 846.9 189.1 847.1 190.1 847.3 191.1 846.7 192.1 847.2 193.1 847.1 194.1 847.6 195.1 847.5 196.1 847.6 197.1 847.7 198.1 847.7 199.1 848.5 200.1 848 201.1 849.2 202.1 849.1 203.1 849.6 204.1 849.5 205.1 849.6 206.1 849.8 207.1 849.9 208.1 850.2 209.1 849.6 210.1 850 211.1 849.8 212.1 849.9 213.1 850 214.1 850 215.1 850 216.1 849.4 217.1 849.9 218.1 850.2 219.1 850.3 220.1 850.6 221.1 851 222.1 851.1 223.1 851.3 224.1 850.7 225.1 851.5 226.1 851.3 227.1 851.4 228.1 851.3 229.1 851.9 230.1 852.2 231.1 851.6 232.1 851.5 233.1 851.2 234.1 851.6 235.1 852.1 236.1 852.5 237.1 852.5 238.1 852.8 239.1 852.4 240.1 851.8 241.1 852.4 242.1 851.8 243.1 852.2 244.1 852.9 245.1 851.9 246.1 852.4 247.1 852.7 248.1 851 249.1 850.4 250.1 851.2 251.1 852.2 252.1 852.7 253.1 853 254.1 852.6 255.1 853 256.1 851.9 257.1 852.4 258.1 852.4 259.1 852.6 260.1 853 261.1 852 262.1 852.4 263.1 852.4 264.1 851.2 265.1 850.4 266.1 852.3 267.1 852.4 268.1 852.7 269.1 852.4 270.1 851.8 271.1 851.4 272.1 851.2 273.1 851.7 274.1 851.6 275.1 851 276.1 851.1 277.1 851.3 278.1 851.1 279.1 851.6 280.1 850.4 281.1 850.3 282.1 850.3 283.1 850.8 284.1 850.3 285.1 850.9 286.1 850.4 287.1 850.2 288.1 850.6 289.1 849.2 290.1 846.2 291.1 850.1 292.1 848.8 293.1 849.8 294.1 847.7 295.1 849.9 296.1 849.4 297.1 849.1 298.1 848.5 299.1 849.1 300.1 848.8 301.1 848.5 302.1 848 303.1 849 304.1 848.4 305.1 848.8 306.1 848.5 307.1 849.7 308.1 848.8 309.1 848.7 310.1 849.1 311.1 848.8 312.1 849 313.1 848.9 314.1 848.4 315.1 848.7 316.1 847.7 317.1 847.3 318.1 848.2 319.1 849 320.1 849.2 321.1 848.9 322.1 848.8 323.1 848.9 324.1 848.8 325.1 849.3 326.1 849.5 327.1 848.7 328.1 849 329.1 849.3 330.1 849.7 331.1 850.6 332.1 850.9 333.1 850.7 334.1 849.4 335.1 850.7 336.1 848.4 337.1 851.2 338.1 851.2 339.1 851.4 340.1 849.6 341.1 851.5 342.1 851.3 343.1 850.1 344.1 852.2 345.1 851.6 346.1 851.9 347.1 851.3 348.1 851.3 349.1 851.3 350.1 851.8 351.1 851.8 352.1 852.2 353.1 852.2 354.1 852.3 355.1 852.2 356.1 851.8 357.1 851.1 358.1 852.4 359.1 852.9 360.1 852.9 361.1 852.8 362.1 853.3 363.1 853.2 364.1 853.7 365.1 853.9 366.1 853.6 367.1 853 368.1 853.8 369.1 853.9 370.1 853.7 371.1 854 372.1 853.5 373.1 854.1 374.1 854.8 375.1 854.7 376.1 855.1 377.1 855 378.1 855 379.1 854.7 380.1 855 381.1 854.7 382.1 855.3 383.1 855.2 384.1 854.6 385.1 855.6 386.1 856.1 387.1 856.2 388.1 855.4 389.1 856.1 390.1 855.1 391.1 856 392.1 856.3 393.1 856.6 394.1 857 395.1 857.7 396.1 857.9 397.1 858.5 398.1 858 399.1 857.8 400.1 857.5 401.1 856.7 402.1 856.9 403.1 857 404.1 856.8 405.1 856.4 406.1 858.2 407.1 857.5 408.1 857.8 409.1 856.9 410.1 856.9 411.1 856 412.1 857.8 413.1 856.4 414.1 857.2 415.1 855.6 416.1 857.9 417.1 857.3 418.1 857.5 419.1 858 420.1 858.1 421.1 855.4 422.1 857.5 423.1 857.5 424.1 857.1 425.1 857 426.1 856.9 427.1 857.4 428.1 855.2 429.1 853.6 430.1 855.7 431.1 854.9 432.1 853.4 433.1 854.6 434.1 853.8 435.1 854.3 436.1 855.1 437.1 855.3 438.1 854.8 439.1 854.6 440.1 854 441.1 854 442.1 853.9 443.1 854.2 444.1 854.7 445.1 853.9 446.1 854.2 447.1 853.5 448.1 853 449.1 852.7 450.1 852.4 451.1 851.2 452.1 852.6 453.1 850.9 454.1 851.6 455.1 851 456.1 851.5 457.1 851.7 458.1 851.1 459.1 850.8 460.1 850.4 461.1 850.3 462.1 849.6 463.1 850.2 464.1 850.1 465.1 848.8 466.1 848.6 467.1 848.2 468.1 848 469.1 848.5 470.1 847.8 471.1 848.2 472.1 846.9 473.1 846.2 474.1 847.3 475.1 847.2 476.1 846.8 477.1 846.5 478.1 847.5 479.1 847.5 480.1 847.1 481.1 846.4 482.1 846.5 483.1 847.2 484.1 846.5 485.1 846.7 486.1 846.6 487.1 846 488.1 846.7 489.1 845.9 490.1 845.7 491.1 846.2 492.1 845.6 493.1 845.7 494.1 845 495.1 845.1 496.1 843.7 497.1 843.5 498.1 844.2 499.1 844.3 500.1 844.3 501.1 844.4 502.1 844.1 503.1 844.6 504.1 843.6 505.1 844.3 506.1 843.8 507.1 844.6 508.1 844.2 509.1 844.1 510.1 844.3 511.1 843.5 512.1 843.6 513.1 842.9 514.1 844.8 515.1 844.5 516.1 842.9 517.1 844.3 518.1 844.7 519.1 845 520.1 843.2 521.1 844 522.1 845.2 523.1 845.1 524.1 845.3 525.1 845.2 526.1 844.7 527.1 845 528.1 845.2 529.1 845.3 530.1 845 531.1 843.7 532.1 845.1 533.1 844.9 534.1 843.8 535.1 845.1 536.1 844.6 537.1 844.9 538.1 845.3 539.1 845.9 540.1 844.9 541.1 845.6 542.1 845.7 543.1 845.5 544.1 845.6 545.1 846.2 546.1 844.8 547.1 845.8 548.1 846.4 549.1 845.4 550.1 846 551.1 846.7 552.1 846.1 553.1 845.4 554.1 847.4 555.1 847.3 556.1 847.6 557.1 845.9 558.1 846.5 559.1 845.8 560.1 847 561.1 846.5 562.1 845.6 563.1 847.9 564.1 844.7 565.1 846.6 566.1 847.2 567.1 846.8 568.1 848.1 569.1 848.4 570.1 848.1 571.1 848.7 572.1 849.1 573.1 849.8 574.1 849.3 575.1 849.8 576.1 848.9 577.1 850.2 578.1 849.9 579.1 849.1 580.1 849.9 581.1 849.6 582.1 850.6 583.1 850.1 584.1 850.2 585.1 851 586.1 850.4 587.1 850.9 588.1 851.2 589.1 851 590.1 850.7 591.1 851.6 592.1 851.4 593.1 851.1 594.1 851.8 595.1 852.4 596.1 852 597.1 851.4 598.1 852 599.1 852 600.1 851.6 601.1 851 602.1 852.3 603.1 851 604.1 852.1 605.1 850.8 606.1 850.7 607.1 852.5 608.1 852.4 609.1 850.6 610.1 852 611.1 851.2 612.1 851.8 613.1 852.6 614.1 852.9 615.1 851.2 616.1 852.7 617.1 852.8 618.1 849.2 619.1 851.8 620.1 852.4 621.1 851.9 622.1 850.5 623.1 852 624.1 852 625.1 852 626.1 851.3 627.1 850.2 628.1 849.7 629.1 852.2 630.1 852 631.1 852.3 632.1 851.7 633.1 851.2 634.1 851.9 635.1 851.7 636.1 850.8 637.1 852.1 638.1 848.7 639.1 851.4 640.1 851.3 641.1 850.7 642.1 850.5 643.1 850.5 644.1 850.5 645.1 851.1 646.1 850.2 647.1 850.1 648.1 848.3 649.1 849 650.1 848 651.1 849.4 652.1 850.1 653.1 850.6 654.1 850.3 655.1 850.9 656.1 850.7 657.1 849.7 658.1 850.1 659.1 850.3 660.1 849.8 661.1 849.6 662.1 849.2 663.1 849 664.1 849.4 665.1 849.2 666.1 849.6 667.1 849.3 668.1 849.1 669.1 849.2 670.1 849.3 671.1 849.3 672.1 849 673.1 849.4 674.1 849.1 675.1 849.4 676.1 849.5 677.1 849.4 678.1 849.9 679.1 849.9 680.1 849.7 681.1 848.8 682.1 849.3 683.1 848.8 684.1 848.9 685.1 849 686.1 849.8 687.1 849.1 688.1 848.8 689.1 847.1 690.1 849.8 691.1 849 692.1 848.5 693.1 848.1 694.1 849.8 695.1 848.9 696.1 850.4 697.1 850.1 698.1 850.8 699.1 847.8 700.1 851.1 701.1 850.6 702.1 851.2 703.1 851.5 704.1 851.6 705.1 851.1 706.1 850.2 707.1 850.3 708.1 850.5 709.1 851.6 710.1 851.2 711.1 850.8 712.1 851.9 713.1 849.2 714.1 851.1 715.1 851.8 716.1 850 717.1 850.5 718.1 851 719.1 852.1 720.1 851.8 721.1 851.2 722.1 851.9 723.1 851.5 724.1 852.2 725.1 851.6 726.1 851.5 727.1 853 728.1 852.3 729.1 852.5 730.1 853.5 731.1 852.8 732.1 852 733.1 853 734.1 852.1 735.1 852.7 736.1 853.6 737.1 853.7 738.1 851.6 739.1 850.1 740.1 853.5 741.1 851.6 742.1 850.7 743.1 853.4 744.1 853.5 745.1 854.3 746.1 854.5 747.1 855.1 748.1 854 749.1 853.7 750.1 854.2 751.1 855.2 752.1 852.9 753.1 854.3 754.1 856.2 755.1 856 756.1 854.8 757.1 855.2 758.1 856.5 759.1 855.7 760.1 856.5 761.1 857 762.1 857.3 763.1 854.4 764.1 854.6 765.1 856.8 766.1 854.8 767.1 856 768.1 855.5 769.1 856.6 770.1 855.6 771.1 857.1 772.1 855.5 773.1 857.9 774.1 858 775.1 858 776.1 856.7 777.1 857.3 778.1 857.5 779.1 857.6 780.1 858.4 781.1 857.7 782.1 857.6 783.1 858.7 784.1 858.4 785.1 858.6 786.1 858.6 787.1 858.8 788.1 858.9 789.1 857.5 790.1 858.1 791.1 858.2 792.1 857.6 793.1 858.4 794.1 858.5 795.1 858.5 796.1 858.4 797.1 857.7 798.1 858 799.1 857.8 800.1 857.1 801.1 856.8 802.1 857 803.1 856.9 804.1 856.8 805.1 857.1 806.1 856.6 807.1 856.8 808.1 856.5 809.1 856.2 810.1 856.3 811.1 856.1 812.1 856 813.1 855.1 814.1 856 815.1 855.4 816.1 854.6 817.1 854.6 818.1 854.6 819.1 854.2 820.1 853.6 821.1 854.1 822.1 853.9 823.1 853.6 824.1 854 825.1 853.2 826.1 853.3 827.1 852.6 828.1 853.5 829.1 853.2 830.1 853.1 831.1 851.9 832.1 852.2 833.1 851.6 834.1 851.5 835.1 851.4 836.1 851.8 837.1 851.6 838.1 851.3 839.1 851.5 840.1 851.5 841.1 849.9 842.1 850.3 843.1 850.1 844.1 850 845.1 849.9 846.1 849.5 847.1 849.4 848.1 848.9 849.1 848.3 850.1 848.5 851.1 848.1 852.1 848.4 853.1 847.4 854.1 847.2 855.1 847.1 856.1 846.7 857.1 847.1 858.1 846.5 859.1 846.6 860.1 846.3 861.1 845.7 862.1 846.1 863.1 846.2 864.1 845.4 865.1 845.9 866.1 845.6 867.1 845.3 868.1 845.3 869.1 844.8 870.1 844.3 871.1 844.7 872.1 844.2 873.1 844.7 874.1 844.8 875.1 844.5 876.1 844.1 877.1 844.1 878.1 844.3 879.1 844 880.1 843.9 881.1 843.7 882.1 843.9 883.1 843.6 884.1 844 885.1 844.4 886.1 844.1 887.1 844.5 888.1 844.5 889.1 843.6 890.1 843.7 891.1 844.5 892.1 844.7 893.1 844.6 894.1 844.7 895.1 844.8 896.1 844.5 897.1 844.6 898.1 845.3 899.1 844.3 900.1 844.9 901.1 845.2 902.1 844.5 903.1 843.4 904.1 844.4 905.1 845 906.1 845.6 907.1 846 908.1 845.8 909.1 846.1 910.1 845.1 911.1 845.6 912.1 845.6 913.1 845.4 914.1 844.3 915.1 844.7 916.1 845.3 917.1 845.7 918.1 845.4 919.1 846 920.1 846.1 921.1 846 922.1 846.3 923.1 846.8 924.1 847 925.1 846.6 926.1 847.2 927.1 847 928.1 847.1 929.1 847.7 930.1 847.8 931.1 848.1 932.1 848.5 933.1 848 934.1 847.9 935.1 847.4 936.1 848.2 937.1 848 938.1 848.1 939.1 848.7 940.1 848.9 941.1 848.9 942.1 848.7 943.1 849.2 944.1 848.9 945.1 850.1 946.1 849.7 947.1 849.7 948.1 850 949.1 849.6 950.1 850.3 951.1 850.4 952.1 850.9 953.1 850.6 954.1 850.8 955.1 850.4 956.1 850.5 957.1 851.5 958.1 851.9 959.1 852.1 960.1 851.7 961.1 851.2 962.1 851.7 963.1 851 964.1 851.4 965.1 851.6 966.1 851.6 967.1 851.9 968.1 852.5 969.1 852.4 970.1 852.5 971.1 852.2 972.1 850.2 973.1 851.4 974.1 851.3 975.1 852 976.1 852.5 977.1 852.6 978.1 852.5 979.1 852.1 980.1 852.6 981.1 852.6 982.1 852.2 983.1 852.7 984.1 852 985.1 851.8 986.1 852.2 987.1 853 988.1 853.3 989.1 853.4 990.1 853.6 991.1 852.3 992.1 852.3 993.1 852.2 994.1 852.1 995.1 852.3 996.1 852.4 997.1 852.4 998.1 852.8 999.1 852.9 1000.1 852.5 1001.1 851.8 1002.1 851.9 1003.1 851.8 1004.1 852.4 1005.1 852.8 1006.1 852.6 1007.1 852.7 1008.1 852.4 1009.1 852.7 1010.1 852.5 1011.1 852 1012.1 852.6 1013.1 852 1014.1 852.2 1015.1 852 1016.1 851.9 1017.1 852.1 1018.1 852 1019.1 851.7 1020.1 851.2 1021.1 851.7 1022.1 851.6 1023.1 850.9 1024.1 851.5 1025.1 851.5 1026.1 852.1 1027.1 852.1 1028.1 851.1 1029.1 851.4 1030.1 851 1031.1 851.7 1032.1 851.6 1033.1 852.2 1034.1 852.2 1035.1 851.5 1036.1 850.3 1037.1 850.5 1038.1 849.8 1039.1 850.3 1040.1 850.9 1041.1 850.7 1042.1 850.2 1043.1 850 1044.1 850.2 1045.1 850.1 1046.1 850 1047.1 849.9 1048.1 850.3 1049.1 850 1050.1 850.1 1051.1 850.7 1052.1 849.9 1053.1 849.2 1054.1 850.1 1055.1 849.4 1056.1 849.4 1057.1 849 1058.1 849.5 1059.1 848.9 1060.1 849.5 1061.1 849.3 1062.1 849.8 1063.1 849.7 1064.1 849.9 1065.1 849.9 1066.1 849.3 1067.1 849.4 1068.1 849.6 1069.1 849.5 1070.1 848.6 1071.1 850.3 1072.1 849.3 1073.1 849.9 1074.1 850.1 1075.1 850.3 1076.1 850.9 1077.1 850.7 1078.1 851.3 1079.1 850.6 1080.1 851.2 1081.1 850.7 1082.1 850.7 1083.1 850.5 1084.1 850.8 1085.1 850.3 1086.1 850.4 1087.1 850 1088.1 850.2 1089.1 850.2 1090.1 850.7 1091.1 849.7 1092.1 851.1 1093.1 850.1 1094.1 850.8 1095.1 850.8 1096.1 850.9 1097.1 850.8 1098.1 850.7 1099.1 851.7 1100.1 852.6 1101.1 852.1 1102.1 852.5 1103.1 852.4 1104.1 851.8 1105.1 852 1106.1 852.4 1107.1 853.3 1108.1 853.8 1109.1 852.9 1110.1 852.7 1111.1 853.9 1112.1 854.2 1113.1 853.4 1114.1 854.7 1115.1 854.3 1116.1 854.8 1117.1 855.4 1118.1 855.3 1119.1 855.2 1120.1 855.2 1121.1 855.6 1122.1 854.4 1123.1 855.3 1124.1 855.1 1125.1 853.9 1126.1 855.3 1127.1 853.8 1128.1 854.3 1129.1 854.7 1130.1 854.7 1131.1 855.7 1132.1 855.3 1133.1 855 1134.1 855.9 1135.1 856.3 1136.1 856.6 1137.1 856.8 1138.1 857.2 1139.1 857.4 1140.1 857.6 1141.1 857.6 1142.1 857.1 1143.1 857.7 1144.1 857.8 1145.1 857.4 1146.1 858.4 1147.1 858.1 1148.1 857.9 1149.1 856.9 1150.1 856.8 1151.1 857.3 1152.1 857.3 1153.1 857.9 1154.1 858.4 1155.1 858.3 1156.1 858.6 1157.1 858.2 1158.1 858.3 1159.1 859.1 1160.1 859.2 1161.1 858.3 1162.1 858.8 1163.1 859.1 1164.1 859.2 1165.1 859.7 1166.1 859.7 1167.1 858.9 1168.1 858.9 1169.1 858.7 1170.1 858.5 1171.1 858.6 1172.1 858.2 1173.1 857.9 1174.1 857.8 1175.1 857.8 1176.1 858.2 1177.1 858.6 1178.1 858.2 1179.1 857.7 1180.1 857.6 1181.1 856.5 1182.1 856.6 1183.1 856.9 1184.1 856.9 1185.1 855.6 1186.1 856.4 1187.1 856.2 1188.1 856.1 1189.1 855.6 1190.1 855.7 1191.1 855.8 1192.1 855.6 1193.1 854.8 1194.1 853.3 1195.1 852.7 1196.1 854.1 1197.1 853.7 1198.1 854.1 1199.1 853.3 1200.1 853.2 1201.1 853.4 1202.1 853 1203.1 852.2 1204.1 851.1 1205.1 850.9 1206.1 851.6 1207.1 850.8 1208.1 850.5 1209.1 851.8 1210.1 851.3 1211.1 851.5 1212.1 851.3 1213.1 851 1214.1 850.6 1215.1 849.9 1216.1 849.7 1217.1 849.8 1218.1 848.9 1219.1 848.1 1220.1 848.4 1221.1 848.9 1222.1 848.8 1223.1 848.3 1224.1 847.6 1225.1 848.8 1226.1 847.6 1227.1 847.8 1228.1 847.3 1229.1 847.7 1230.1 847 1231.1 846.7 1232.1 845.7 1233.1 845.8 1234.1 846.2 1235.1 845.1 1236.1 845 1237.1 845.7 1238.1 845.5 1239.1 845.8 1240.1 845.1 1241.1 845.5 1242.1 845.1 1243.1 844.7 1244.1 845.9 1245.1 845.7 1246.1 845.3 1247.1 845.5 1248.1 844.6 1249.1 844.9 1250.1 845.1 1251.1 844.8 1252.1 845.4 1253.1 845.3 1254.1 845.2 1255.1 845.2 1256.1 845.4 1257.1 844.3 1258.1 844.9 1259.1 844.9 1260.1 845.7 1261.1 845.1 1262.1 845.2 1263.1 844.7 1264.1 844.4 1265.1 843.7 1266.1 843.8 1267.1 844.7 1268.1 845 1269.1 845.2 1270.1 844.7 1271.1 842.7 1272.1 843.1 1273.1 845 1274.1 845 1275.1 845.5 1276.1 844.7 1277.1 845.6 1278.1 846 1279.1 845.6 1280.1 844.7 1281.1 844.9 1282.1 845.9 1283.1 845.8 1284.1 845.9 1285.1 845.8 1286.1 846.2 1287.1 846.3 1288.1 846.5 1289.1 846.1 1290.1 846 1291.1 846.2 1292.1 846.3 1293.1 846.2 1294.1 846.3 1295.1 846.5 1296.1 846.9 1297.1 846.7 1298.1 846.3 1299.1 846.8 1300.1 846.4 1301.1 846.7 1302.1 847.1 1303.1 847 1304.1 846.8 1305.1 846.9 1306.1 846.8 1307.1 847.6 1308.1 847.6 1309.1 848 1310.1 847.7 1311.1 847.9 1312.1 848.3 1313.1 847.2 1314.1 848 1315.1 848.3 1316.1 847.6 1317.1 848 1318.1 848.7 1319.1 848.2 1320.1 848.8 1321.1 848.3 1322.1 849 1323.1 849 1324.1 849.5 1325.1 850 1326.1 850.2 1327.1 850.5 1328.1 850.4 1329.1 851 1330.1 850 1331.1 848.3 1332.1 849.9 1333.1 849.3 1334.1 849.3 1335.1 849.2 1336.1 850.6 1337.1 849.6 1338.1 847.6 1339.1 850.3 1340.1 851 1341.1 849.2 1342.1 852.3 1343.1 849.8 1344.1 851.7 1345.1 851.7 1346.1 851.1 1347.1 850.2 1348.1 851.6 1349.1 850.5 1350.1 850 1351.1 852.2 1352.1 851 1353.1 851.9 1354.1 852 1355.1 852.2 1356.1 852 1357.1 851.4 1358.1 851.7 1359.1 852.5 1360.1 852.5 1361.1 852.4 1362.1 852.2 1363.1 852 1364.1 851.6 1365.1 851.6 1366.1 851.7 1367.1 851.6 1368.1 852 1369.1 852 1370.1 851.7 1371.1 851.8 1372.1 851.7 1373.1 851.8 1374.1 851.4 1375.1 852 1376.1 851.7 1377.1 851.4 1378.1 852.6 1379.1 852.5 1380.1 852 1381.1 852 1382.1 852.2 1383.1 852.2 1384.1 851.6 1385.1 851.4 1386.1 851.5 1387.1 851.2 1388.1 852 1389.1 852.1 1390.1 852.2 1391.1 852.4 1392.1 851.6 1393.1 851.7 1394.1 851.4 1395.1 850.6 1396.1 850.8 1397.1 850.6 1398.1 851 1399.1 850.5 1400.1 850.8 1401.1 851.3 1402.1 851 1403.1 850.7 1404.1 850 1405.1 849 1406.1 849.4 1407.1 848.8 1408.1 849.3 1409.1 849.9 1410.1 849.4 1411.1 849.9 1412.1 848.9 1413.1 849.7 1414.1 849.2 1415.1 848.2 1416.1 849.5 1417.1 848.3 1418.1 848.3 1419.1 848.8 1420.1 849.2 1421.1 848.9 1422.1 848.8 1423.1 848.5 1424.1 848.9 1425.1 848.8 1426.1 848.6 1427.1 848.6 1428.1 848.5 1429.1 848.4 1430.1 848.5 1431.1 848.7 1432.1 849.1 1433.1 849.2 1434.1 849.2 1435.1 850 1436.1 849.2 1437.1 849.4 1438.1 849.4 1439.1 849.5 1440.1 850.2 1441.1 849.7 1442.1 850.2 1443.1 849.5 1444.1 849 1445.1 849.6 1446.1 849.9 1447.1 850.2 1448.1 850.4 1449.1 850.3 1450.1 848.9 1451.1 850.4 1452.1 851.2 1453.1 850.8 1454.1 851.3 1455.1 851.2 1456.1 851.4 1457.1 850.5 1458.1 851.1 1459.1 851.4 1460.1 851.1 1461.1 851 1462.1 850.9 1463.1 851.2 1464.1 851.2 1465.1 852 1466.1 850.3 1467.1 852.1 1468.1 852.5 1469.1 850.5 1470.1 851.1 1471.1 850.7 1472.1 852.2 1473.1 850.9 1474.1 850.3 1475.1 852.2 1476.1 851.4 1477.1 852.9 1478.1 853.7 1479.1 853.8 1480.1 852.8 1481.1 853.4 1482.1 853.2 1483.1 852.9 1484.1 853.9 1485.1 852.4 1486.1 852 1487.1 852.4 1488.1 853.5 1489.1 853.8 1490.1 853.6 1491.1 854.9 1492.1 854.2 1493.1 855.3 1494.1 855.6 1495.1 855.4 1496.1 855.9 1497.1 855.9 1498.1 856.1 1499.1 855.9 1500.1 855.7 1501.1 856 1502.1 856.2 1503.1 856.1 1504.1 856.7 1505.1 857.5 1506.1 857.1 1507.1 857.5 1508.1 857.5 1509.1 857.3 1510.1 856.9 1511.1 856.8 1512.1 856.2 1513.1 857 1514.1 857.2 1515.1 857.5 1516.1 857.9 1517.1 857.4 1518.1 857.8 1519.1 857.9 1520.1 857.4 1521.1 857.6 1522.1 857.6 1523.1 858.1 1524.1 857.7 1525.1 858.3 1526.1 858 1527.1 858 1528.1 858.1 1529.1 857.4 1530.1 858.1 1531.1 857.8 1532.1 858.1 1533.1 858.4 1534.1 858 1535.1 857.8 1536.1 858.6 1537.1 858.6 1538.1 858.6 1539.1 858 1540.1 858.3 1541.1 858 1542.1 858.3 1543.1 858 1544.1 858.1 1545.1 858 1546.1 858.7 1547.1 858.2 1548.1 857 1549.1 857.4 1550.1 857.5 1551.1 856.9 1552.1 856.6 1553.1 856.7 1554.1 856.5 1555.1 856.3 1556.1 856.7 1557.1 856.7 1558.1 855.7 1559.1 856 1560.1 854.6 1561.1 854.9 1562.1 855.1 1563.1 854.4 1564.1 854.8 1565.1 854.4 1566.1 854 1567.1 854 1568.1 853.2 1569.1 852.9 1570.1 853.7 1571.1 853.2 1572.1 853.4 1573.1 853.2 1574.1 852.4 1575.1 853 1576.1 852.6 1577.1 851.7 1578.1 851.6 1579.1 851.5 1580.1 851.4 1581.1 850 1582.1 849.1 1583.1 850.1 1584.1 850.4 1585.1 849.4 1586.1 849.1 1587.1 849.4 1588.1 848.7 1589.1 849.3 1590.1 848.2 1591.1 849.4 1592.1 848.2 1593.1 849 1594.1 848.8 1595.1 848.1 1596.1 848.7 1597.1 848.2 1598.1 847.5 1599.1 847.9 1600.1 847.7 1601.1 847.2 1602.1 847.3 1603.1 846.8 1604.1 845.6 1605.1 846.6 1606.1 846.4 1607.1 846.5 1608.1 846.6 1609.1 846.4 1610.1 846.5 1611.1 846.1 1612.1 846.8 1613.1 846.4 1614.1 845.8 1615.1 846.6 1616.1 845.7 1617.1 845.7 1618.1 845.5 1619.1 845.2 1620.1 845.1 1621.1 845 1622.1 844.9 1623.1 845.1 1624.1 845 1625.1 844.9 1626.1 844.4 1627.1 844 1628.1 842.8 1629.1 843.5 1630.1 844.8 1631.1 845.1 1632.1 845.1 1633.1 845.5 1634.1 845 1635.1 844.7 1636.1 843.8 1637.1 845.1 1638.1 843.6 1639.1 844.6 1640.1 844.8 1641.1 843.6 1642.1 843.9 1643.1 841.6 1644.1 843.9 1645.1 844.8 1646.1 844.4 1647.1 845.3 1648.1 844.8 1649.1 845.2 1650.1 845.3 1651.1 845 1652.1 845.7 1653.1 845.6 1654.1 845.4 1655.1 846.2 1656.1 845.5 1657.1 844.7 1658.1 845.2 1659.1 845 1660.1 844.6 1661.1 844 1662.1 844.7 1663.1 844.7 1664.1 844.8 1665.1 845.8 1666.1 846.2 1667.1 845.1 1668.1 845.9 1669.1 845.8 1670.1 844 1671.1 845.1 1672.1 844.8 1673.1 845 1674.1 845.3 1675.1 846.4 1676.1 846.7 1677.1 847.2 1678.1 846.5 1679.1 845.9 1680.1 847 1681.1 847.1 1682.1 847.7 1683.1 846.4 1684.1 846.1 1685.1 846.5 1686.1 847.5 1687.1 847.6 1688.1 846.9 1689.1 849 1690.1 847.6 1691.1 847.3 1692.1 847.8 1693.1 849.2 1694.1 847.3 1695.1 848.4 1696.1 848.8 1697.1 850.1 1698.1 850.2 1699.1 850 1700.1 849.9 1701.1 850.5 1702.1 849.7 1703.1 848.9 1704.1 848.8 1705.1 850.1 1706.1 850.6 1707.1 850.9 1708.1 850.9 1709.1 850.3 1710.1 851.1 1711.1 850.3 1712.1 850.6 1713.1 850.6 1714.1 851.7 1715.1 852.2 1716.1 851.7 1717.1 852.5 1718.1 852.6 1719.1 852.6 1720.1 852.2 1721.1 851.9 1722.1 852.6 1723.1 852.9 1724.1 853.1 1725.1 852.9 1726.1 852.8 1727.1 852.2 1728.1 852.2 1729.1 852.5 1730.1 853.2 1731.1 852.8 1732.1 853.2 1733.1 853.5 1734.1 851.6 1735.1 851.3 1736.1 852.1 1737.1 852.5 1738.1 852.9 1739.1 852.9 1740.1 852.9 1741.1 853.2 1742.1 852.8 1743.1 853.1 1744.1 852.5 1745.1 852.5 1746.1 852.3 1747.1 852.5 1748.1 852.8 1749.1 852.2 1750.1 851.5 1751.1 851.5 1752.1 851.6 1753.1 852.2 1754.1 852.3 1755.1 852.2 1756.1 851.8 1757.1 851.9 1758.1 851.7 1759.1 851.5 1760.1 851.1 1761.1 850.9 1762.1 850.9 1763.1 850.6 1764.1 851.2 1765.1 851.1 1766.1 850.8 1767.1 850.3 1768.1 850.6 1769.1 850.9 1770.1 850.7 1771.1 850.2 1772.1 851.1 1773.1 849.6 1774.1 850.6 1775.1 849.4 1776.1 850.8 1777.1 850.8 1778.1 850.7 1779.1 849 1780.1 849.7 1781.1 850.5 1782.1 850.3 1783.1 850.3 1784.1 850.3 1785.1 848.3 1786.1 850.2 1787.1 850 1788.1 850.2 1789.1 849.7 1790.1 850.4 1791.1 850.2 1792.1 849.6 1793.1 848.8 1794.1 849.6 1795.1 848.8 1796.1 849.3 1797.1 848.6 1798.1 848.8 1799.1 849.4 1800.1 849.2 1801.1 849.3 1802.1 849 1803.1 849.3 1804.1 848.9 1805.1 849.2 1806.1 849.3 1807.1 849.7 1808.1 850.1 1809.1 850 1810.1 849.5 1811.1 849.9 1812.1 849.8 1813.1 849.7 1814.1 849.8 1815.1 850.1 1816.1 850.2 1817.1 849.9 1818.1 849.9 1819.1 849 1820.1 850.3 1821.1 850.1 1822.1 849.5 1823.1 849.7 1824.1 849.4 1825.1 850 1826.1 850.1 1827.1 850.4 1828.1 850.7 1829.1 850.6 1830.1 850.9 1831.1 851.3 1832.1 851.7 1833.1 851.5 1834.1 851.7 1835.1 851.1 1836.1 851.2 1837.1 851.5 1838.1 851.5 1839.1 852 1840.1 852 1841.1 852 1842.1 852.5 1843.1 851.9 1844.1 852.2 1845.1 852 1846.1 852.8 1847.1 853 1848.1 853 1849.1 853.3 1850.1 853.6 1851.1 853.1 1852.1 853.2 1853.1 853.2 1854.1 853.4 1855.1 853.5 1856.1 854.1 1857.1 854.2 1858.1 854.9 1859.1 855.2 1860.1 854.2 1861.1 854.7 1862.1 854.3 1863.1 854.4 1864.1 855.1 1865.1 854.8 1866.1 855.5 1867.1 853.8 1868.1 855.3 1869.1 855.4 1870.1 855.6 1871.1 856.5 1872.1 856.3 1873.1 855.4 1874.1 855.9 1875.1 856 1876.1 856 1877.1 855.3 1878.1 856.3 1879.1 856.1 1880.1 855.8 1881.1 857.3 1882.1 857.2 1883.1 856.5 1884.1 857.7 1885.1 857 1886.1 856.1 1887.1 857.8 1888.1 858.4 1889.1 858 1890.1 858.7 1891.1 858.3 1892.1 858.2 1893.1 858.6 1894.1 858 1895.1 858.9 1896.1 858.6 1897.1 858.6 1898.1 858.2 1899.1 858.4 1900.1 857.9 1901.1 857.7 1902.1 856.4 1903.1 856.6 1904.1 857.7 1905.1 858.4 1906.1 857 1907.1 858.2 1907.1 861.7 1906.1 861.7 1905.1 862.8 1904.1 861.3 1903.1 860.8 1902.1 860.5 1901.1 862 1900.1 861.6 1899.1 862.2 1898.1 862.2 1897.1 862.5 1896.1 862.1 1895.1 862.1 1894.1 862.6 1893.1 862.5 1892.1 862 1891.1 862.5 1890.1 861.7 1889.1 863 1888.1 862.1 1887.1 862.1 1886.1 861.8 1885.1 862.6 1884.1 861.8 1883.1 861.6 1882.1 862 1881.1 860.7 1880.1 860 1879.1 861 1878.1 860.8 1877.1 860.8 1876.1 859.7 1875.1 859.2 1874.1 859 1873.1 859.2 1872.1 859.9 1871.1 859.4 1870.1 861.3 1869.1 860.5 1868.1 859.3 1867.1 858.3 1866.1 858.2 1865.1 858.4 1864.1 859.4 1863.1 858.1 1862.1 859 1861.1 858.1 1860.1 858 1859.1 858.5 1858.1 858.1 1857.1 858 1856.1 857.3 1855.1 857.7 1854.1 857 1853.1 858.3 1852.1 856.8 1851.1 856.3 1850.1 858.2 1849.1 856.5 1848.1 856.9 1847.1 856.6 1846.1 856.2 1845.1 855.4 1844.1 855.9 1843.1 855.6 1842.1 855.5 1841.1 855.6 1840.1 855.4 1839.1 854.8 1838.1 855.6 1837.1 855.2 1836.1 854.3 1835.1 855.2 1834.1 854.6 1833.1 854.7 1832.1 855 1831.1 854.6 1830.1 853.9 1829.1 854.4 1828.1 853.9 1827.1 853.8 1826.1 853.8 1825.1 853.5 1824.1 852.7 1823.1 853.3 1822.1 853 1821.1 853.2 1820.1 853.2 1819.1 853.1 1818.1 852.8 1817.1 853.1 1816.1 853.2 1815.1 853.3 1814.1 853.7 1813.1 852.9 1812.1 853 1811.1 852.8 1810.1 853.1 1809.1 853.2 1808.1 853.4 1807.1 853.2 1806.1 853.9 1805.1 853 1804.1 852.5 1803.1 852.5 1802.1 852.9 1801.1 852.4 1800.1 852.1 1799.1 852.4 1798.1 852.2 1797.1 852.5 1796.1 853.1 1795.1 852.2 1794.1 852.9 1793.1 853.3 1792.1 852.8 1791.1 853.3 1790.1 853.7 1789.1 853.3 1788.1 853.9 1787.1 853.8 1786.1 853.1 1785.1 852.8 1784.1 853.2 1783.1 853.7 1782.1 853.6 1781.1 854.2 1780.1 854.1 1779.1 853.7 1778.1 853.6 1777.1 854.1 1776.1 854.2 1775.1 855.8 1774.1 854.4 1773.1 855.7 1772.1 856.6 1771.1 854.4 1770.1 854.2 1769.1 855 1768.1 854.7 1767.1 854.3 1766.1 854.8 1765.1 854.5 1764.1 854.4 1763.1 854.3 1762.1 854.3 1761.1 855.3 1760.1 855 1759.1 855.1 1758.1 855.4 1757.1 855.5 1756.1 855.4 1755.1 855.2 1754.1 856.1 1753.1 855.7 1752.1 854.9 1751.1 854.8 1750.1 855.1 1749.1 855.3 1748.1 856.3 1747.1 856.4 1746.1 855.9 1745.1 856.5 1744.1 855.7 1743.1 855.9 1742.1 856.3 1741.1 856.7 1740.1 856.6 1739.1 856.1 1738.1 856.2 1737.1 856.2 1736.1 855.4 1735.1 856.4 1734.1 855.8 1733.1 856.3 1732.1 858 1731.1 856.8 1730.1 856.1 1729.1 855.5 1728.1 857 1727.1 856.1 1726.1 855.9 1725.1 856.9 1724.1 856.3 1723.1 856.1 1722.1 855.6 1721.1 855.3 1720.1 855.4 1719.1 855.9 1718.1 856.5 1717.1 855.5 1716.1 856.1 1715.1 856.4 1714.1 854.6 1713.1 854.7 1712.1 854.1 1711.1 853.7 1710.1 854.5 1709.1 854.6 1708.1 854.8 1707.1 854.6 1706.1 853.9 1705.1 854.1 1704.1 853.7 1703.1 853.1 1702.1 853.1 1701.1 854.1 1700.1 854.2 1699.1 853.6 1698.1 854.1 1697.1 853.8 1696.1 854 1695.1 853.8 1694.1 853.6 1693.1 853.6 1692.1 852.8 1691.1 852.7 1690.1 853.5 1689.1 852.2 1688.1 852.5 1687.1 853.7 1686.1 852.5 1685.1 851.9 1684.1 851.5 1683.1 852.3 1682.1 853.8 1681.1 850.7 1680.1 851.4 1679.1 851.9 1678.1 853.3 1677.1 851.2 1676.1 851.1 1675.1 851.2 1674.1 851.3 1673.1 849.5 1672.1 849.4 1671.1 850.1 1670.1 849.1 1669.1 849.2 1668.1 849.5 1667.1 850.3 1666.1 849.5 1665.1 850.2 1664.1 848.9 1663.1 848.8 1662.1 847.9 1661.1 848.2 1660.1 848.9 1659.1 849.4 1658.1 849.3 1657.1 850.2 1656.1 848.5 1655.1 849.6 1654.1 849.4 1653.1 849 1652.1 848.6 1651.1 848.5 1650.1 848.2 1649.1 848.3 1648.1 848.3 1647.1 848.1 1646.1 847.8 1645.1 847.9 1644.1 847.9 1643.1 847.6 1642.1 847.7 1641.1 847.4 1640.1 848 1639.1 848.6 1638.1 848.1 1637.1 848.7 1636.1 847.8 1635.1 848 1634.1 848 1633.1 848.6 1632.1 849.4 1631.1 848.3 1630.1 847.9 1629.1 847.5 1628.1 847.3 1627.1 847.4 1626.1 847.9 1625.1 848.1 1624.1 848.4 1623.1 848.2 1622.1 848.4 1621.1 848.5 1620.1 848.6 1619.1 848.5 1618.1 848.7 1617.1 848.8 1616.1 848.6 1615.1 849.6 1614.1 850.1 1613.1 849.5 1612.1 849.9 1611.1 849.2 1610.1 849.9 1609.1 850.1 1608.1 849.4 1607.1 850.7 1606.1 849.4 1605.1 849.5 1604.1 850.1 1603.1 849.9 1602.1 850.4 1601.1 850.5 1600.1 851.1 1599.1 851 1598.1 851.2 1597.1 852.3 1596.1 851.7 1595.1 851.7 1594.1 852.1 1593.1 852.4 1592.1 852.9 1591.1 853.6 1590.1 852.4 1589.1 852.6 1588.1 852.5 1587.1 852.2 1586.1 853.6 1585.1 853.8 1584.1 854.1 1583.1 853.8 1582.1 854 1581.1 855.6 1580.1 854.3 1579.1 855.5 1578.1 854.8 1577.1 855.1 1576.1 855.6 1575.1 856.3 1574.1 856.4 1573.1 856.4 1572.1 856.5 1571.1 856.4 1570.1 856.6 1569.1 856.7 1568.1 856.7 1567.1 857.2 1566.1 856.8 1565.1 857.8 1564.1 857.8 1563.1 857.4 1562.1 858 1561.1 858 1560.1 858.5 1559.1 859.1 1558.1 859 1557.1 860.4 1556.1 859.6 1555.1 859.6 1554.1 859.6 1553.1 860.1 1552.1 860.1 1551.1 860.2 1550.1 860.7 1549.1 860.7 1548.1 861.2 1547.1 861.4 1546.1 862.4 1545.1 861.9 1544.1 861.5 1543.1 861.2 1542.1 861.2 1541.1 861.3 1540.1 861.4 1539.1 861.3 1538.1 861.5 1537.1 861.5 1536.1 862.2 1535.1 862.1 1534.1 861.7 1533.1 862.2 1532.1 861.6 1531.1 861.5 1530.1 861.5 1529.1 861.2 1528.1 861 1527.1 861.3 1526.1 861.7 1525.1 862 1524.1 861.4 1523.1 861.5 1522.1 861.4 1521.1 860.8 1520.1 860.8 1519.1 861 1518.1 861 1517.1 861.4 1516.1 861.6 1515.1 861.8 1514.1 860.5 1513.1 861.7 1512.1 860.7 1511.1 861.3 1510.1 862 1509.1 861.9 1508.1 862.4 1507.1 861.5 1506.1 862.3 1505.1 860.9 1504.1 860.9 1503.1 861 1502.1 859.4 1501.1 859.1 1500.1 859 1499.1 859.4 1498.1 859.7 1497.1 858.8 1496.1 859.5 1495.1 859 1494.1 858.9 1493.1 858.7 1492.1 858.7 1491.1 859.3 1490.1 857.8 1489.1 858.4 1488.1 857.8 1487.1 857.1 1486.1 857.5 1485.1 858.4 1484.1 857.4 1483.1 858.6 1482.1 858.7 1481.1 857.2 1480.1 857.1 1479.1 858.6 1478.1 857.5 1477.1 857.5 1476.1 858 1475.1 855.5 1474.1 856.1 1473.1 856.6 1472.1 856.5 1471.1 855.8 1470.1 855.8 1469.1 857.6 1468.1 857.5 1467.1 857.9 1466.1 855.6 1465.1 855.3 1464.1 854.8 1463.1 854.6 1462.1 854.2 1461.1 853.9 1460.1 854.7 1459.1 854.6 1458.1 854.3 1457.1 854.8 1456.1 854.6 1455.1 854.5 1454.1 855 1453.1 854.4 1452.1 854.4 1451.1 853.9 1450.1 853.2 1449.1 853.4 1448.1 853.2 1447.1 853.6 1446.1 853.5 1445.1 853.5 1444.1 852.8 1443.1 852.4 1442.1 853.4 1441.1 854.1 1440.1 853.3 1439.1 852.9 1438.1 853 1437.1 852.8 1436.1 853 1435.1 853.5 1434.1 852.7 1433.1 852.7 1432.1 852.1 1431.1 851.7 1430.1 851.9 1429.1 852.7 1428.1 851.9 1427.1 851.9 1426.1 852.3 1425.1 852.2 1424.1 851.9 1423.1 852 1422.1 852.2 1421.1 851.8 1420.1 852.7 1419.1 851.8 1418.1 851.8 1417.1 852.3 1416.1 852.6 1415.1 852.6 1414.1 853.6 1413.1 853.6 1412.1 852.3 1411.1 852.8 1410.1 852.6 1409.1 853.3 1408.1 854.1 1407.1 853.3 1406.1 853 1405.1 853.3 1404.1 854.1 1403.1 853.7 1402.1 854 1401.1 854.2 1400.1 854.2 1399.1 853.4 1398.1 853.8 1397.1 854.4 1396.1 853.9 1395.1 854.4 1394.1 854.4 1393.1 854.8 1392.1 855.2 1391.1 855.8 1390.1 855.6 1389.1 855.2 1388.1 855.1 1387.1 855.1 1386.1 855 1385.1 854.6 1384.1 855.2 1383.1 855.5 1382.1 855 1381.1 855.7 1380.1 855.6 1379.1 856.4 1378.1 856.2 1377.1 855.4 1376.1 854.8 1375.1 855 1374.1 854.8 1373.1 855.1 1372.1 854.9 1371.1 854.7 1370.1 855.1 1369.1 855 1368.1 855.6 1367.1 854.9 1366.1 855.1 1365.1 856.4 1364.1 855.1 1363.1 855.4 1362.1 855.5 1361.1 855.4 1360.1 855.5 1359.1 855.5 1358.1 855.8 1357.1 855.3 1356.1 855.3 1355.1 855.2 1354.1 855.6 1353.1 855.6 1352.1 856.3 1351.1 855.5 1350.1 855.1 1349.1 856.2 1348.1 858.1 1347.1 854.8 1346.1 856.7 1345.1 855.4 1344.1 855.1 1343.1 856.2 1342.1 856.2 1341.1 856.2 1340.1 854.9 1339.1 854.3 1338.1 853.3 1337.1 855.2 1336.1 854.2 1335.1 854.5 1334.1 853.5 1333.1 853 1332.1 853.2 1331.1 853.1 1330.1 853.3 1329.1 853.7 1328.1 853.7 1327.1 853.7 1326.1 853 1325.1 852.9 1324.1 852.8 1323.1 852.5 1322.1 852.2 1321.1 852.3 1320.1 852.2 1319.1 851.1 1318.1 851.8 1317.1 851.3 1316.1 851 1315.1 851.4 1314.1 851.1 1313.1 851.2 1312.1 851.5 1311.1 850.9 1310.1 851.4 1309.1 851.1 1308.1 850.9 1307.1 850.9 1306.1 850.4 1305.1 850.1 1304.1 849.9 1303.1 850.3 1302.1 850.2 1301.1 850.8 1300.1 850 1299.1 850.5 1298.1 850.3 1297.1 850 1296.1 849.7 1295.1 849.5 1294.1 849.9 1293.1 850.3 1292.1 849.3 1291.1 849.4 1290.1 849.4 1289.1 849.2 1288.1 849.6 1287.1 849.9 1286.1 849.7 1285.1 849.3 1284.1 849.8 1283.1 849.2 1282.1 849.4 1281.1 849.9 1280.1 848.7 1279.1 848.8 1278.1 849 1277.1 849.8 1276.1 848.9 1275.1 849.7 1274.1 849.5 1273.1 849.4 1272.1 849 1271.1 847.8 1270.1 848.1 1269.1 848 1268.1 848.7 1267.1 848.5 1266.1 848.5 1265.1 847.9 1264.1 847.9 1263.1 848 1262.1 848.9 1261.1 848.8 1260.1 848.7 1259.1 848.1 1258.1 848.3 1257.1 848.7 1256.1 848.5 1255.1 848.7 1254.1 848.5 1253.1 848.4 1252.1 848.8 1251.1 848.7 1250.1 848.6 1249.1 847.9 1248.1 848.1 1247.1 848.9 1246.1 848.5 1245.1 848.9 1244.1 848.7 1243.1 848.2 1242.1 848.5 1241.1 848.5 1240.1 848.5 1239.1 848.6 1238.1 848.4 1237.1 849 1236.1 848.5 1235.1 848.6 1234.1 849.5 1233.1 848.9 1232.1 849.5 1231.1 850.3 1230.1 850.5 1229.1 851.3 1228.1 851.3 1227.1 851.2 1226.1 851.2 1225.1 851.8 1224.1 851.9 1223.1 851.7 1222.1 852.1 1221.1 851.9 1220.1 851.7 1219.1 852 1218.1 852.1 1217.1 852.8 1216.1 853.4 1215.1 853.4 1214.1 854.3 1213.1 854.3 1212.1 854.8 1211.1 854.3 1210.1 855.5 1209.1 856.3 1208.1 855 1207.1 856.4 1206.1 856 1205.1 854.8 1204.1 854.8 1203.1 855.5 1202.1 855.9 1201.1 856.7 1200.1 857.6 1199.1 857.4 1198.1 856.9 1197.1 858 1196.1 857.2 1195.1 858.7 1194.1 857.7 1193.1 858.3 1192.1 858.6 1191.1 859 1190.1 858.6 1189.1 859 1188.1 859.4 1187.1 859.3 1186.1 859.6 1185.1 859.7 1184.1 860.3 1183.1 860.6 1182.1 860.5 1181.1 860.1 1180.1 860.8 1179.1 861.7 1178.1 862.2 1177.1 861.6 1176.1 861.2 1175.1 861 1174.1 861.3 1173.1 861 1172.1 861.7 1171.1 861.9 1170.1 861.2 1169.1 861.9 1168.1 862.5 1167.1 862.1 1166.1 862.9 1165.1 862.8 1164.1 862.2 1163.1 862.3 1162.1 863 1161.1 861.7 1160.1 863.4 1159.1 863.2 1158.1 862.1 1157.1 862 1156.1 862.4 1155.1 862 1154.1 862 1153.1 861.4 1152.1 861.1 1151.1 860.4 1150.1 860.6 1149.1 860.2 1148.1 860.8 1147.1 861.2 1146.1 861.7 1145.1 860.9 1144.1 860.9 1143.1 861.2 1142.1 861.1 1141.1 861 1140.1 861.3 1139.1 861 1138.1 860.8 1137.1 859.9 1136.1 859.8 1135.1 860.3 1134.1 859.2 1133.1 858.7 1132.1 859.1 1131.1 858.5 1130.1 858.2 1129.1 858.1 1128.1 858.7 1127.1 857.8 1126.1 858.1 1125.1 858.1 1124.1 858.3 1123.1 859.5 1122.1 859.2 1121.1 858.7 1120.1 859.1 1119.1 858.8 1118.1 858.5 1117.1 859.1 1116.1 858 1115.1 857.6 1114.1 857.7 1113.1 857.1 1112.1 857.1 1111.1 857.5 1110.1 856.9 1109.1 856.8 1108.1 856.8 1107.1 856.1 1106.1 855.7 1105.1 855.9 1104.1 855.5 1103.1 855.5 1102.1 855.9 1101.1 855.4 1100.1 856.5 1099.1 855.6 1098.1 855.1 1097.1 854.4 1096.1 854.5 1095.1 855 1094.1 854.1 1093.1 853.9 1092.1 854.2 1091.1 853.9 1090.1 853.7 1089.1 853.8 1088.1 853.9 1087.1 853.6 1086.1 853.5 1085.1 853.6 1084.1 853.7 1083.1 854 1082.1 854 1081.1 854 1080.1 854.2 1079.1 854.3 1078.1 854.2 1077.1 854.7 1076.1 854 1075.1 853.3 1074.1 853.2 1073.1 853.1 1072.1 853.2 1071.1 853.5 1070.1 853.2 1069.1 853.4 1068.1 852.8 1067.1 853 1066.1 852.5 1065.1 853.3 1064.1 853 1063.1 852.6 1062.1 852.9 1061.1 852.7 1060.1 852.5 1059.1 852.3 1058.1 852.4 1057.1 852.8 1056.1 852.6 1055.1 852.6 1054.1 853.1 1053.1 853.1 1052.1 853.3 1051.1 854.4 1050.1 853.4 1049.1 854.4 1048.1 853.2 1047.1 852.8 1046.1 853.2 1045.1 853.1 1044.1 853.3 1043.1 853.3 1042.1 853.7 1041.1 854.4 1040.1 854.9 1039.1 854 1038.1 854.1 1037.1 854.1 1036.1 854.2 1035.1 854.6 1034.1 855.3 1033.1 855.3 1032.1 854.8 1031.1 854.6 1030.1 854.3 1029.1 854.5 1028.1 854.9 1027.1 855.3 1026.1 855.4 1025.1 855 1024.1 855.1 1023.1 854.6 1022.1 854.7 1021.1 854.7 1020.1 855 1019.1 854.9 1018.1 855 1017.1 856.1 1016.1 856.8 1015.1 856 1014.1 856.5 1013.1 856.7 1012.1 855.8 1011.1 855.9 1010.1 857.6 1009.1 856.9 1008.1 856 1007.1 856.4 1006.1 856.6 1005.1 856.2 1004.1 855.8 1003.1 857.2 1002.1 856.1 1001.1 855.5 1000.1 856.2 999.1 856.1 998.1 855.7 997.1 855.4 996.1 855.6 995.1 855.3 994.1 855.8 993.1 856.1 992.1 856.3 991.1 856.5 990.1 856.6 989.1 856.8 988.1 856.5 987.1 856.4 986.1 856.5 985.1 855.3 984.1 855.2 983.1 856.3 982.1 855.6 981.1 856.6 980.1 856.1 979.1 855.3 978.1 855.7 977.1 856.1 976.1 855.8 975.1 855.2 974.1 855.9 973.1 855.7 972.1 854.9 971.1 856.1 970.1 855.7 969.1 856.3 968.1 855.9 967.1 856.9 966.1 855.4 965.1 855.8 964.1 855.9 963.1 854.6 962.1 854.9 961.1 855.1 960.1 854.8 959.1 854.9 958.1 854.8 957.1 854.4 956.1 854.5 955.1 853.8 954.1 853.6 953.1 854.4 952.1 853.9 951.1 853.7 950.1 853.3 949.1 852.9 948.1 853.5 947.1 853 946.1 853.7 945.1 853.5 944.1 852.5 943.1 852.3 942.1 852.7 941.1 852 940.1 851.9 939.1 851.6 938.1 851.9 937.1 851.4 936.1 851 935.1 851.2 934.1 851.2 933.1 851.3 932.1 851.2 931.1 851.5 930.1 851.3 929.1 850.8 928.1 850.7 927.1 851.3 926.1 850.7 925.1 850.6 924.1 850.1 923.1 849.9 922.1 849.2 921.1 849.3 920.1 848.8 919.1 849.2 918.1 849.2 917.1 848.6 916.1 848.3 915.1 848.7 914.1 848.2 913.1 848.3 912.1 848.7 911.1 849.4 910.1 848.8 909.1 849.1 908.1 849 907.1 848.9 906.1 848.9 905.1 848 904.1 847.8 903.1 847.9 902.1 847.9 901.1 848.3 900.1 848 899.1 848.7 898.1 848.4 897.1 848.2 896.1 847.7 895.1 848.5 894.1 847.9 893.1 848.3 892.1 848.3 891.1 847.7 890.1 847.1 889.1 847.5 888.1 847.9 887.1 847.6 886.1 847.9 885.1 847.5 884.1 847 883.1 847.5 882.1 847.2 881.1 847.1 880.1 847.2 879.1 847.9 878.1 847.3 877.1 847.1 876.1 847.1 875.1 847.5 874.1 848.4 873.1 848 872.1 847.5 871.1 848 870.1 847.5 869.1 847.6 868.1 848.5 867.1 848.6 866.1 849.1 865.1 849 864.1 849.5 863.1 849.3 862.1 849 861.1 849 860.1 849.6 859.1 849.8 858.1 849.6 857.1 850.2 856.1 850.7 855.1 850.4 854.1 850.7 853.1 851 852.1 851.6 851.1 852 850.1 851.8 849.1 852.9 848.1 852 847.1 853.3 846.1 853.7 845.1 853.8 844.1 853.6 843.1 853.7 842.1 854 841.1 854.1 840.1 854.4 839.1 855.3 838.1 855.7 837.1 855.1 836.1 855.6 835.1 855.1 834.1 855 833.1 855.1 832.1 855.6 831.1 855.9 830.1 856.2 829.1 856.7 828.1 857.2 827.1 858.3 826.1 857.3 825.1 857.4 824.1 857.7 823.1 857.1 822.1 857.7 821.1 858.2 820.1 857.5 819.1 857.8 818.1 857.8 817.1 857.8 816.1 858.3 815.1 858.5 814.1 858.8 813.1 859 812.1 860 811.1 859.1 810.1 859.8 809.1 859.4 808.1 860 807.1 860.2 806.1 860 805.1 859.9 804.1 860 803.1 860 802.1 860.8 801.1 860.3 800.1 860.1 799.1 860.9 798.1 861.4 797.1 861.7 796.1 861.5 795.1 861.3 794.1 861.6 793.1 861.6 792.1 861.4 791.1 861.4 790.1 861 789.1 862.5 788.1 861.9 787.1 861.9 786.1 862 785.1 862.8 784.1 862.2 783.1 862.1 782.1 862.2 781.1 862.1 780.1 862.2 779.1 861.9 778.1 861.4 777.1 860.3 776.1 861 775.1 861.5 774.1 861.8 773.1 861.7 772.1 860.7 771.1 861.2 770.1 861.4 769.1 860.8 768.1 861 767.1 862.8 766.1 860.8 765.1 860.4 764.1 860.8 763.1 860.8 762.1 861.5 761.1 860.6 760.1 860.9 759.1 860.2 758.1 859.7 757.1 861.6 756.1 860.3 755.1 859.5 754.1 859.1 753.1 859.1 752.1 860.1 751.1 860.3 750.1 862.1 749.1 858 748.1 858.5 747.1 858.1 746.1 859.8 745.1 860 744.1 857.8 743.1 860.1 742.1 859.5 741.1 859 740.1 858 739.1 859.4 738.1 858 737.1 858 736.1 857.7 735.1 857.7 734.1 856.4 733.1 857.6 732.1 856.8 731.1 859.4 730.1 857.6 729.1 856.3 728.1 856.9 727.1 856.2 726.1 856.3 725.1 855.9 724.1 855.6 723.1 857.1 722.1 856.2 721.1 855.8 720.1 857.8 719.1 855.8 718.1 856.3 717.1 855.5 716.1 855.2 715.1 855 714.1 855.3 713.1 857 712.1 855.8 711.1 855.4 710.1 855.3 709.1 855.3 708.1 854.9 707.1 855 706.1 854.9 705.1 854.2 704.1 855.8 703.1 855.3 702.1 855 701.1 855.9 700.1 854.2 699.1 857.2 698.1 855.1 697.1 854.7 696.1 856.3 695.1 854.8 694.1 854.5 693.1 854.1 692.1 854.3 691.1 854.8 690.1 854.6 689.1 853.8 688.1 853.6 687.1 853.5 686.1 853.1 685.1 853.2 684.1 852.3 683.1 852.5 682.1 852.5 681.1 852.8 680.1 852.9 679.1 852.9 678.1 852.9 677.1 852.6 676.1 852.4 675.1 852.3 674.1 852.1 673.1 852.5 672.1 852.5 671.1 852.4 670.1 852.2 669.1 852.5 668.1 852.6 667.1 852.5 666.1 852.5 665.1 852.3 664.1 852.9 663.1 852.6 662.1 852.6 661.1 852.8 660.1 853.1 659.1 853.6 658.1 853.7 657.1 853.5 656.1 853.8 655.1 853.8 654.1 853.9 653.1 853.7 652.1 853 651.1 852.9 650.1 852.6 649.1 853.2 648.1 854.5 647.1 853.9 646.1 854.9 645.1 854.4 644.1 854.6 643.1 856.2 642.1 853.8 641.1 854.7 640.1 854.7 639.1 855.3 638.1 856.4 637.1 856.9 636.1 856.2 635.1 856.8 634.1 858 633.1 855.2 632.1 855.5 631.1 855.8 630.1 855.4 629.1 856.8 628.1 855 627.1 854.8 626.1 856.4 625.1 856 624.1 857.2 623.1 858.1 622.1 855.9 621.1 855.4 620.1 856.4 619.1 856.7 618.1 856.5 617.1 858 616.1 858.4 615.1 856.4 614.1 856.8 613.1 856.7 612.1 857.7 611.1 855.9 610.1 856.8 609.1 856.8 608.1 856.2 607.1 855.6 606.1 856.6 605.1 855 604.1 856.7 603.1 855.6 602.1 855.2 601.1 855.7 600.1 855.5 599.1 855.9 598.1 855.6 597.1 855.4 596.1 855.5 595.1 855.7 594.1 855.8 593.1 855.6 592.1 854.5 591.1 855.2 590.1 855.2 589.1 855.1 588.1 855.9 587.1 854.8 586.1 854.9 585.1 855.7 584.1 854.7 583.1 854.4 582.1 854.3 581.1 853.1 580.1 853.4 579.1 853.4 578.1 853.2 577.1 853.6 576.1 853.6 575.1 854.2 574.1 853.6 573.1 853.7 572.1 853.1 571.1 852.6 570.1 853.4 569.1 851.5 568.1 852.3 567.1 851.5 566.1 850.8 565.1 850.6 564.1 850.8 563.1 851 562.1 852.1 561.1 851.1 560.1 850.3 559.1 850.7 558.1 850.7 557.1 850.9 556.1 850.4 555.1 852 554.1 850.6 553.1 850.3 552.1 850 551.1 849.9 550.1 849.1 549.1 849.6 548.1 849.8 547.1 849.8 546.1 849.9 545.1 849.2 544.1 849.5 543.1 849 542.1 849 541.1 848.9 540.1 849.1 539.1 849.5 538.1 850.1 537.1 849.5 536.1 849.6 535.1 848.4 534.1 848.3 533.1 848.7 532.1 848.9 531.1 848.5 530.1 848.5 529.1 849.4 528.1 848.8 527.1 848.8 526.1 848.8 525.1 848.4 524.1 848.5 523.1 848.5 522.1 848.7 521.1 847.8 520.1 847.7 519.1 848.2 518.1 848 517.1 848.2 516.1 847.9 515.1 848.1 514.1 847.9 513.1 848.2 512.1 847.9 511.1 848 510.1 847.7 509.1 847.2 508.1 847.3 507.1 848.3 506.1 847 505.1 847.4 504.1 848 503.1 848.4 502.1 848.2 501.1 847.8 500.1 847.7 499.1 849 498.1 847.3 497.1 848 496.1 848.4 495.1 848.9 494.1 849.4 493.1 850.7 492.1 850 491.1 849.1 490.1 850.3 489.1 849.5 488.1 850.7 487.1 849.9 486.1 849.7 485.1 849.9 484.1 850.6 483.1 850.1 482.1 850.5 481.1 850.4 480.1 851.2 479.1 851.4 478.1 852 477.1 850.7 476.1 851.2 475.1 850.5 474.1 851 473.1 852 472.1 851.7 471.1 851.8 470.1 851.5 469.1 851.8 468.1 851.4 467.1 851.7 466.1 852.1 465.1 852.5 464.1 853.3 463.1 853.8 462.1 853.6 461.1 853.8 460.1 853.6 459.1 854.1 458.1 854.4 457.1 854.9 456.1 855 455.1 855.8 454.1 854.7 453.1 855.1 452.1 855.3 451.1 855 450.1 855.9 449.1 856 448.1 856.3 447.1 857.1 446.1 857.2 445.1 857.6 444.1 857.5 443.1 857.1 442.1 857.4 441.1 857.8 440.1 857.3 439.1 858.4 438.1 858.9 437.1 859.1 436.1 859.3 435.1 858.8 434.1 858.9 433.1 858.7 432.1 858.4 431.1 861 430.1 859.3 429.1 860.5 428.1 861.4 427.1 860.7 426.1 861.5 425.1 860.8 424.1 862.7 423.1 861.4 422.1 861.8 421.1 861.5 420.1 861.2 419.1 861.9 418.1 860.9 417.1 860.8 416.1 861.4 415.1 862.2 414.1 861.4 413.1 863.3 412.1 861.9 411.1 861.8 410.1 862.6 409.1 863.6 408.1 863.4 407.1 862.1 406.1 863 405.1 860.7 404.1 860.9 403.1 860.7 402.1 860.7 401.1 860.9 400.1 861.2 399.1 860.9 398.1 861.4 397.1 862.3 396.1 861.2 395.1 861.3 394.1 860.6 393.1 859.7 392.1 859.3 391.1 859.4 390.1 859.1 389.1 859.6 388.1 859.3 387.1 859.2 386.1 859.2 385.1 859 384.1 858.5 383.1 859.1 382.1 858.3 381.1 858.7 380.1 858.2 379.1 858.4 378.1 857.8 377.1 858.2 376.1 858.5 375.1 858.1 374.1 857.6 373.1 858.5 372.1 856.9 371.1 857 370.1 857 369.1 857.4 368.1 857.3 367.1 857.3 366.1 856.9 365.1 856.9 364.1 857 363.1 857 362.1 856.5 361.1 856.3 360.1 855.9 359.1 855.8 358.1 855.4 357.1 855.2 356.1 855.4 355.1 855 354.1 855.3 353.1 855.5 352.1 855.7 351.1 855.3 350.1 855.1 349.1 854.5 348.1 854.2 347.1 855.1 346.1 855.3 345.1 856.4 344.1 855.7 343.1 856.3 342.1 855.6 341.1 855.6 340.1 854.1 339.1 854.3 338.1 854.6 337.1 855.2 336.1 854.2 335.1 854.3 334.1 854.6 333.1 854 332.1 854.7 331.1 854 330.1 853.1 329.1 852.8 328.1 852.5 327.1 852.5 326.1 852.5 325.1 852.9 324.1 852.1 323.1 853 322.1 852.7 321.1 852.8 320.1 853.2 319.1 855.3 318.1 853.7 317.1 852.4 316.1 851.8 315.1 851.6 314.1 852 313.1 851.8 312.1 852.6 311.1 852.1 310.1 852.5 309.1 852.2 308.1 852.4 307.1 853.3 306.1 852.7 305.1 852.9 304.1 854.1 303.1 852.5 302.1 852.8 301.1 854.5 300.1 853.2 299.1 853.5 298.1 853.1 297.1 853.1 296.1 854.3 295.1 854.2 294.1 854.1 293.1 854.2 292.1 853.4 291.1 855.3 290.1 855.7 289.1 854.8 288.1 853.8 287.1 854.2 286.1 854.5 285.1 855 284.1 854.7 283.1 855.1 282.1 855.4 281.1 854.8 280.1 854.5 279.1 855.5 278.1 855.3 277.1 855.3 276.1 855.1 275.1 854.8 274.1 855.2 273.1 855.8 272.1 854.8 271.1 854.8 270.1 855.5 269.1 856 268.1 855.6 267.1 855.7 266.1 855.6 265.1 855.9 264.1 855.7 263.1 856.4 262.1 855.6 261.1 855.8 260.1 856.7 259.1 855.9 258.1 856.3 257.1 855.5 256.1 856.3 255.1 855.8 254.1 856.7 253.1 856.2 252.1 855.6 251.1 856.2 250.1 855.2 249.1 856.4 248.1 858.2 247.1 855.9 246.1 855.7 245.1 855.8 244.1 856.1 243.1 855.1 242.1 855.4 241.1 855.5 240.1 855.5 239.1 856 238.1 856.3 237.1 855.3 236.1 855.7 235.1 855.4 234.1 854.8 233.1 854.8 232.1 855.3 231.1 856 230.1 855.3 229.1 855.4 228.1 854.7 227.1 855.1 226.1 855.4 225.1 854.9 224.1 854.4 223.1 854.2 222.1 854.8 221.1 854 220.1 854.7 219.1 853.9 218.1 854.1 217.1 853.2 216.1 853.6 215.1 853.1 214.1 853.3 213.1 853.8 212.1 853.2 211.1 853.2 210.1 853 209.1 852.9 208.1 854.1 207.1 852.8 206.1 853 205.1 852.6 204.1 852.9 203.1 852.9 202.1 852.3 201.1 852.8 200.1 851.9 199.1 851.2 198.1 851 197.1 850.9 196.1 850.9 195.1 850.7 194.1 851.1 193.1 850.6 192.1 850.7 191.1 850.1 190.1 850.7 189.1 850.5 188.1 850.2 187.1 849.9 186.1 849.4 185.1 850 184.1 849.1 183.1 849 182.1 849.6 181.1 849 180.1 849.6 179.1 849.6 178.1 849.6 177.1 850 176.1 849.5 175.1 849.5 174.1 849.8 173.1 849.7 172.1 849.2 171.1 849.5 170.1 848.9 169.1 849.6 168.1 849 167.1 848.5 166.1 848.6 165.1 849 164.1 848.6 163.1 847.8 162.1 848.5 161.1 848.4 160.1 848.2 159.1 848.4 158.1 848.2 157.1 848.6 156.1 848.4 155.1 849 154.1 848.6 153.1 848.6 152.1 848.5 151.1 848 150.1 848 149.1 848 148.1 849.1 147.1 848.6 146.1 848.8 145.1 849.1 144.1 848.8 143.1 849 142.1 848.5 141.1 848.5 140.1 848.7 139.1 848.6 138.1 848.9 137.1 849.7 136.1 850.3 135.1 849 134.1 848.7 133.1 849.4 132.1 848.1 131.1 848.5 130.1 848.9 129.1 848.8 128.1 849.5 127.1 848.8 126.1 849 125.1 849 124.1 849.3 123.1 849.6 122.1 850.2 121.1 849.9 120.1 850.1 119.1 850.5 118.1 850 117.1 850 116.1 850.1 115.1 849.5 114.1 849.5 113.1 849.7 112.1 850.7 111.1 850.6 110.1 850.9 109.1 850.6 108.1 850.6 107.1 851 106.1 851.4 105.1 851.5 104.1 851.4 103.1 851.7 102.1 852.4 101.1 852 100.1 853.5 99.1 853.3 98.1 853.9 97.1 853.8 96.1 854.2 95.1 854.5 94.1 854.1 93.1 854 92.1 853.8 91.1 853.9 90.1 854.4 89.1 855.3 88.1 855.8 87.1 856 86.1 856.8 85.1 856.7 84.1 856.6 83.1 856.7 82.1 856.6 81.1 857.2 80.1 857.2 79.1 857.5 78.1 858 77.1 858.8 76.1 858.8 75.1 858.3 74.1 858.4 73.1 858.7 72.1 860.5 71.1 860.9 70.1 860.9 69.1 862 68.1 861 67.1 861.4 66.1 862.4 65.1 861.4 64.1 861.2 63.1 861.2 62.1 861.9 61.1 861.5 60.1 861.4 59.1 861.8 58.1 861.3 57.1 861.6 56.1 861.6 55.1 862.5 54.1 861.2 53.1 861.8 52.1 862.2 51.1 860.9 50.1 862.7 49.1 861.4 48.1 861.1 47.1 861.2Z" fill="#14c314"/>
<rect x="47.1" y="914.9" width="1860" height="4.6" fill="#e577e5"/>
<path d="M50 915.6H108M157 915.6H184M423 915.6H472M532 915.6H562M814 915.6H857M899 915.6H928M1178 915.6H1224M1276 915.6H1302M1532 915.6H1582M1652 915.6H1687" stroke="#cc14cc" stroke-width="2.2" fill="none"/>
<rect x="47.1" y="1011.2" width="1860" height="2" fill="#dc9038"/>
<path d="M87 1011.6H167M433 1011.6H550M840 1011.6H908M1206 1011.6H1300M1575 1011.6H1662" stroke="#cf7e1c" stroke-width="3" fill="none"/>
<path d="M62 1011H86M168 1011H188M418 1011H432M551 1011H562M816 1011H839M909 1011H944M1180 1011H1205M1555 1011H1574M1663 1011H1685" stroke="#cf7e1c" stroke-width="2" stroke-dasharray="3 2" fill="none"/>
</g>
<path d="M25.4 389.6H34.8M30.1 389.6V405.6M25.4 405.6H33.2" stroke="#e08a24" stroke-width="1.8" fill="none"/>
<path d="M35.2 394.8L42.4 402.2L35.2 402.2Z" fill="#d87c10"/>
<path d="M27.2 1067.3H44.4" stroke="#dc1424" stroke-width="3.6" fill="none"/>
<path d="M34 1067V1076" stroke="#dc1424" stroke-width="2.2" fill="none"/>
<path d="M27.2 1076.2H39.4M29.6 1080.2H38.4M31.4 1084H37" stroke="#dc1424" stroke-width="2.2" fill="none" opacity="0.9"/>
<path d="M1908 1068.3L1913 1061.6H1922.8V1075.2H1913Z" fill="#e00008"/>
<path d="M1918.6 400.5Q1914.6 409 1918.6 417.2" stroke="#e02030" stroke-width="2.2" fill="none"/>
<rect x="1905.2" y="409.5" width="4" height="6.5" fill="#e8606a"/>
</g>
<rect x="207.9" y="600.1" width="252.7" height="63" rx="0.8" ry="0.8" fill="#fff" stroke="#ffc000" stroke-width="8.8" stroke-linejoin="round"/>
<text transform="translate(231.32 648.9) scale(0.9659 1)" font-family="'Liberation Serif','DejaVu Serif',serif" font-weight="bold" font-size="59">CH1:<tspan font-style="italic">U</tspan><tspan font-style="italic" font-size="38" dy="8" dx="-2">ac</tspan></text>
<rect x="617.1" y="600.1" width="211.1" height="63.5" rx="0.8" ry="0.8" fill="#fff" stroke="#c00000" stroke-width="8.8" stroke-linejoin="round"/>
<text transform="translate(631.62 649) scale(0.9655 1)" font-family="'Liberation Serif','DejaVu Serif',serif" font-weight="bold" font-size="59">CH7:<tspan font-style="italic">i</tspan><tspan font-style="italic" font-size="38" dy="8" dx="-2">ac</tspan></text>
<rect x="999.3" y="649.3" width="251.7" height="63.2" rx="0.8" ry="0.8" fill="#fff" stroke="#00b050" stroke-width="8.6" stroke-linejoin="round"/>
<text transform="translate(1022.85 698) scale(0.9555 1)" font-family="'Liberation Serif','DejaVu Serif',serif" font-weight="bold" font-size="59">CH3:<tspan font-style="italic">U</tspan><tspan font-style="italic" font-size="38" dy="8" dx="-2">dc</tspan></text>
<rect x="551.2" y="1167.4" width="253" height="63" rx="0.8" ry="0.8" fill="#fff" stroke="#ff0000" stroke-width="8.8" stroke-linejoin="round"/>
<text transform="translate(577.34 1215.5) scale(0.9589 1)" font-family="'Liberation Serif','DejaVu Serif',serif" font-weight="bold" font-size="59">CH4:<tspan font-style="italic">I</tspan><tspan font-style="italic" font-size="38" dy="8" dx="-2">bat</tspan></text>
<rect x="946.6" y="1167.4" width="252.6" height="63" rx="0.8" ry="0.8" fill="#fff" stroke="#7030a0" stroke-width="8.8" stroke-linejoin="round"/>
<text transform="translate(963.34 1215.5) scale(0.9583 1)" font-family="'Liberation Serif','DejaVu Serif',serif" font-weight="bold" font-size="59">CH3:<tspan font-style="italic">U</tspan><tspan font-style="italic" font-size="38" dy="8" dx="-2">bat</tspan></text>
<rect x="1631.8" y="591.9" width="252.9" height="80.1" rx="0.8" ry="0.8" fill="#fff" stroke="#000" stroke-width="8.5" stroke-linejoin="round"/>
<text transform="translate(1673.98 649.6) scale(0.9605 1)" font-family="'Liberation Serif','DejaVu Serif',serif" font-size="59" font-weight="bold" xml:space="preserve">Stage I</text>
<rect x="1631.8" y="1143.2" width="252.9" height="79.8" rx="0.8" ry="0.8" fill="#fff" stroke="#000" stroke-width="8.5" stroke-linejoin="round"/>
<text transform="translate(1663.5 1200.7) scale(0.9561 1)" font-family="'Liberation Serif','DejaVu Serif',serif" font-size="59" font-weight="bold" xml:space="preserve">Stage II</text>
<path d="M337.6 603L435.1 504.8M418 511.5L435.1 504.8L428.6 522" stroke="#ff0000" stroke-width="4.5" fill="none" stroke-linecap="round" stroke-linejoin="miter"/>
<path d="M757.1 601.7L694.2 350M691 368.1L694.2 350L705.5 364.5" stroke="#ff0000" stroke-width="4.5" fill="none" stroke-linecap="round" stroke-linejoin="miter"/>
<path d="M1130.4 651L989.8 204.9M987.7 223.2L989.8 204.9L1002 218.7" stroke="#ff0000" stroke-width="4.5" fill="none" stroke-linecap="round" stroke-linejoin="miter"/>
<path d="M1115.4 710L1105.7 836.8M1114.4 820.6L1105.7 836.8L1099.5 819.5" stroke="#ff0000" stroke-width="4.5" fill="none" stroke-linecap="round" stroke-linejoin="miter"/>
<path d="M681.4 1164.5L615.4 1022.8M615.7 1041.2L615.4 1022.8L629.3 1034.8" stroke="#ff0000" stroke-width="4.5" fill="none" stroke-linecap="round" stroke-linejoin="miter"/>
<path d="M1078.4 1169.7L999.2 929.7M997.4 948L999.2 929.7L1011.6 943.3" stroke="#ff0000" stroke-width="4.5" fill="none" stroke-linecap="round" stroke-linejoin="miter"/>
<rect x="35.5" y="1262" width="1879.5" height="85.2" rx="0.8" ry="0.8" fill="#fff" stroke="#c00000" stroke-width="8.9" stroke-linejoin="round"/>
<g style="filter:blur(0.55px)">
<text x="50.3" y="1301.6" font-family="'Liberation Mono','DejaVu Sans Mono',monospace" font-size="36.4" font-weight="normal" fill="#000" textLength="45" lengthAdjust="spacingAndGlyphs" stroke="#000" stroke-width="0.9" stroke-linejoin="round">Avg</text>
<text x="140.3" y="1301.6" font-family="'Liberation Mono','DejaVu Sans Mono',monospace" font-size="36.4" font-weight="normal" fill="#000" textLength="60" lengthAdjust="spacingAndGlyphs" stroke="#000" stroke-width="0.9" stroke-linejoin="round">:CH2</text>
<text x="305.3" y="1301.6" font-family="'Liberation Mono','DejaVu Sans Mono',monospace" font-size="36.4" font-weight="normal" fill="#000" textLength="120" lengthAdjust="spacingAndGlyphs" stroke="#000" stroke-width="0.9" stroke-linejoin="round">288.69 V</text>
<text x="515.3" y="1301.6" font-family="'Liberation Mono','DejaVu Sans Mono',monospace" font-size="36.4" font-weight="normal" fill="#000" textLength="45" lengthAdjust="spacingAndGlyphs" stroke="#000" stroke-width="0.9" stroke-linejoin="round">Avg</text>
<text x="605.3" y="1301.6" font-family="'Liberation Mono','DejaVu Sans Mono',monospace" font-size="36.4" font-weight="normal" fill="#000" textLength="60" lengthAdjust="spacingAndGlyphs" stroke="#000" stroke-width="0.9" stroke-linejoin="round">:CH3</text>
<text x="770.3" y="1301.6" font-family="'Liberation Mono','DejaVu Sans Mono',monospace" font-size="36.4" font-weight="normal" fill="#000" textLength="120" lengthAdjust="spacingAndGlyphs" stroke="#000" stroke-width="0.9" stroke-linejoin="round">403.21 V</text>
<text x="980.3" y="1301.6" font-family="'Liberation Mono','DejaVu Sans Mono',monospace" font-size="36.4" font-weight="normal" fill="#000" textLength="45" lengthAdjust="spacingAndGlyphs" stroke="#000" stroke-width="0.9" stroke-linejoin="round">Avg</text>
<text x="1070.3" y="1301.6" font-family="'Liberation Mono','DejaVu Sans Mono',monospace" font-size="36.4" font-weight="normal" fill="#000" textLength="60" lengthAdjust="spacingAndGlyphs" stroke="#000" stroke-width="0.9" stroke-linejoin="round">:CH4</text>
<text x="1235.3" y="1301.6" font-family="'Liberation Mono','DejaVu Sans Mono',monospace" font-size="36.4" font-weight="normal" fill="#000" textLength="120" lengthAdjust="spacingAndGlyphs" stroke="#000" stroke-width="0.9" stroke-linejoin="round">10.895 A</text>
<text x="1445.3" y="1301.6" font-family="'Liberation Mono','DejaVu Sans Mono',monospace" font-size="36.4" font-weight="normal" fill="#000" textLength="45" lengthAdjust="spacingAndGlyphs" stroke="#000" stroke-width="0.9" stroke-linejoin="round">RMS</text>
<text x="1535.3" y="1301.6" font-family="'Liberation Mono','DejaVu Sans Mono',monospace" font-size="36.4" font-weight="normal" fill="#000" textLength="60" lengthAdjust="spacingAndGlyphs" stroke="#000" stroke-width="0.9" stroke-linejoin="round">:CH1</text>
<text x="1700.3" y="1301.6" font-family="'Liberation Mono','DejaVu Sans Mono',monospace" font-size="36.4" font-weight="normal" fill="#000" textLength="120" lengthAdjust="spacingAndGlyphs" stroke="#000" stroke-width="0.9" stroke-linejoin="round">223.68 V</text>
<text x="50.3" y="1338.6" font-family="'Liberation Mono','DejaVu Sans Mono',monospace" font-size="36.4" font-weight="normal" fill="#000" textLength="45" lengthAdjust="spacingAndGlyphs" stroke="#000" stroke-width="0.9" stroke-linejoin="round">RMS</text>
<text x="140.3" y="1338.6" font-family="'Liberation Mono','DejaVu Sans Mono',monospace" font-size="36.4" font-weight="normal" fill="#000" textLength="60" lengthAdjust="spacingAndGlyphs" stroke="#000" stroke-width="0.9" stroke-linejoin="round">:CH7</text>
<text x="305.3" y="1338.6" font-family="'Liberation Mono','DejaVu Sans Mono',monospace" font-size="36.4" font-weight="normal" fill="#000" textLength="120" lengthAdjust="spacingAndGlyphs" stroke="#000" stroke-width="0.9" stroke-linejoin="round">24.215 A</text>
<text x="515.3" y="1338.6" font-family="'Liberation Mono','DejaVu Sans Mono',monospace" font-size="36.4" font-weight="normal" fill="#000" textLength="60" lengthAdjust="spacingAndGlyphs" stroke="#000" stroke-width="0.9" stroke-linejoin="round">Freq</text>
<text x="605.3" y="1338.6" font-family="'Liberation Mono','DejaVu Sans Mono',monospace" font-size="36.4" font-weight="normal" fill="#000" textLength="60" lengthAdjust="spacingAndGlyphs" stroke="#000" stroke-width="0.9" stroke-linejoin="round">:CH1</text>
<text x="770.3" y="1338.6" font-family="'Liberation Mono','DejaVu Sans Mono',monospace" font-size="36.4" font-weight="normal" fill="#000" textLength="150" lengthAdjust="spacingAndGlyphs" stroke="#000" stroke-width="0.9" stroke-linejoin="round">49.99532Hz</text>
<text x="39.8" y="1387.4" font-family="'Liberation Mono','DejaVu Sans Mono',monospace" font-size="37" font-weight="normal" fill="#000" textLength="105" lengthAdjust="spacingAndGlyphs" stroke="#000" stroke-width="0.9" stroke-linejoin="round">Stopped</text>
<text x="337.6" y="1387.4" font-family="'Liberation Mono','DejaVu Sans Mono',monospace" font-size="37" font-weight="normal" fill="#000" textLength="45" lengthAdjust="spacingAndGlyphs" stroke="#000" stroke-width="0.9" stroke-linejoin="round">225</text>
<text x="337.6" y="1424.8" font-family="'Liberation Mono','DejaVu Sans Mono',monospace" font-size="37" font-weight="normal" fill="#000" textLength="386.4" lengthAdjust="spacingAndGlyphs" stroke="#000" stroke-width="0.9" stroke-linejoin="round">2017/11/12 18:15:43.610531</text>
<text x="858.5" y="1387.4" font-family="'Liberation Mono','DejaVu Sans Mono',monospace" font-size="37" font-weight="normal" fill="#000" textLength="60" lengthAdjust="spacingAndGlyphs" stroke="#000" stroke-width="0.9" stroke-linejoin="round">Edge</text>
<text x="858.5" y="1424.8" font-family="'Liberation Mono','DejaVu Sans Mono',monospace" font-size="37" font-weight="normal" fill="#000" textLength="60" lengthAdjust="spacingAndGlyphs" stroke="#000" stroke-width="0.9" stroke-linejoin="round">Auto</text>
<text x="1007.8" y="1383.6" font-family="'Liberation Mono','DejaVu Sans Mono',monospace" font-size="36.4" font-weight="normal" fill="#000" textLength="45" lengthAdjust="spacingAndGlyphs" stroke="#000" stroke-width="0.9" stroke-linejoin="round">CH1</text>
<text x="1007.8" y="1424.8" font-family="'Liberation Mono','DejaVu Sans Mono',monospace" font-size="37" font-weight="normal" fill="#000" textLength="120" lengthAdjust="spacingAndGlyphs" stroke="#000" stroke-width="0.9" stroke-linejoin="round">0.0000 V</text>
<path d="M1070.8 1383.6H1083.6L1087 1361.4H1098.8M1077 1373.4H1091" stroke="#111" stroke-width="3.2" fill="none" stroke-linejoin="miter"/>
<path d="M1624.4 1380.8H1631L1639.4 1363.3H1656.8L1651.6 1380.8H1659V1389.6H1624.4Z" fill="#111"/>
<rect x="1630" y="1383.4" width="22.4" height="2.8" fill="#fff"/>
<text x="1662" y="1387.4" font-family="'Liberation Mono','DejaVu Sans Mono',monospace" font-size="37" font-weight="normal" fill="#000" textLength="73" lengthAdjust="spacingAndGlyphs" stroke="#000" stroke-width="0.9" stroke-linejoin="round">:File</text>
<text x="1621.8" y="1425" font-family="'Liberation Mono','DejaVu Sans Mono',monospace" font-size="37" font-weight="normal" fill="#000" textLength="284.6" lengthAdjust="spacingAndGlyphs" stroke="#000" stroke-width="0.9" stroke-linejoin="round">2017/11/12 18:15:43</text>
</g>
<path d="M945.9 1359.5H980.8V1385H997.4L963.5 1442.4L929.6 1385H945.9Z" fill="#fff" stroke="#000" stroke-width="9" stroke-linejoin="round"/>
<rect x="35.7" y="1458" width="1879" height="182.5" rx="0.8" ry="0.8" fill="#fff" stroke="#c00000" stroke-width="9.4" stroke-linejoin="round"/>
<text transform="translate(80.05 1526.7) scale(0.9913 1)" font-family="'Liberation Serif','DejaVu Serif',serif" font-size="56" font-weight="bold" xml:space="preserve">RMS: CH1  223.68V</text>
<text transform="translate(80.06 1616.7) scale(0.9874 1)" font-family="'Liberation Serif','DejaVu Serif',serif" font-size="56" font-weight="bold" xml:space="preserve">RMS: CH7  24.215A</text>
<text transform="translate(738.16 1526.7) scale(0.9903 1)" font-family="'Liberation Serif','DejaVu Serif',serif" font-size="56" font-weight="bold" xml:space="preserve">Avg: CH2 288.69V</text>
<text transform="translate(736.16 1616.7) scale(0.9905 1)" font-family="'Liberation Serif','DejaVu Serif',serif" font-size="56" font-weight="bold" xml:space="preserve">Avg: CH4 10.895A</text>
<text transform="translate(1423.16 1526.7) scale(0.9910 1)" font-family="'Liberation Serif','DejaVu Serif',serif" font-size="56" font-weight="bold" xml:space="preserve">Avg: CH3 403.21V</text>
<text transform="translate(1420.34 1616.7) scale(0.9995 1)" font-family="'Liberation Serif','DejaVu Serif',serif" font-size="56" font-weight="bold" xml:space="preserve">Freq: CH1 50.00Hz</text>
</svg></body></html>
